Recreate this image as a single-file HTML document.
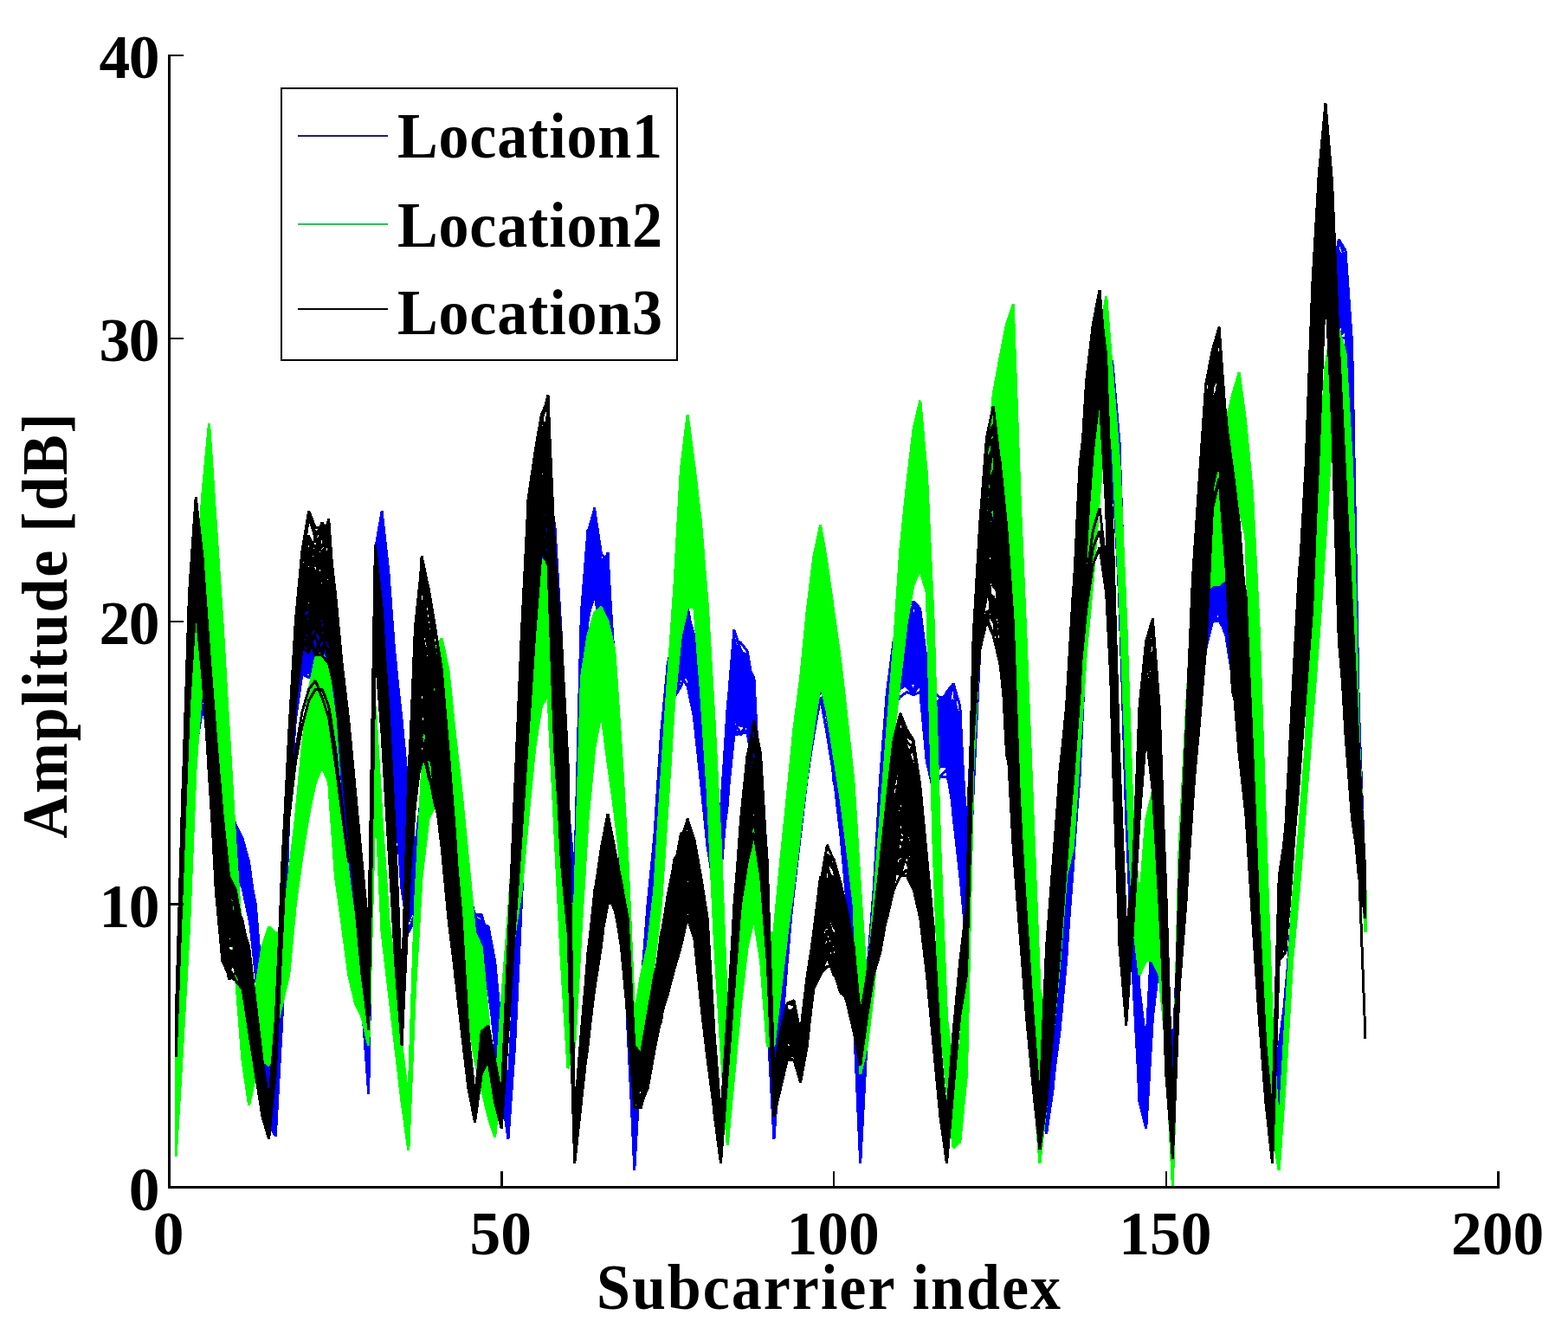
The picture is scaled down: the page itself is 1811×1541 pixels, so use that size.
<!DOCTYPE html>
<html lang="en"><head><meta charset="utf-8"><title>Amplitude vs Subcarrier index</title>
<style>html,body{margin:0;padding:0;background:#fff}svg{display:block}text{font-family:"Liberation Serif","DejaVu Serif",serif;font-weight:bold;fill:#000}.d polyline{fill:none;stroke-width:3;stroke-linejoin:bevel;vector-effect:non-scaling-stroke}.d polygon{stroke-width:3;stroke-linejoin:bevel;vector-effect:non-scaling-stroke}.b polyline{stroke:#00f}.b polygon{stroke:#00f;fill:#00f}.g polyline{stroke:#0f0}.g polygon{stroke:#0f0;fill:#0f0}.k polyline{stroke:#000}.k polygon{stroke:#000;fill:#000}</style></head><body>
<svg width="1811" height="1541" viewBox="0 0 1811 1541">
<rect width="1811" height="1541" fill="#fff"/>
<g class="d" shape-rendering="crispEdges" transform="translate(195.5,1371.5) scale(7.675,-32.69)">
<g class="b">
<polygon points="1,5.64 2,10.64 3,15.08 4,19.02 5,20.51 6,19.52 7,17.52 8,15.14 9,13.26 10,12.58 11,12.26 12,11.26 13,9.7 14,7.14 15,4.22 16,3.74 17,8.64 18,15.2 19,18.26 20,19.76 21,20.2 22,20.2 23,20.2 24,19.7 25,18.7 26,16.64 27,14.58 28,11.64 29,8.7 30,5.24 31,22.08 32,23.55 33,21.34 34,18.46 35,15.78 36,13.4 37,11.7 38,13.64 39,15.64 40,16.58 41,16.52 42,15.52 43,13.58 44,11.64 45,10.2 46,9.52 47,9.39 48,9.02 49,7.64 50,5.2 51,3.28 52,7.64 53,13.08 54,18.08 55,22.08 56,23.64 57,23.96 58,23.08 59,19.02 60,13.08 61,10.64 62,20.08 63,22.9 64,23.67 65,22.14 66,22.34 67,18.17 68,13.58 69,8.58 70,3.15 71,6.7 72,9.76 73,12.32 74,15.76 75,18.26 76,19.24 77,19.9 78,20.16 79,19.14 80,16.68 81,14.64 82,12.7 83,13.2 84,16.58 85,19.26 86,18.9 87,18.82 88,17.52 89,13.52 90,9.52 91,3.72 92,7.64 93,11.08 94,13.58 95,16.02 96,18.02 97,19.96 98,21 99,20.4 100,18.44 101,16.46 102,13.52 103,9.52 104,3.62 105,7.2 106,10.2 107,14.2 108,17.2 109,19.02 110,19.68 111,20.13 112,20.3 113,20.14 114,18.17 115,17.08 116,17.23 117,17.14 118,17.22 119,16.28 120,12.02 121,17.08 122,21.64 123,24.64 124,25.64 125,25.08 126,22.52 127,18.96 128,14.46 129,10.52 130,7.58 131,5.14 132,4.19 133,6.14 134,8.14 135,10.64 136,13.64 137,17.58 138,23.02 139,26.52 140,29.08 141,29.9 142,28.52 143,25.54 144,18.28 145,11.4 146,6.52 147,4.65 148,9.08 149,10.64 150,7.64 151,4.2 152,9.64 153,13.64 154,17.14 155,19.64 156,21.2 157,21.76 158,21.76 159,21.7 160,20.64 161,19.08 162,17.52 163,13.52 164,9.14 165,5.26 166,3.7 167,4.64 168,6.64 169,9.76 170,12.26 171,15.26 172,19.58 173,23.46 174,27.4 175,31.4 176,33.08 177,32.73 178,29.1 179,16.64 180,10.32 180,9.18 179,14.36 178,24.7 177,30.37 176,30.42 175,27.6 174,23.6 173,20.04 172,16.92 171,13.74 170,10.74 169,8.24 168,4.36 167,2.36 166,1.8 165,3.74 164,6.86 163,10.48 162,14.48 161,16.42 160,18.36 159,19.8 158,20.24 157,20.24 156,19.3 155,17.36 154,14.86 153,11.36 152,7.36 151,2.3 150,5.36 149,8.36 148,6.42 147,2.41 146,3.48 145,7.6 144,13.72 143,20.76 142,25.48 141,27.4 140,26.42 139,23.48 138,19.98 137,14.92 136,11.36 135,8.36 134,5.86 133,3.86 132,2.21 131,2.86 130,4.92 129,7.48 128,11.04 127,15.54 126,19.48 125,22.42 124,23.36 123,22.36 122,19.36 121,14.42 120,8.98 119,11.72 118,13.58 117,14.86 116,14.87 115,14.42 114,15.43 113,17.86 112,17.8 111,17.77 110,17.62 109,17.28 108,15.3 107,12.3 106,8.3 105,5.3 104,1.22 103,6.48 102,10.48 101,13.04 100,14.86 99,16.6 98,17.8 97,16.54 96,14.98 95,12.98 94,10.92 93,8.42 92,5.36 91,1.98 90,6.48 89,10.48 88,14.48 87,16.38 86,16.4 85,16.44 84,13.92 83,11.3 82,10.8 81,12.36 80,14.62 79,16.86 78,18.04 77,18 76,17.56 75,16.74 74,14.24 73,11.18 72,8.24 71,4.8 70,0.95 69,5.92 68,10.92 67,15.43 66,19.46 65,19.86 64,20.93 63,20.4 62,17.42 61,8.36 60,10.42 59,15.98 58,20.42 57,21.84 56,21.36 55,19.42 54,15.42 53,10.42 52,5.36 51,1.92 50,3.3 49,5.36 48,7.28 47,7.76 46,7.78 45,8.3 44,9.36 43,10.92 42,12.48 41,13.48 40,13.92 39,13.36 38,11.36 37,9.8 36,9.6 35,11.22 34,13.74 33,17.16 32,21.35 31,19.42 30,3.56 29,6.8 28,9.36 27,11.92 26,14.36 25,16.8 24,17.8 23,18.3 22,18.3 21,18.3 20,18.24 19,16.74 18,13.3 17,6.36 16,2.06 15,2.48 14,4.86 13,7.8 12,9.74 11,10.74 10,11.22 9,11.74 8,12.86 7,14.48 6,16.48 5,17.39 4,15.98 3,12.42 2,8.36 1,3.36"/>
<polyline points="1,3 2,8.1 3,12 4,15.5 5,16.9 6,16 7,14 8,12.5 9,11.5 10,11.04 11,10.59 12,9.5 13,8.23 14,4.82 15,2.63 16,1.86 17,6.07 18,13.09 19,16.89 20,18.17 21,18.32 22,18.21 23,18.12 24,17.64 25,16.5 26,14.08 27,11.7 28,9 29,6.5 30,3.3 31,19 32,21 33,16.5 34,15.01 35,11.61 36,9.01 37,9.5 38,11 39,13.18 40,14 41,13.89 42,12.59 43,10.5 44,9.56 45,8 46,8.01 47,7.6 48,7.06 49,5.21 50,3.53 51,1.7 52,5.09 53,10 54,15 55,19 56,21 57,21.5 58,20.09 59,15.5 60,10.82 61,8.08 62,17 63,20.17 64,20.89 65,20.21 66,19.53 67,15.47 68,11.15 69,5.51 70,0.82 71,4.59 72,8 73,11 74,14 75,16.5 76,17.32 77,17.7 78,18.34 79,16.5 80,14.3 81,12.08 82,10.5 83,11 84,13.97 85,16 86,16.02 87,16.39 88,14.24 89,10.25 90,6.99 91,1.78 92,5.43 93,8.35 94,10.75 95,12.5 96,14.5 97,16 98,17.3 99,16 100,14.52 101,12.5 102,10 103,6.03 104,0.84 105,5.25 106,8.42 107,12.08 108,15 109,17.21 110,17.83 111,17.77 112,17.54 113,18.31 114,15.04 115,14 116,14.52 117,14.75 118,13.32 119,11.65 120,8.52 121,14 122,19 123,22.12 124,23 125,22 126,19.09 127,15 128,10.5 129,7 130,4.91 131,2.76 132,1.9 133,3.5 134,6.3 135,8.19 136,11.26 137,14.71 138,20.23 139,23.52 140,26.32 141,27 142,25.57 143,20.61 144,13.53 145,8.1 146,3 147,2.06 148,6 149,8 150,5 151,2 152,7 153,11.34 154,14.5 155,17.08 156,19.04 157,20 158,20 159,19.63 160,18 161,16.4 162,14.3 163,10 164,6.56 165,3.88 166,1.5 167,2 168,4 169,8.16 170,10.5 171,13.5 172,16.5 173,19.66 174,23 175,27.08 176,30 177,30 178,24 179,14 180,9.17"/>
<polyline points="1,3.77 2,8.12 3,12.13 4,15.5 5,17.06 6,16 7,14 8,12.89 9,11.91 10,11.26 11,10.9 12,9.68 13,7.5 14,4.72 15,2.26 16,1.8 17,6 18,13 19,16.61 20,18.13 21,18.01 22,18.48 23,18.17 24,17.77 25,16.94 26,14 27,11.5 28,9.41 29,6.5 30,3.73 31,19.35 32,21.48 33,17.28 34,13 35,11.3 36,9 37,9.5 38,11.03 39,13.39 40,13.99 41,13.6 42,12 43,10.5 44,9 45,8.11 46,7.77 47,7.5 48,7.2 49,5.26 50,3.42 51,1.7 52,5 53,10 54,15.83 55,19.59 56,21.13 57,21.72 58,20.22 59,15.78 60,10.1 61,8.05 62,17 63,20 64,21.29 65,19.83 66,19.25 67,15.15 68,10.75 69,5.85 70,0.6 71,4.71 72,8.18 73,11 74,14 75,16.5 76,17.3 77,18.05 78,17.7 79,16.57 80,14.3 81,12 82,10.65 83,11.42 84,13.72 85,16.17 86,16 87,16.16 88,14.62 89,10.11 90,6 91,1.7 92,5 93,8 94,11.09 95,12.86 96,14.62 97,16.89 98,17.3 99,16.62 100,14.91 101,12.5 102,10 103,6 104,1.31 105,5.48 106,8 107,12.42 108,15.07 109,17.06 110,17.33 111,17.5 112,17.4 113,17.5 114,15 115,14.36 116,15.31 117,15.47 118,13.08 119,11 120,8.54 121,14 122,19.76 123,22.34 124,23 125,22.55 126,19.47 127,15 128,10.56 129,7.16 130,4.73 131,2.72 132,1.97 133,3.73 134,5.5 135,8 136,11.61 137,14.8 138,19.87 139,23 140,26.13 141,27.45 142,25 143,21.07 144,13.14 145,7.52 146,3.21 147,2.32 148,6.65 149,8.07 150,5.66 151,2 152,7 153,11.38 154,14.5 155,17.04 156,19.35 157,20.34 158,20 159,19.76 160,18.73 161,16.62 162,14.14 163,10.01 164,6.6 165,3.5 166,1.6 167,2.14 168,4.15 169,8.36 170,10.57 171,13.5 172,17.06 173,19.5 174,23.03 175,27.18 176,30.05 177,30 178,24.15 179,14.82 180,9"/>
<polyline points="1,3 2,8.56 3,12.62 4,15.5 5,16.99 6,16.45 7,14 8,12.5 9,11.98 10,11.48 11,10.92 12,9.79 13,7.83 14,5.21 15,2.25 16,2.09 17,6.05 18,13.09 19,16.67 20,18.14 21,18.16 22,18.35 23,18.43 24,18.07 25,16.5 26,14.3 27,11.5 28,9.35 29,6.76 30,3.63 31,19.08 32,21.09 33,16.5 34,13.61 35,10.5 36,9 37,9.7 38,11.64 39,13.39 40,13.5 41,13.23 42,12.79 43,11.2 44,9.33 45,8.86 46,7.76 47,7.8 48,7.27 49,5.12 50,3 51,2.1 52,5.6 53,10 54,15.77 55,19.75 56,21.62 57,21.8 58,20.25 59,15.94 60,10.68 61,8.82 62,17 63,20.59 64,21.2 65,19.93 66,19.1 67,15.4 68,10.7 69,5.96 70,0.85 71,4.94 72,8.16 73,11 74,14.15 75,16.81 76,17.71 77,18.2 78,18.6 79,17.54 80,14.51 81,12.29 82,10.68 83,11.39 84,13.61 85,16.35 86,16.08 87,16.05 88,14.67 89,10.06 90,6.7 91,2.27 92,5.24 93,8.3 94,10.5 95,12.5 96,15.03 97,16.26 98,18.02 99,17.02 100,15.43 101,13.98 102,10.45 103,6.47 104,0.84 105,5.35 106,8 107,12 108,15.47 109,17 110,17.67 111,17.91 112,17.56 113,18.2 114,15 115,14.3 116,14.5 117,14.5 118,13.98 119,12.34 120,8.61 121,14.57 122,19 123,22 124,23.55 125,22.53 126,19.37 127,15.16 128,10.79 129,7 130,5.28 131,2.74 132,2.14 133,4.33 134,5.71 135,8.06 136,11.59 137,14.5 138,19.5 139,23 140,27.24 141,27.04 142,25.04 143,21.03 144,13 145,8.3 146,3.47 147,2.25 148,6 149,8.07 150,5.23 151,2.29 152,7.6 153,11.58 154,15.06 155,17.73 156,19.13 157,20 158,20.12 159,19.5 160,18 161,16 162,14 163,10.91 164,7.08 165,3.79 166,1.77 167,2.53 168,4.22 169,8.03 170,10.63 171,13.5 172,16.72 173,20.87 174,23.96 175,27.11 176,30.7 177,30.19 178,24.4 179,14.2 180,9.32"/>
<polyline points="1,3.34 2,8.38 3,12.38 4,16.04 5,17.72 6,17.01 7,14 8,13.29 9,11.77 10,11.2 11,11.28 12,9.78 13,8.39 14,5.28 15,2.34 16,2.26 17,6.68 18,13.33 19,16.5 20,18.19 21,18.25 22,18.01 23,18.73 24,17.7 25,16.67 26,14.24 27,11.63 28,9.13 29,6.85 30,3.68 31,19.34 32,21.42 33,16.61 34,14.33 35,11.03 36,9.91 37,9.66 38,11.29 39,13.49 40,13.54 41,14.48 42,12.45 43,10.86 44,9.1 45,8.66 46,8.07 47,7.81 48,7 49,5.23 50,3.49 51,1.87 52,5.1 53,10.14 54,15.3 55,19.58 56,21.29 57,21.95 58,21.51 59,16.79 60,10.11 61,8.49 62,17.45 63,20.33 64,21.27 65,19.72 66,19.28 67,15.26 68,10.87 69,6.38 70,1.2 71,4.51 72,8.21 73,11.11 74,14.48 75,16.87 76,17.85 77,18.08 78,17.7 79,17.08 80,14.74 81,12.55 82,10.5 83,11.31 84,13.65 85,16.14 86,16.47 87,16.46 88,14.09 89,10 90,6 91,1.88 92,5.77 93,8.51 94,10.5 95,12.8 96,15.32 97,17.48 98,18.45 99,16.94 100,15.07 101,12.63 102,10.33 103,6.34 104,0.95 105,5.29 106,8.17 107,12.35 108,15.63 109,17.44 110,17.74 111,17.73 112,17.4 113,17.91 114,15.75 115,14.21 116,15.39 117,14.89 118,13.95 119,11.73 120,8.59 121,15.21 122,19.05 123,22.64 124,23.18 125,22.48 126,19.11 127,15.29 128,11.4 129,8.23 130,4.62 131,2.88 132,2.5 133,3.74 134,6.17 135,8.24 136,11.67 137,15.22 138,20.63 139,23.78 140,26.11 141,27.69 142,25.1 143,21.27 144,14.62 145,7.86 146,3.21 147,2.72 148,6.43 149,8 150,5.24 151,2.66 152,7.3 153,11.46 154,14.84 155,17 156,19.27 157,20.4 158,20.37 159,19.86 160,18 161,16.94 162,14.85 163,10.93 164,7.26 165,3.64 166,1.62 167,2.41 168,4.82 169,8 170,10.68 171,13.6 172,17.14 173,20.77 174,23.58 175,27.14 176,30.57 177,30.41 178,24.05 179,14.75 180,9.16"/>
<polyline points="1,3.57 2,8 3,13.22 4,15.55 5,17.37 6,16.46 7,14.71 8,12.68 9,11.79 10,11.52 11,11.17 12,10.21 13,8.27 14,5.07 15,2.69 16,2.28 17,6.21 18,13.41 19,16.8 20,18.2 21,18.22 22,18.39 23,18.03 24,17.5 25,16.9 26,14.58 27,11.68 28,9.7 29,7.09 30,3.77 31,20 32,21.81 33,17.89 34,14.89 35,11.67 36,9.38 37,10 38,11.71 39,13.43 40,14.19 41,13.51 42,12.11 43,10.5 44,9.16 45,8.09 46,7.8 47,8.15 48,7.01 49,5.3 50,3.73 51,2.27 52,5.56 53,10.83 54,15.94 55,20.43 56,21.54 57,21.88 58,21.04 59,15.99 60,10.62 61,8.94 62,17.49 63,20.44 64,20.98 65,19.55 66,19.47 67,15.55 68,10.5 69,5.77 70,0.9 71,5.01 72,8.49 73,11.27 74,14.82 75,16.66 76,17.78 77,18.49 78,18.36 79,17.04 80,14.88 81,12.64 82,10.98 83,11.66 84,13.5 85,16.59 86,16.3 87,16.31 88,15.07 89,10.8 90,6.7 91,1.7 92,5.53 93,8 94,10.71 95,12.99 96,15.96 97,16.09 98,18.72 99,17.96 100,15.9 101,13.72 102,11.41 103,6.66 104,1.47 105,5.58 106,8.24 107,12.35 108,15.44 109,17.19 110,17.89 111,17.67 112,17.45 113,17.78 114,15.28 115,14.16 116,15.18 117,15.56 118,13.71 119,12.17 120,9.32 121,14.41 122,20.04 123,22.75 124,24.1 125,22.75 126,19.88 127,16.71 128,11.29 129,7.81 130,5.49 131,2.82 132,2.45 133,3.59 134,5.76 135,8.17 136,11.6 137,14.8 138,19.79 139,23.82 140,27.15 141,27.25 142,26.68 143,20.47 144,14.03 145,7.73 146,4.61 147,2.89 148,6.9 149,9.01 150,5.84 151,2.41 152,7.3 153,11 154,15.21 155,17.24 156,19.21 157,20.23 158,20.33 159,19.97 160,18.6 161,17.21 162,15.04 163,10.29 164,7.25 165,3.72 166,1.73 167,2.83 168,4.45 169,8.38 170,11.14 171,14.15 172,17.26 173,19.96 174,23 175,27.95 176,30 177,30.34 178,24.58 179,14.19 180,9.28"/>
<polyline points="1,3.08 2,8.57 3,12.93 4,15.84 5,18.14 6,17.43 7,15.29 8,12.95 9,11.8 10,11.57 11,11.14 12,10.18 13,8.33 14,5.09 15,2.57 16,1.83 17,6.84 18,14.08 19,16.82 20,18.33 21,18.7 22,18.64 23,18.21 24,17.88 25,16.78 26,15.26 27,12 28,9.89 29,7.5 30,4.16 31,20.2 32,22.06 33,16.94 34,14.06 35,11.32 36,9.93 37,10.7 38,11.16 39,13.83 40,13.84 41,14.41 42,13.38 43,11.06 44,10.24 45,8.53 46,8.26 47,8 48,7.34 49,5.5 50,3.49 51,2.2 52,5.69 53,11.6 54,15.71 55,19.61 56,21.44 57,21.89 58,20.24 59,15.93 60,11.03 61,8.62 62,17.64 63,20.78 64,21.62 65,20.31 66,20.11 67,15.58 68,11.18 69,6.01 70,1.21 71,4.84 72,8.36 73,11.29 74,14.37 75,16.85 76,17.63 77,18.53 78,18.17 79,16.81 80,14.92 81,12.31 82,10.78 83,11.57 84,13.69 85,16 86,16.82 87,17.02 88,14.18 89,10.47 90,7.05 91,1.71 92,5.34 93,8.29 94,11.15 95,12.55 96,15.71 97,16.91 98,18.35 99,16.95 100,14.35 101,13.42 102,10.33 103,6.85 104,1.23 105,5.43 106,8.45 107,12.7 108,15.7 109,17.24 110,17.86 111,18.51 112,18.28 113,17.94 114,15.76 115,14.65 116,15.47 117,15.16 118,14.2 119,13.57 120,8.76 121,14.35 122,19.08 123,22.13 124,23.87 125,22.83 126,20.5 127,15.09 128,11.1 129,8.47 130,5.64 131,3.43 132,2.69 133,4.15 134,6.12 135,8.62 136,11.86 137,15.15 138,20.44 139,24.4 140,26.34 141,27.45 142,26.09 143,21.22 144,14.24 145,9.16 146,4.05 147,2.57 148,7.13 149,9.38 150,5.28 151,2.34 152,7.64 153,11.41 154,15.76 155,17.78 156,19.43 157,20.53 158,20.28 159,19.9 160,18.7 161,17.61 162,14 163,11.02 164,7.53 165,4.06 166,2.49 167,2.74 168,4.65 169,8.38 170,10.74 171,14.25 172,16.84 173,20.43 174,23.85 175,27.72 176,30 177,30.55 178,25.31 179,14.67 180,9.43"/>
<polyline points="1,3.73 2,9.15 3,12.94 4,16.15 5,17.54 6,16.37 7,14.83 8,13.17 9,11.86 10,11.83 11,10.89 12,9.82 13,8.01 14,5.11 15,3.01 16,2.34 17,6.43 18,13.62 19,17.3 20,18.6 21,18.59 22,18.79 23,18.62 24,17.98 25,16.99 26,15.21 27,12.37 28,10.02 29,7.01 30,3.85 31,20.77 32,21.24 33,18.49 34,14.65 35,11.91 36,9.66 37,10.35 38,11.56 39,13.91 40,14.81 41,13.83 42,12.78 43,11.1 44,9.34 45,8.33 46,8.03 47,8.19 48,7.24 49,5 50,3.52 51,2.29 52,6.24 53,11.18 54,16.36 55,19.97 56,22.1 57,22.27 58,20.23 59,16.51 60,10.56 61,8.49 62,17.86 63,20.49 64,21.23 65,20.7 66,20.14 67,15.86 68,10.96 69,6.53 70,1.16 71,5.11 72,8.49 73,11.19 74,14.49 75,16.86 76,17.94 77,18.4 78,18.35 79,17.62 80,14.8 81,12.23 82,10.98 83,11.59 84,14.5 85,16.83 86,16.89 87,16.63 88,15.56 89,10.76 90,7.03 91,2.23 92,5.7 93,8.96 94,11.14 95,13.42 96,15.66 97,16.75 98,17.58 99,17.31 100,15.37 101,13.35 102,11.28 103,7.28 104,2.47 105,5.9 106,8.67 107,12.63 108,15 109,17.7 110,18.19 111,18.19 112,18.18 113,18.34 114,16.72 115,15.14 116,15.53 117,15.14 118,14.62 119,12.53 120,9.47 121,15.42 122,19.72 123,22.74 124,23.58 125,22.93 126,20.58 127,16.21 128,12.14 129,8.32 130,5.19 131,2.75 132,3.13 133,4.15 134,6.18 135,8.41 136,12.04 137,15.74 138,20.71 139,23.78 140,26.23 141,27.22 142,25.49 143,20.84 144,14.53 145,8.46 146,3.66 147,2.86 148,6.69 149,8.7 150,5.96 151,2.51 152,7.7 153,11.79 154,15.4 155,17.44 156,19.62 157,20 158,20.7 159,19.93 160,18.26 161,17.04 162,15.45 163,11.59 164,7.46 165,3.88 166,2.24 167,2.88 168,4.72 169,8.46 170,11.2 171,14.3 172,17.18 173,20.66 174,24.81 175,28.97 176,31.55 177,30.41 178,26.11 179,14.58 180,9.03"/>
<polyline points="1,4.45 2,9.25 3,12.85 4,17.39 5,18.05 6,17.2 7,14.94 8,13.47 9,12.15 10,11.49 11,10.97 12,9.99 13,8.07 14,5.62 15,2.75 16,2.43 17,6.88 18,13.61 19,17.1 20,18.34 21,18.87 22,18.87 23,18.63 24,18.56 25,16.95 26,14.94 27,12.57 28,9.63 29,7.13 30,4.13 31,20.08 32,21.99 33,19.02 34,15.12 35,11.4 36,10.17 37,10.45 38,11.81 39,13.49 40,13.73 41,14.16 42,13.63 43,10.99 44,9.17 45,8.84 46,8.06 47,8.11 48,7.66 49,5.69 50,3.9 51,2.42 52,6 53,10.8 54,16.32 55,19.88 56,21.94 57,21.96 58,21.15 59,16.88 60,11.44 61,8.9 62,18.24 63,20.86 64,21.97 65,20.69 66,20.59 67,15.94 68,11.08 69,6.44 70,1.31 71,4.96 72,8.63 73,11.53 74,14.62 75,17.28 76,18.04 77,18.23 78,18.42 79,17.36 80,15.35 81,13.21 82,11.29 83,11.97 84,14.18 85,16.94 86,17.34 87,16.96 88,15.45 89,10.33 90,6.46 91,2.18 92,6.22 93,9.67 94,11.41 95,13.39 96,15.36 97,16.97 98,18.75 99,17.24 100,16.43 101,13.99 102,10.76 103,7.13 104,1.64 105,5.89 106,8.95 107,12.67 108,16.01 109,17.87 110,18.14 111,18.46 112,18.63 113,18.29 114,15.77 115,15.38 116,15.31 117,15.09 118,14.46 119,11.72 120,9.63 121,14.54 122,19.78 123,22.41 124,23.75 125,23.43 126,20.2 127,15.85 128,12.6 129,7.88 130,5.96 131,3.13 132,2.19 133,4.82 134,6.17 135,9.05 136,12.21 137,15.1 138,20.77 139,24.05 140,27.33 141,28.04 142,25.74 143,21.91 144,15.16 145,8.22 146,4.27 147,2.66 148,6.88 149,8.89 150,5.86 151,3.02 152,8.17 153,12.18 154,15.67 155,18.01 156,19.51 157,20.83 158,20.94 159,20.27 160,18.75 161,16.91 162,15.51 163,11.14 164,7 165,4.01 166,2.02 167,2.83 168,4.66 169,8.46 170,11.43 171,14.34 172,17.04 173,20.43 174,24.23 175,28.19 176,30.46 177,31.07 178,24.58 179,14.99 180,9.51"/>
<polyline points="1,4.31 2,8.96 3,13.97 4,16.43 5,18.71 6,17.84 7,14.91 8,13.75 9,11.8 10,11.84 11,11.19 12,10.11 13,8.23 14,5.28 15,3.11 16,2.57 17,6.91 18,13.08 19,17.33 20,18.82 21,19.15 22,18.87 23,18.55 24,18.29 25,17.1 26,15.42 27,12.76 28,9.78 29,7.08 30,4.26 31,20.32 32,21.19 33,17.7 34,15.63 35,11.35 36,10.27 37,10.35 38,12.07 39,14.5 40,15.16 41,14.36 42,13.85 43,11.95 44,10.22 45,9.16 46,8.28 47,8.36 48,7.96 49,5.88 50,3.95 51,2.1 52,6.02 53,11.19 54,16.33 55,20.9 56,22.29 57,22.4 58,21.27 59,16.94 60,11.44 61,9.11 62,18.08 63,21.3 64,21.38 65,20.06 66,20.68 67,16.16 68,11.78 69,6.19 70,1.41 71,5.14 72,8.5 73,11.73 74,14.47 75,17.35 76,18.02 77,18.75 78,18.29 79,17.58 80,15.29 81,13.08 82,11.42 83,11.99 84,14.72 85,17.13 86,16.74 87,16.97 88,15.32 89,11.62 90,8.37 91,2.79 92,6.06 93,9.4 94,11.05 95,13.71 96,15.32 97,17.65 98,17.86 99,17.76 100,14.49 101,14.93 102,11.98 103,6.89 104,2.21 105,5.83 106,9.35 107,13.1 108,15.81 109,17.73 110,18.4 111,18.08 112,18.85 113,18.63 114,15.94 115,15.01 116,15.35 117,15.38 118,15.57 119,12.75 120,9.88 121,14.77 122,20.36 123,23.08 124,24.48 125,22.69 126,20.22 127,16.67 128,12.24 129,8.57 130,5.88 131,3.4 132,2.71 133,4.11 134,6.43 135,8.8 136,12.33 137,15.93 138,20.82 139,24.65 140,26.99 141,28.1 142,26.09 143,22.62 144,14.78 145,8.87 146,4.18 147,2.62 148,7.46 149,9.14 150,6.26 151,2.6 152,7.38 153,11.91 154,15.63 155,17.37 156,20.35 157,20.78 158,20.85 159,20.05 160,19.3 161,17.32 162,15.94 163,12 164,7.14 165,4 166,2.09 167,2.8 168,4.85 169,8.77 170,10.86 171,13.86 172,17.82 173,20.66 174,24.99 175,28.83 176,31.67 177,30.69 178,25.55 179,15.34 180,9.5"/>
<polyline points="1,4.25 2,8.96 3,12.07 4,17.01 5,18.13 6,16.88 7,15.15 8,12.57 9,11.85 10,11.86 11,11.69 12,10.73 13,8.35 14,5.78 15,3.36 16,2.46 17,7.75 18,13.81 19,17.32 20,18.48 21,18.93 22,18.8 23,19.05 24,17.98 25,17.27 26,15.5 27,12.25 28,10.16 29,7.53 30,4.05 31,20.33 32,22.62 33,19.46 34,15.98 35,13.16 36,10.45 37,10.49 38,12.64 39,14.35 40,14.18 41,13.43 42,12.97 43,11.63 44,9.77 45,8.73 46,8.36 47,8.47 48,7.92 49,6.57 50,3.68 51,2.54 52,6.4 53,10.95 54,16.88 55,19.82 56,21.7 57,23.25 58,21.63 59,16.94 60,11.56 61,9.26 62,17.68 63,21.21 64,22.2 65,20.5 66,20.43 67,16.23 68,12.18 69,6.77 70,1.66 71,5.25 72,8.65 73,11.64 74,14.87 75,17.16 76,17.83 77,18.61 78,18.68 79,17.81 80,14.99 81,12.81 82,11.44 83,12.23 84,14.74 85,17.37 86,17 87,17.2 88,16.07 89,12.04 90,8.13 91,2.27 92,6.44 93,9 94,11.96 95,12.9 96,15.75 97,17 98,19.12 99,17.6 100,16.4 101,13.79 102,12.19 103,7.29 104,2.67 105,5.89 106,8.8 107,13.29 108,15.96 109,17.95 110,18.03 111,18.49 112,18.65 113,18.33 114,16.33 115,14.3 116,15.73 117,15.3 118,15.21 119,12.72 120,9.59 121,15.09 122,20.22 123,23.37 124,24.09 125,23.19 126,20.87 127,17.27 128,11.56 129,8.16 130,5.59 131,4.09 132,3.11 133,4.71 134,6.58 135,8.58 136,12.26 137,15.45 138,20.5 139,25.17 140,26.77 141,28.74 142,26.7 143,22.04 144,15.65 145,8.69 146,4.75 147,3.06 148,6.94 149,9.91 150,5.89 151,3.08 152,7.94 153,12.13 154,15.04 155,17.62 156,19 157,20.88 158,20.8 159,20.14 160,19.44 161,17.65 162,16.87 163,11.8 164,8.04 165,4.45 166,2.69 167,3.13 168,4.95 169,8.82 170,11.4 171,13.89 172,17.17 173,20.87 174,25.49 175,28.54 176,30.61 177,31.39 178,26.68 179,15.8 180,9.65"/>
<polyline points="1,4.07 2,9.73 3,13.56 4,17.34 5,18.69 6,17.11 7,15.08 8,13.45 9,12.11 10,11.7 11,11.63 12,10.61 13,8.59 14,6.32 15,3.08 16,2.76 17,7.14 18,13.9 19,17.03 20,18.96 21,18.74 22,19.35 23,19.54 24,18.81 25,17.74 26,15.61 27,12.28 28,10.04 29,7.17 30,4.05 31,21.08 32,22.31 33,19.17 34,15.31 35,12.86 36,9.84 37,10.33 38,12.02 39,14.29 40,15.2 41,15.21 42,14.01 43,12.36 44,9.93 45,8.83 46,8.2 47,8.23 48,8.05 49,6.43 50,4.35 51,2.68 52,6.11 53,10.74 54,16.15 55,20.76 56,21.59 57,22.35 58,21.46 59,17.8 60,11.49 61,9.16 62,18.87 63,21.07 64,21.98 65,20.2 66,20.66 67,16.37 68,12.49 69,7.11 70,1.96 71,5.55 72,8.63 73,11.29 74,14.6 75,17.12 76,18.33 77,19.08 78,19.24 79,17.79 80,15.73 81,13.16 82,11.72 83,11.76 84,14.71 85,16.68 86,17.98 87,18 88,15.97 89,12.16 90,7.46 91,2.3 92,5.78 93,9 94,12.28 95,13.95 96,16.24 97,17.67 98,19.26 99,18.06 100,15.81 101,14.22 102,11.45 103,7.34 104,2.71 105,5.72 106,9.46 107,13.03 108,16.21 109,17.82 110,18.09 111,18.96 112,18.45 113,18.55 114,16.89 115,15.96 116,15.52 117,15.8 118,14.79 119,13.08 120,9.64 121,14.82 122,19.84 123,23.66 124,24.24 125,24.54 126,21.02 127,16.91 128,11.55 129,8.94 130,5.63 131,3.15 132,3.14 133,5.54 134,6.9 135,9.92 136,12.57 137,15.31 138,21.09 139,23.94 140,27.43 141,28.1 142,26.83 143,22.6 144,16.84 145,9.54 146,4.72 147,3.32 148,6.67 149,8.82 150,6.03 151,3.2 152,8.58 153,12.85 154,15.83 155,18.48 156,19.85 157,20.44 158,20.76 159,20.42 160,19.05 161,17.85 162,15.63 163,12.37 164,7.92 165,4.08 166,2.62 167,3.26 168,4.83 169,8.67 170,11.17 171,14.47 172,18.06 173,21.61 174,24.8 175,28.52 176,31.01 177,30.88 178,26.31 179,14.98 180,9.85"/>
<polyline points="1,4.43 2,9.01 3,13.08 4,16.88 5,18.92 6,17.6 7,15.59 8,13.59 9,12.37 10,12.12 11,11.3 12,10.38 13,9.13 14,6.16 15,3.03 16,3.07 17,6.98 18,14.24 19,16.85 20,18.63 21,19.25 22,18.86 23,18.83 24,18.54 25,17.55 26,15.15 27,12.81 28,10.91 29,8.05 30,4.42 31,20.28 32,22.24 33,18.96 34,16.21 35,14.21 36,10.96 37,10.61 38,12.13 39,14.27 40,14.67 41,14.77 42,14.1 43,11.82 44,10.19 45,9.13 46,8.24 47,8.89 48,7.78 49,6.33 50,3.98 51,2.83 52,6.26 53,11.43 54,17.23 55,20.47 56,22.03 57,22.65 58,21.49 59,16.82 60,11.36 61,9.18 62,18.75 63,21.7 64,22.43 65,20.86 66,21.11 67,16.65 68,12.6 69,7.32 70,1.84 71,5.96 72,8.59 73,11.51 74,14.69 75,17.3 76,17.92 77,18.41 78,18.31 79,17.77 80,15.23 81,13.97 82,11.82 83,11.87 84,15.62 85,17.81 86,17.95 87,17.18 88,16.36 89,12.3 90,7.64 91,2.51 92,6.16 93,9.54 94,12.77 95,14.85 96,16.73 97,17.75 98,18.93 99,18.35 100,16.27 101,14.36 102,11.8 103,8.25 104,2.34 105,6.26 106,9.12 107,13.12 108,16.05 109,18.31 110,18.52 111,19.16 112,18.69 113,19.03 114,15.96 115,15.29 116,15.78 117,15.6 118,15.08 119,13.19 120,10.31 121,15.43 122,20.44 123,23.35 124,24.13 125,23.49 126,20.84 127,16.42 128,12.48 129,9.18 130,5.85 131,3.88 132,3.11 133,4.48 134,7.15 135,10.04 136,12.01 137,16.85 138,21.08 139,25.49 140,27.05 141,28.97 142,26.97 143,22.15 144,15.26 145,8.7 146,4.37 147,3.41 148,7.38 149,8.46 150,6.12 151,3.14 152,8.27 153,12.79 154,15.26 155,18.43 156,20.17 157,21.09 158,20.69 159,20.38 160,19.39 161,17.68 162,15.12 163,11.94 164,7.8 165,4.49 166,1.88 167,3.37 168,4.94 169,8.72 170,11.48 171,14.69 172,18.08 173,21.47 174,25.97 175,28.91 176,31.62 177,31.34 178,26.21 179,15.48 180,10"/>
<polyline points="1,3.97 2,9.55 3,13.58 4,17.69 5,18.67 6,17.62 7,15.56 8,13.87 9,12.53 10,11.78 11,11.48 12,10.65 13,8.54 14,6.41 15,3.15 16,2.53 17,7.33 18,14.16 19,17.45 20,18.78 21,19.22 22,19.43 23,19.43 24,18.69 25,17.38 26,16 27,13.58 28,10.47 29,8.02 30,4.66 31,20.73 32,22.11 33,19.2 34,15.3 35,13.13 36,12.03 37,10.69 38,12.12 39,14.5 40,15.18 41,14.59 42,13.96 43,12.91 44,10.69 45,9.28 46,8.7 47,8.9 48,7.67 49,6.67 50,4.11 51,2.67 52,6.41 53,11.55 54,15.91 55,20.78 56,22.6 57,22.58 58,21 59,17.22 60,10.79 61,9.13 62,18.75 63,21.78 64,22.45 65,21.09 66,20.83 67,16.91 68,12.51 69,7.48 70,2.06 71,5.73 72,9.03 73,11.51 74,14.89 75,17.14 76,18.2 77,18.32 78,18.97 79,18.17 80,15.73 81,13.7 82,11.81 83,12.23 84,14.36 85,17.51 86,17.53 87,17.3 88,16.35 89,11.72 90,8.63 91,3.08 92,6.43 93,9.19 94,11.81 95,14.19 96,16.47 97,19.29 98,18.86 99,19.17 100,16.62 101,14.51 102,11.99 103,8.07 104,2.56 105,6.22 106,9.07 107,13.4 108,16.24 109,18.18 110,18.27 111,18.65 112,18.63 113,18.92 114,16.76 115,15.64 116,16.09 117,15.95 118,16.04 119,13.51 120,10.8 121,15.48 122,20.25 123,23.03 124,24.89 125,23.31 126,20.67 127,16.64 128,12.53 129,8.5 130,6.89 131,4.06 132,3.79 133,5.35 134,6.47 135,9.63 136,12.72 137,16.43 138,21.33 139,25.17 140,28.14 141,28.62 142,27.47 143,23.93 144,17.19 145,9.43 146,5.15 147,3.39 148,7.38 149,9.09 150,6.28 151,3.43 152,8.23 153,12.4 154,15.94 155,18.22 156,20.23 157,20.74 158,20.86 159,20.63 160,19.49 161,17.28 162,15.9 163,11.2 164,7.28 165,4.39 166,2.94 167,3.9 168,5.73 169,9.02 170,11.86 171,14.54 172,17.97 173,22.13 174,25.07 175,28.8 176,31.84 177,31.78 178,26.48 179,15.16 180,9.73"/>
<polyline points="1,4.55 2,9.73 3,14.19 4,17.09 5,20.13 6,18.16 7,15.97 8,13.66 9,12.48 10,11.6 11,11.52 12,10.33 13,8.76 14,5.68 15,3.33 16,3.4 17,7.93 18,14.4 19,17.42 20,19.43 21,19 22,19.04 23,19.68 24,18.65 25,18.09 26,15.62 27,13.92 28,10.95 29,7.84 30,4.25 31,21.01 32,22.96 33,19.62 34,14.71 35,13.69 36,11.64 37,10.86 38,12.49 39,14.87 40,14.77 41,15.08 42,13.08 43,11.39 44,10.15 45,9.07 46,8.5 47,8.52 48,8.43 49,6.88 50,4.44 51,2.74 52,6.41 53,11.47 54,16.25 55,20.54 56,22.07 57,22.72 58,21.93 59,17.69 60,12.26 61,9.33 62,18.17 63,21.5 64,23.27 65,21.4 66,20.92 67,17.39 68,12.13 69,7.8 70,1.86 71,5.57 72,9.09 73,11.56 74,14.97 75,17.94 76,18.6 77,18.83 78,19.22 79,18.2 80,15.6 81,13.74 82,12.11 83,12.26 84,15.49 85,17.85 86,17.6 87,17.29 88,16.36 89,12.6 90,7.96 91,2.77 92,6.86 93,10.03 94,12.87 95,14.89 96,16.57 97,17.66 98,19.61 99,18.42 100,15.91 101,13.96 102,11.21 103,8.26 104,2.36 105,5.53 106,9.18 107,13.26 108,16.39 109,18.29 110,18.66 111,19.24 112,19.38 113,18.87 114,17.26 115,15.6 116,15.71 117,16.03 118,14.78 119,14.04 120,10.29 121,15.83 122,20.77 123,22.95 124,24.76 125,23.94 126,20.94 127,17.52 128,12.79 129,8.73 130,5.8 131,4.18 132,3.41 133,4.63 134,6.92 135,9.33 136,12.96 137,16.28 138,21.22 139,25.76 140,27.97 141,28.72 142,27.02 143,22.85 144,15.84 145,9.84 146,5.15 147,3.44 148,7.91 149,10.23 150,6.53 151,3.09 152,8.72 153,12.3 154,16.87 155,18.71 156,20.36 157,21.02 158,21.33 159,20.43 160,19.44 161,17.18 162,16.6 163,12.15 164,8.72 165,4.58 166,2.65 167,3.46 168,5.86 169,8.87 170,11.54 171,14.31 172,17.89 173,21.36 174,26.21 175,28.93 176,31.92 177,31.91 178,26.78 179,15.24 180,10.08"/>
<polyline points="1,4.5 2,9.38 3,14.03 4,18.66 5,20.06 6,18.29 7,16.16 8,13.9 9,12.48 10,11.8 11,11.5 12,10.21 13,8.94 14,5.98 15,3.41 16,3 17,7.34 18,14.76 19,17.75 20,19.55 21,19.61 22,19.76 23,19.6 24,18.85 25,17.86 26,15.42 27,12.62 28,10.17 29,7.87 30,4.26 31,20.46 32,22.44 33,19.92 34,15.87 35,13.92 36,11.97 37,10.95 38,12.39 39,13.82 40,15.05 41,15.45 42,14.46 43,11.92 44,10.9 45,9.46 46,8.68 47,8.48 48,8.26 49,6.68 50,4.59 51,2.57 52,6.42 53,11.95 54,16.75 55,21.01 56,22.23 57,23.1 58,22.06 59,16.96 60,11.85 61,9.96 62,18.92 63,22.23 64,22.61 65,21.4 66,21.27 67,17.09 68,13.15 69,7.3 70,1.69 71,5.66 72,9.1 73,11.61 74,15.15 75,17.67 76,18.46 77,18.97 78,19.17 79,18.08 80,16.49 81,14.11 82,12.01 83,12.6 84,15.74 85,18.66 86,18.06 87,17.6 88,15.63 89,11.3 90,7.98 91,3.27 92,6.68 93,10.11 94,12.38 95,14.78 96,16.43 97,18.38 98,20.67 99,19.15 100,17.54 101,14.77 102,12.47 103,8.17 104,1.98 105,5.63 106,8.76 107,13.32 108,16.54 109,18.23 110,18.83 111,19.62 112,19.43 113,19.1 114,17.36 115,16.44 116,15.63 117,16.01 118,15.15 119,13.33 120,10.91 121,15.85 122,21.12 123,23.75 124,24.54 125,23.91 126,21.69 127,17.82 128,13.22 129,9.45 130,6.49 131,4.43 132,3.04 133,4.92 134,6.91 135,9.71 136,12.52 137,16.71 138,21.53 139,25.29 140,27.94 141,29.06 142,27.56 143,23.88 144,16.43 145,9.97 146,5.94 147,3.61 148,7.55 149,9.26 150,6.5 151,2.98 152,8.36 153,12.38 154,16.28 155,18.64 156,20.68 157,21.41 158,21.29 159,20.92 160,19.74 161,18.61 162,16.79 163,11.68 164,8.1 165,4.32 166,3.18 167,3.46 168,5.08 169,8.88 170,11.35 171,14.46 172,18.64 173,21.93 174,26.56 175,29.55 176,32.22 177,31.27 178,26.99 179,15.73 180,9.68"/>
<polyline points="1,4.97 2,9.48 3,14.13 4,18.18 5,19.84 6,17.73 7,16.02 8,13.8 9,12.67 10,11.9 11,11.54 12,10.9 13,9.6 14,5.66 15,3.91 16,2.84 17,7.91 18,14.54 19,17.95 20,19.19 21,19.35 22,19.54 23,19.71 24,18.74 25,18.03 26,15.69 27,13.56 28,10.77 29,8.17 30,4.85 31,21.08 32,22.68 33,18.59 34,16.03 35,12.97 36,12.17 37,10.67 38,12.58 39,15.01 40,16.04 41,15.98 42,14.08 43,12.64 44,11.04 45,9.2 46,8.76 47,8.5 48,8.25 49,7.08 50,4.58 51,2.74 52,6.62 53,12.56 54,17.25 55,20.54 56,23.39 57,23.06 58,22.1 59,17.8 60,11.97 61,10.01 62,18.54 63,21.9 64,22.41 65,21.74 66,21.38 67,17.34 68,12.86 69,7.9 70,2.42 71,5.38 72,9.24 73,11.8 74,15.27 75,17.72 76,18.49 77,19.01 78,19.16 79,18.45 80,15.91 81,13.5 82,11.84 83,12.5 84,15.26 85,18.12 86,17.8 87,17.15 88,16.54 89,12.49 90,8.72 91,3.33 92,6.48 93,10.19 94,12.62 95,14.92 96,17.29 97,19.21 98,19.38 99,19.79 100,16.98 101,14.77 102,11.98 103,8.19 104,2.34 105,6.79 106,9.66 107,13.34 108,16.75 109,18.43 110,18.89 111,19.46 112,19.24 113,19.15 114,17.33 115,15.5 116,16.06 117,16.52 118,16.44 119,13.52 120,10.8 121,15.74 122,20.63 123,23.94 124,25.27 125,24.79 126,21.88 127,18.07 128,13.26 129,8.57 130,6.63 131,3.84 132,3.11 133,5.32 134,6.87 135,10.41 136,13.05 137,16.76 138,22.06 139,25.39 140,28 141,29.12 142,27.07 143,23.98 144,16.82 145,10.52 146,5.03 147,3.9 148,7.99 149,9.89 150,6.86 151,3.49 152,8.92 153,12.97 154,16.78 155,18.96 156,20.66 157,20.99 158,21.11 159,21.11 160,20.03 161,17.7 162,16.4 163,12.37 164,8.39 165,4.64 166,2.9 167,3.73 168,5.74 169,9.34 170,11.48 171,14.5 172,18.92 173,22.54 174,26.02 175,29.47 176,32.44 177,31.44 178,27.94 179,15.78 180,9.85"/>
<polyline points="1,5.08 2,9.51 3,14.47 4,17.94 5,18.86 6,18.97 7,16.48 8,14.18 9,13.04 10,12.05 11,11.84 12,10.58 13,8.55 14,5.91 15,3.9 16,3.04 17,8.81 18,14.05 19,17.98 20,19.08 21,19.79 22,19.62 23,19.37 24,19.3 25,18.39 26,16.28 27,14.13 28,11.01 29,7.98 30,4.82 31,20.94 32,22.64 33,18.84 34,17.23 35,14.72 36,12.14 37,10.85 38,13.3 39,15.19 40,16.45 41,15.82 42,15.14 43,12.8 44,10.98 45,9.64 46,8.97 47,8.77 48,8.59 49,7.27 50,4.5 51,3.05 52,7.01 53,12.17 54,17.54 55,21.04 56,22.29 57,23.54 58,22.1 59,17.94 60,12.62 61,9.8 62,19.85 63,21.7 64,23 65,21.77 66,22 67,17.54 68,12.66 69,7.52 70,2.27 71,6.28 72,9.26 73,12.01 74,15.51 75,17.45 76,18.51 77,19.35 78,19.46 79,18.49 80,16.1 81,13.43 82,12.27 83,12.53 84,15.42 85,18.66 86,17.91 87,18.42 88,16.93 89,12.81 90,8.54 91,3.25 92,6.86 93,10.52 94,12.79 95,15.31 96,17.34 97,18.96 98,19.58 99,19.71 100,17.8 101,15.3 102,11.81 103,8.15 104,2.8 105,6.9 106,9.37 107,13.84 108,16.59 109,18.52 110,18.63 111,19.29 112,19.44 113,19.1 114,17.22 115,15.78 116,16.16 117,16.23 118,15.95 119,15.31 120,11.44 121,15.81 122,20.12 123,24.04 124,24.75 125,23.92 126,21.78 127,18.12 128,13.02 129,10 130,6.55 131,4.12 132,3.7 133,4.6 134,8.26 135,10.11 136,12.9 137,17.09 138,22.23 139,25.6 140,28.35 141,28.69 142,27.82 143,24.15 144,16.29 145,10.17 146,6.02 147,4.17 148,8.16 149,10.59 150,6.99 151,3.47 152,8.91 153,13.28 154,16.82 155,18.83 156,20.42 157,21.15 158,21.09 159,20.71 160,19.99 161,18.96 162,16.83 163,12.45 164,8.59 165,4.83 166,3.04 167,4.42 168,6.09 169,8.9 170,11.89 171,14.83 172,18.51 173,22.93 174,26.31 175,29.66 176,32.19 177,32.06 178,27.31 179,15.75 180,9.87"/>
<polyline points="1,4.77 2,10.51 3,15.03 4,18.07 5,20.49 6,19.19 7,17.38 8,15.04 9,13.34 10,12.15 11,11.84 12,11.03 13,8.97 14,6.44 15,3.52 16,2.7 17,7.6 18,14.74 19,17.66 20,19.02 21,19.61 22,19.83 23,19.99 24,19.49 25,18.55 26,15.98 27,13.92 28,10.95 29,8.14 30,4.87 31,21.7 32,22.71 33,20.34 34,17.29 35,13.3 36,11.55 37,11.06 38,12.5 39,15.56 40,15.29 41,15.42 42,15.31 43,12.92 44,11.52 45,9.67 46,9.47 47,8.94 48,8.77 49,7.3 50,4.22 51,2.64 52,6.25 53,11.65 54,17.36 55,21.07 56,23.09 57,23.69 58,22.71 59,18.6 60,12.41 61,10.14 62,19.79 63,22.83 64,23.64 65,21.83 66,21.64 67,17.47 68,13.4 69,7.81 70,2.94 71,5.8 72,9.34 73,11.91 74,15.34 75,17.58 76,18.79 77,19.37 78,19.6 79,18.34 80,15.96 81,14.2 82,12.56 83,12.97 84,16.2 85,18.79 86,17.84 87,18.45 88,16.55 89,12.13 90,8.14 91,3.27 92,6.81 93,9.51 94,13.4 95,14.5 96,17.9 97,19.57 98,19.97 99,20.41 100,18.51 101,16.44 102,13.31 103,9.11 104,3.18 105,6.59 106,9.71 107,13.89 108,16.49 109,18.8 110,18.45 111,19.23 112,18.89 113,18.84 114,17.43 115,16.27 116,16.54 117,16.4 118,16.53 119,14.65 120,11.51 121,16.48 122,20.85 123,24.27 124,24.5 125,24.44 126,21.61 127,17.95 128,13.2 129,9.65 130,6.46 131,3.98 132,3.62 133,5.23 134,7.45 135,10.18 136,12.95 137,17.51 138,21.97 139,26.57 140,28.65 141,30 142,28.3 143,24.73 144,17.09 145,10.18 146,4.86 147,3.62 148,7.71 149,9.55 150,6.77 151,3.37 152,9.01 153,12.99 154,16.52 155,19.35 156,21.02 157,21.28 158,21.48 159,22 160,20.22 161,18.65 162,16.37 163,12.98 164,8.82 165,4.81 166,2.93 167,3.76 168,5.2 169,9.33 170,11.7 171,14.9 172,19.05 173,22.84 174,27.78 175,31.28 176,32.47 177,32.57 178,28.75 179,16.22 180,10.27"/>
<polyline points="1,4.58 2,10.03 3,14.08 4,18.61 5,19.63 6,18.44 7,16.87 8,15.21 9,13.11 10,12.44 11,11.87 12,11.08 13,9.34 14,6.53 15,3.2 16,3.43 17,7.95 18,14.57 19,17.76 20,19.57 21,19.77 22,20.01 23,19.54 24,19.21 25,18.35 26,16.45 27,14.19 28,11.21 29,8.26 30,4.61 31,21.16 32,22.34 33,20.3 34,17.21 35,14.1 36,13.27 37,11.3 38,13.01 39,15.06 40,16.35 41,15.45 42,15.23 43,13.09 44,11.72 45,10.04 46,8.89 47,9.38 48,8.32 49,7.35 50,5.3 51,3 52,7.61 53,12.76 54,17.85 55,21.09 56,23.57 57,23.63 58,22.5 59,19.16 60,12.12 61,9.99 62,19.33 63,22.07 64,23.08 65,20.78 66,21.9 67,16.86 68,12.57 69,8.28 70,2.88 71,6.41 72,9.39 73,12.19 74,15.62 75,18.2 76,18.97 77,19.2 78,19.49 79,18.21 80,15.93 81,14.35 82,12.16 83,12.52 84,16.29 85,18.48 86,18.67 87,18.74 88,17.26 89,13.09 90,9.29 91,3.69 92,7.24 93,11.15 94,12.93 95,14.81 96,17.37 97,18.76 98,20 99,20.05 100,18.07 101,15.28 102,12.86 103,8.73 104,3.77 105,6.53 106,9.93 107,14.16 108,16.36 109,18.55 110,18.7 111,19.03 112,19.59 113,19.08 114,17.12 115,16.63 116,16.1 117,17.16 118,16.88 119,15.05 120,11.29 121,16.85 122,21.28 123,23.98 124,25.22 125,24.64 126,21.6 127,17.68 128,13.26 129,9.55 130,6.36 131,4.48 132,3.49 133,5.71 134,7.74 135,10.41 136,13.84 137,17.7 138,22.13 139,25.99 140,28.68 141,29.16 142,27.05 143,25.44 144,17.33 145,10.05 146,5.57 147,3.76 148,8.48 149,10.68 150,7.65 151,4.06 152,9.3 153,13.14 154,16.91 155,19.2 156,20.71 157,21.29 158,21.51 159,20.85 160,19.96 161,17.54 162,16.05 163,13.47 164,8.32 165,5.02 166,3.23 167,4.34 168,6.7 169,9.41 170,11.84 171,14.65 172,19.92 173,22.6 174,26.43 175,30.52 176,32.35 177,31.9 178,26.65 179,16.22 180,10.07"/>
<polyline points="1,5.47 2,10.6 3,15.5 4,18.44 5,19.97 6,18.56 7,16.9 8,14.12 9,12.73 10,12.22 11,11.56 12,10.8 13,9.03 14,6.93 15,4.17 16,3.84 17,8.26 18,15.06 19,18.5 20,19.47 21,20.45 22,19.84 23,20.34 24,19.19 25,18.47 26,16.39 27,14.21 28,10.77 29,8.44 30,4.87 31,22.04 32,23.2 33,19.11 34,17.29 35,15.18 36,12.33 37,11.03 38,12.68 39,15.02 40,15.73 41,15.9 42,14.96 43,13.71 44,11.13 45,10.14 46,9.16 47,9.35 48,9.14 49,7.29 50,4.72 51,3.13 52,7.32 53,12.4 54,17.69 55,21.51 56,23.28 57,23.03 58,22.63 59,18.7 60,12.1 61,10.66 62,19.55 63,21.96 64,22.8 65,21.57 66,21.74 67,17.8 68,13.46 69,8.32 70,2.92 71,6.34 72,9.24 73,12.11 74,15.35 75,18.23 76,18.44 77,19.82 78,18.91 79,18.54 80,16.15 81,13.7 82,11.94 83,12.91 84,15.52 85,18.55 86,18.38 87,18.56 88,16.52 89,13.63 90,9.12 91,3.8 92,7.05 93,11.28 94,13.38 95,16.12 96,17.51 97,20 98,20.61 99,18.88 100,18.96 101,15.45 102,13 103,8.68 104,2.84 105,6.59 106,9.92 107,13.94 108,16.96 109,18.26 110,19.48 111,19.26 112,20.7 113,19.98 114,18.31 115,16.87 116,17.11 117,16.78 118,17.8 119,15.73 120,12.17 121,16.49 122,21.27 123,24.14 124,25.16 125,24.31 126,22.03 127,18.37 128,12.82 129,9.52 130,6.42 131,4.89 132,3.4 133,5.8 134,7.77 135,10.27 136,12.76 137,17.89 138,22.7 139,26.58 140,29.28 141,29.41 142,27.9 143,26.21 144,18.95 145,10.49 146,6 147,4.51 148,8.46 149,10.5 150,7.24 151,3.68 152,9.22 153,12.89 154,16.93 155,18.89 156,21.11 157,21.97 158,21.16 159,21.86 160,19.94 161,18.81 162,18 163,13.75 164,9.2 165,5.23 166,3.59 167,4.55 168,6.3 169,9.48 170,11.75 171,15.3 172,18.97 173,23.47 174,26.78 175,30.6 176,31.98 177,32.03 178,28.04 179,16.09 180,10.04"/>
<polyline points="1,5.59 2,10.49 3,14.38 4,17.95 5,19.83 6,18.31 7,16.48 8,14.93 9,13.03 10,12.6 11,12.31 12,11.09 13,9.71 14,6.86 15,4.23 16,3.72 17,9 18,14.97 19,18.36 20,19.51 21,19.99 22,19.86 23,20.09 24,19.35 25,17.8 26,15.61 27,13.97 28,11.47 29,8.48 30,5.2 31,22.33 32,23.55 33,20.85 34,18.75 35,16.27 36,13.2 37,11.76 38,13.14 39,15.44 40,16.23 41,15.32 42,14.35 43,13.48 44,11.23 45,9.79 46,9.48 47,9.24 48,8.42 49,7.36 50,5.18 51,3.5 52,7.45 53,13.45 54,17.88 55,22.39 56,23.69 57,23.95 58,22.8 59,18.63 60,12.76 61,10.41 62,19.28 63,22.58 64,23.17 65,21.69 66,22.1 67,17.25 68,12.82 69,8.62 70,3.17 71,6.86 72,9.8 73,12.36 74,15.62 75,18.32 76,19.05 77,19.46 78,20.29 79,19.24 80,16.35 81,13.73 82,12.19 83,13.11 84,15.76 85,18.64 86,18.58 87,18.1 88,17.09 89,13.01 90,9.23 91,3.56 92,7.31 93,11.24 94,13.64 95,16.5 96,17.63 97,20.1 98,20.42 99,20.21 100,17.81 101,15.62 102,11.9 103,8.8 104,3.07 105,6.83 106,9.87 107,13.96 108,16.6 109,18.72 110,19.55 111,19.93 112,20.13 113,20.41 114,18.53 115,16.67 116,16.72 117,17.08 118,16.64 119,15.56 120,11.71 121,16.46 122,21.13 123,24.4 124,24.75 125,24.61 126,21.45 127,19.08 128,13.53 129,10.55 130,6.84 131,5.12 132,4.4 133,6.5 134,8.32 135,9.75 136,13.71 137,17.32 138,23.12 139,26.8 140,27.93 141,29.41 142,27 143,24.84 144,16.96 145,10.4 146,5.8 147,3.94 148,7.94 149,10.25 150,7.49 151,4.06 152,9.57 153,13.52 154,17.17 155,19.13 156,21.36 157,21.63 158,21.21 159,21.16 160,20.31 161,19.1 162,17.05 163,12.41 164,8.46 165,5.05 166,3.54 167,4.4 168,6.4 169,9.8 170,12.27 171,15.46 172,20 173,22.77 174,26.75 175,31.06 176,32.9 177,32.45 178,29.7 179,15.93 180,10"/>
<polyline points="1,4.94 2,10.71 3,15.32 4,18.62 5,20.29 6,19.44 7,16.94 8,14.88 9,13.28 10,12.44 11,12.16 12,11.18 13,10 14,7.06 15,4.19 16,3.52 17,8.87 18,15.11 19,18.17 20,19.94 21,20.43 22,19.85 23,20 24,19.9 25,18.45 26,16.96 27,14.34 28,12 29,8.34 30,4.71 31,21.42 32,23.9 33,20.7 34,17.91 35,15.15 36,12.78 37,11.61 38,13.52 39,15.3 40,16.22 41,16.87 42,15.72 43,13.78 44,11.89 45,10.04 46,9.62 47,9.65 48,8.72 49,7.9 50,4.45 51,2.85 52,7.05 53,12.56 54,17.58 55,21.75 56,23.76 57,23.64 58,22.79 59,18.31 60,12.34 61,10.43 62,19.63 63,23.02 64,23.52 65,21.45 66,22.44 67,17.57 68,13.29 69,8.06 70,2.78 71,6.43 72,9.42 73,12.13 74,15.6 75,18.3 76,19.28 77,20.2 78,19.57 79,18.88 80,16.88 81,14.17 82,12.55 83,13.26 84,16.95 85,19.28 86,18.84 87,18.59 88,17.56 89,13.36 90,9.46 91,3.47 92,7.47 93,10.61 94,13.04 95,15.49 96,17.48 97,19.42 98,20.53 99,19.37 100,18.33 101,16.37 102,13.94 103,8.38 104,3.03 105,6.84 106,9.87 107,14.1 108,16.86 109,18.73 110,19.73 111,19.9 112,19.59 113,20.27 114,18.6 115,17.31 116,17.03 117,17.41 118,16.97 119,15.79 120,11.92 121,17.35 122,21.51 123,24.39 124,25.06 125,24.96 126,21.88 127,18.7 128,13.62 129,9.99 130,7.08 131,4.8 132,3.76 133,6.36 134,8.21 135,10.38 136,13.16 137,17.77 138,22.71 139,26.55 140,29.27 141,29.62 142,28.51 143,25.53 144,17.73 145,11.06 146,6.06 147,3.49 148,8.75 149,10.97 150,7.79 151,4.5 152,9.52 153,13.77 154,16.82 155,19.28 156,20.86 157,21.75 158,21.81 159,21.09 160,20.69 161,19.21 162,17.62 163,12.81 164,9.05 165,5.23 166,3.25 167,4.16 168,7 169,9.53 170,12.06 171,14.76 172,19.17 173,23.82 174,27.33 175,30.72 176,32.92 177,32.7 178,29.18 179,16.2 180,10.31"/>
<polyline points="1,5 2,10.61 3,15.02 4,18.58 5,20.88 6,19.34 7,17.29 8,15.31 9,13.21 10,12.41 11,12.22 12,11.14 13,9.85 14,6.98 15,4.4 16,3.55 17,8.28 18,15.33 19,17.95 20,19.65 21,19.53 22,19.87 23,20.1 24,19.5 25,18.68 26,16.58 27,15 28,11.82 29,8.7 30,5.31 31,22.31 32,23.89 33,21.44 34,18.36 35,15.79 36,13.39 37,11.85 38,13.63 39,14.74 40,16.49 41,15.88 42,14.73 43,12.81 44,11.2 45,10.07 46,9.35 47,9.22 48,9.23 49,8 50,5.5 51,3.18 52,7.68 53,12.45 54,18.09 55,21.96 56,23.96 57,24.05 58,23.09 59,19.04 60,13.32 61,10.44 62,19.73 63,22.65 64,23.16 65,22.12 66,21.09 67,17.59 68,14 69,8.22 70,3.28 71,6.76 72,9.84 73,12.27 74,15.65 75,18.29 76,19.18 77,19.65 78,20 79,18.97 80,17 81,14.38 82,12.68 83,12.81 84,15.53 85,18.97 86,18.68 87,18.37 88,17.42 89,13.93 90,8.95 91,3.73 92,8 93,11.17 94,13.6 95,15.63 96,17.85 97,19.43 98,20.69 99,20.71 100,18.11 101,16.78 102,12.57 103,8.84 104,3.78 105,6.97 106,10.24 107,14.49 108,17.48 109,19.3 110,19.48 111,19.95 112,20.61 113,19.88 114,18.33 115,16.95 116,17.06 117,16.66 118,17.11 119,16.67 120,12.44 121,17.02 122,21.92 123,24.65 124,26 125,24.64 126,22.83 127,18.31 128,14.84 129,10.34 130,7.5 131,4.86 132,4.13 133,5.82 134,8.5 135,10.03 136,13.58 137,17.72 138,23.36 139,26.63 140,29.19 141,29.93 142,28.59 143,26.3 144,17.5 145,11.41 146,6.61 147,4.62 148,8.56 149,11 150,7.73 151,4.3 152,9.63 153,13.61 154,16.51 155,19.55 156,21.4 157,21.78 158,21.45 159,21.51 160,20.59 161,19.29 162,17.66 163,13.03 164,9.12 165,5 166,3.8 167,4.24 168,6.44 169,9.4 170,12.41 171,14.79 172,19.3 173,24 174,27.11 175,31.32 176,32.44 177,32.44 178,28.88 179,16.98 180,10.46"/>
<polyline points="1,5.64 2,10.65 3,15.29 4,19.5 5,20.28 6,18.7 7,17.28 8,15.27 9,12.98 10,12.59 11,11.99 12,11 13,9.79 14,6.71 15,4.26 16,3.32 17,8.58 18,15.5 19,18.32 20,19.75 21,20.45 22,20.05 23,19.94 24,19.57 25,18.61 26,16.57 27,14.38 28,11.88 29,8.78 30,5.2 31,22.5 32,23.23 33,21.79 34,18.44 35,16.5 36,13.95 37,12 38,13.94 39,16 40,16.47 41,16.88 42,14.78 43,13.66 44,11.85 45,10.31 46,9.58 47,8.96 48,9.04 49,7.6 50,5.5 51,3.49 52,8 53,13.5 54,18.5 55,21.87 56,23.58 57,23.51 58,23.5 59,18.93 60,12.57 61,10.68 62,19.79 63,22.68 64,24.01 65,21.5 66,21.82 67,18.22 68,13.66 69,9 70,3.27 71,7 72,10 73,12.23 74,15.59 75,18.19 76,19.22 77,19.62 78,20.16 79,18.81 80,16.86 81,14.67 82,12.79 83,13.22 84,16.68 85,18.78 86,18.99 87,18.48 88,18 89,13.4 90,9.48 91,3.78 92,8 93,10.81 94,14 95,16.03 96,18.5 97,19.69 98,20.6 99,20.2 100,18.06 101,16.11 102,13.84 103,9.48 104,4 105,7.5 106,10.5 107,14.5 108,17.5 109,18.96 110,20 111,19.46 112,20.7 113,20.45 114,17.69 115,17.38 116,16.54 117,17.33 118,16.92 119,16.09 120,12.02 121,17.02 122,22 123,24.84 124,25.87 125,25.38 126,22.67 127,18.79 128,14.91 129,10.93 130,7.18 131,5.36 132,4.42 133,6.07 134,8.44 135,9.91 136,13.98 137,17.33 138,23.22 139,26.33 140,29.5 141,30.02 142,29 143,25.16 144,18.54 145,11.9 146,6.63 147,4.48 148,9.5 149,10.13 150,7.56 151,4.06 152,9.42 153,13.74 154,17.16 155,19.6 156,21.42 157,21.84 158,21.99 159,22 160,20.95 161,19.38 162,17.58 163,14 164,9.5 165,5.39 166,3.76 167,4.33 168,6.56 169,9.74 170,11.96 171,15.02 172,19.5 173,24 174,27.73 175,30.95 176,33.5 177,33.1 178,29.8 179,16.72 180,10.4"/>
<polyline points="1,6 2,11 3,15.5 4,19.1 5,20.89 6,20 7,17.78 8,15.23 9,13.42 10,12.66 11,12.32 12,11.4 13,9.72 14,6.75 15,4.07 16,4 17,8.31 18,15.12 19,18.23 20,19.79 21,20.34 22,20.37 23,20.5 24,19.84 25,18.44 26,16.86 27,14.59 28,12 29,9 30,5.5 31,22.27 32,23.69 33,21.56 34,18.42 35,15.82 36,13.22 37,11.44 38,13.61 39,15.46 40,16.45 41,16.43 42,16 43,13.75 44,11.96 45,10.5 46,9.64 47,9.53 48,8.87 49,8 50,5.5 51,3.32 52,8 53,13.5 54,18.5 55,22.49 56,24 57,24.16 58,22.63 59,18.59 60,13.13 61,11 62,20.27 63,23.23 64,23.34 65,21.69 66,22.29 67,17.94 68,13.73 69,8.89 70,3.5 71,6.83 72,9.96 73,12.29 74,15.79 75,18.49 76,19.47 77,20.2 78,20.5 79,19.21 80,16.97 81,15 82,13 83,13.37 84,16.85 85,19.7 86,18.98 87,18.61 88,17.13 89,13.8 90,9.31 91,3.2 92,7.85 93,10.95 94,13.45 95,16.32 96,17.77 97,20.45 98,21.5 99,21 100,18.39 101,16.97 102,13.99 103,10 104,3.79 105,7.5 106,10.04 107,14.25 108,17.18 109,18.78 110,19.97 111,20.12 112,20.26 113,19.55 114,18.45 115,16.87 116,17.09 117,17.5 118,17.8 119,17 120,11.91 121,17.5 122,22 123,25 124,26 125,25.25 126,23 127,19.5 128,15 129,10.83 130,7.24 131,5.27 132,4.35 133,6.5 134,7.47 135,10.89 136,13.34 137,17.97 138,23.26 139,26.03 140,28.57 141,30.02 142,28.26 143,26.3 144,18.79 145,11.34 146,7 147,5 148,9.17 149,11 150,8 151,4.5 152,9.62 153,13.89 154,17.42 155,19.45 156,21.05 157,22 158,21.67 159,21.57 160,20.05 161,19.23 162,17.94 163,13.22 164,9.24 165,5.29 166,4 167,4.83 168,6.56 169,9.97 170,12.5 171,15.5 172,19.55 173,24 174,27.39 175,32 176,33.5 177,32.77 178,29.64 179,16.88 180,10.27"/>
<polyline points="1,6 2,11 3,15.23 4,19.2 5,21 6,20 7,17.41 8,15.29 9,13.44 10,12.8 11,12.34 12,11.5 13,9.73 14,7.26 15,4.38 16,4 17,8.78 18,15.5 19,18.5 20,20 21,20.5 22,20.12 23,20 24,19.87 25,19 26,16.78 27,14.6 28,12 29,8.84 30,5.42 31,22.5 32,23.9 33,21.75 34,18.62 35,16.5 36,13.27 37,11.62 38,13.8 39,15.89 40,17 41,17 42,16 43,14 44,11.98 45,10.5 46,9.63 47,9.55 48,8.95 49,8 50,5.5 51,3.29 52,8 53,13.5 54,18.5 55,22.05 56,24 57,24.23 58,23.43 59,19.5 60,13.5 61,11 62,20.29 63,23.15 64,23.96 65,22.4 66,22.11 67,18.5 68,13.39 69,8.78 70,3.48 71,7 72,10 73,12.38 74,16 75,18.45 76,19.34 77,20.07 78,20.28 79,19.5 80,17 81,15 82,13 83,13.25 84,16.68 85,19.36 86,19.24 87,18.94 88,17.54 89,13.42 90,9.65 91,4 92,8 93,10.95 94,14 95,16.06 96,18.07 97,20.22 98,21.44 99,20.85 100,19 101,17 102,14 103,9.64 104,3.79 105,7.15 106,10.24 107,14.37 108,17.39 109,19.3 110,19.82 111,20.5 112,20.7 113,20.32 114,18.3 115,17.49 116,17.31 117,17.29 118,17.8 119,15.62 120,12.5 121,17.5 122,22 123,24.49 124,25.71 125,25.43 126,23 127,19.09 128,14.78 129,11 130,8 131,5.5 132,4.13 133,6.5 134,8.16 135,10.66 136,14 137,17.54 138,23.13 139,26.81 140,29.5 141,30.3 142,29 143,26.3 144,18.91 145,12 146,7 147,5 148,9.47 149,11 150,7.98 151,4.5 152,9.95 153,13.69 154,17.5 155,20 156,21.47 157,22 158,22 159,21.88 160,21 161,19.5 162,17.51 163,13.08 164,9.31 165,5.18 166,4 167,5 168,6.77 169,10 170,12.35 171,15.5 172,20 173,24 174,28 175,31.71 176,33.5 177,33.1 178,29.17 179,17 180,10.39"/>
</g>
<g class="g">
<polygon points="1,5 2,11 3,16 4,21 5,24.5 6,27 7,23.5 8,20 9,16 10,12 11,8.5 12,5 13,7 14,8.5 15,9.2 16,9 17,9 18,11 19,13 20,15.5 21,17.5 22,18.7 23,18.9 24,18.3 25,16.5 26,13 27,11 28,9.2 29,7.5 30,7 31,17 32,13 33,9.5 34,7.5 35,5 36,3 37,10 38,14.5 39,17.5 40,19 41,19.4 42,18.3 43,16 44,13.9 45,11.5 46,9 47,8.5 48,6 49,3 50,6.5 51,9.5 52,13 53,16.5 54,19.5 55,21.5 56,22.2 57,22 58,19 59,15 60,10 61,10 62,18 63,19.5 64,20.3 65,20.5 66,20 67,19 68,15.5 69,11.5 70,6 71,7.5 72,8.5 73,10.5 74,14.3 75,17.8 76,21.2 77,25.4 78,27.3 79,25.5 80,23.5 81,20.6 82,16.6 83,12 84,6 85,8.5 86,10.5 87,12.3 88,12.9 89,12 90,9 91,9 92,11.5 93,13.8 94,16.2 95,18 96,20.4 97,22.3 98,23.4 99,22 100,20.3 101,18.6 102,16.5 103,14.3 104,10.5 105,7 106,10 107,13 108,16 109,19 110,22.5 111,24.8 112,26.8 113,27.8 114,25.2 115,20 116,12 117,6 118,4 119,5 120,8 121,18 122,22.5 123,25.5 124,28 125,29.3 126,30.5 127,31.2 128,24.5 129,19 130,13 131,7 132,6 133,9 134,11.5 135,14.5 136,14.5 137,19 138,23 139,26.5 140,30 141,31.5 142,28.5 143,25.5 144,20 145,13 146,10 147,13 148,14 149,12.5 150,9 151,2 152,12 153,16.5 154,21 155,23.5 156,25 157,26 158,26.5 159,27 160,28 161,28.8 162,27 163,24.5 164,19.7 165,12.5 166,5.5 167,2 168,6 169,10 170,12.5 171,15.5 172,21 173,25 174,29 175,30.5 176,30.3 177,29.5 178,25.5 179,16 180,10.5 180,9 179,13 178,20 177,25 176,27 175,27 174,23 173,19.5 172,16.5 171,13.5 170,10.5 169,8 168,4 167,0.6 166,2 165,5 164,10.4 163,16.6 162,23 161,24 160,23 159,21.5 158,21.3 157,21.3 156,21 155,20.5 154,18 153,13.5 152,9 151,0 150,5 149,7.5 148,8 147,8 146,7.5 145,9.5 144,15 143,21 142,26 141,27.5 140,24.5 139,21.5 138,19 137,15.5 136,12 135,11 134,8 133,5.5 132,3 131,0.85 130,4 129,8 128,13 127,19 126,23 125,24 124,24 123,22.5 122,19.5 121,15 120,4 119,1.6 118,1.4 117,3.5 116,6 115,12 114,21 113,21.8 112,21.3 111,20 110,18 109,16 108,13 107,10 106,7 105,5 104,4 103,10 102,12 101,13.8 100,15.3 99,16.8 98,17.8 97,16.3 96,14.6 95,12.7 94,10.7 93,9 92,7 91,5 90,5 89,8 88,9.5 87,8.5 86,6.5 85,4 84,1.5 83,5 82,9 81,14 80,17.5 79,20.5 78,20.5 77,19.5 76,17.2 75,13.5 74,10 73,8 72,6 71,4 70,2.8 69,8.7 68,11.3 67,13.3 66,15 65,16.8 64,15.5 63,13 62,9.2 61,5 60,4.2 59,8 58,12.7 57,17.4 56,17 55,15.5 54,13.1 53,10.5 52,9 51,7 50,4 49,1.76 48,2.5 47,3.5 46,4.5 45,6 44,7.5 43,9.5 42,12 41,13.5 40,13.5 39,13 38,11 37,7 36,1.3 35,3 34,5 33,7 32,9 31,14 30,5 29,6 28,6.5 27,7.5 26,9.3 25,11 24,14.3 23,14.85 22,14.3 21,13.2 20,11.7 19,10 18,7.5 17,6.5 16,5.5 15,4.3 14,4.5 13,4 12,2.9 11,4.5 10,7.5 9,10.5 8,13.5 7,16.5 6,20 5,18 4,14.9 3,9.2 2,5 1,1.1"/>
<polyline points="1,1.41 2,5.21 3,10.02 4,15.58 5,18 6,21.07 7,16.73 8,14.87 9,10.5 10,8.05 11,5.07 12,2.9 13,4.44 14,4.5 15,5.16 16,5.71 17,6.5 18,7.5 19,10.24 20,12.37 21,13.2 22,14.3 23,15.1 24,14.3 25,11 26,9.3 27,7.5 28,6.5 29,6.14 30,5.03 31,14.23 32,9 33,7 34,5 35,3.13 36,1.3 37,7.07 38,11.16 39,13.05 40,13.68 41,14.21 42,12 43,9.5 44,7.52 45,6 46,4.5 47,3.5 48,2.85 49,1.76 50,4.01 51,7 52,9 53,10.5 54,13.47 55,15.5 56,17.05 57,17.86 58,12.9 59,8 60,4.59 61,6.02 62,9.2 63,13 64,15.51 65,17.37 66,15.59 67,13.75 68,11.82 69,8.7 70,3.08 71,4 72,6.13 73,8.26 74,10.15 75,13.72 76,17.2 77,19.92 78,21.55 79,21.05 80,17.8 81,14.66 82,9 83,5 84,1.74 85,4 86,6.63 87,8.5 88,9.5 89,8.1 90,5 91,5 92,7 93,9 94,11.43 95,13.1 96,14.6 97,16.6 98,17.94 99,16.8 100,15.37 101,13.8 102,12.23 103,10 104,4 105,5.06 106,7.18 107,10.32 108,13.03 109,16.17 110,18.21 111,20.02 112,22.26 113,22.1 114,21.38 115,12.88 116,6.52 117,3.62 118,1.64 119,1.6 120,4 121,15.07 122,19.5 123,22.5 124,24.57 125,24.47 126,23.32 127,19 128,13.22 129,8.1 130,4 131,0.85 132,3.12 133,5.64 134,8.35 135,11.5 136,12.19 137,15.88 138,19.6 139,21.5 140,24.5 141,27.5 142,26.08 143,21.56 144,15.3 145,10.07 146,7.62 147,8.63 148,8.07 149,8.32 150,5.02 151,0.08 152,9.4 153,13.75 154,18.27 155,20.86 156,21 157,21.71 158,21.37 159,21.5 160,23 161,24.42 162,23 163,16.6 164,10.44 165,5.56 166,2 167,0.65 168,4.14 169,8.21 170,10.82 171,13.5 172,16.63 173,20.16 174,23 175,27.15 176,27.28 177,25.47 178,20 179,13 180,9.16"/>
<polyline points="1,1.26 2,5.71 3,9.2 4,15.11 5,18.72 6,20.96 7,17.41 8,13.5 9,10.5 10,7.77 11,5.6 12,3.12 13,4.03 14,4.5 15,4.64 16,5.57 17,6.77 18,7.82 19,10 20,12 21,13.85 22,14.43 23,14.85 24,14.3 25,11 26,10.19 27,8.14 28,6.57 29,6.3 30,5 31,14.12 32,9.06 33,7.13 34,5.28 35,3.45 36,1.5 37,7.18 38,11.32 39,13.3 40,14.15 41,13.57 42,12.6 43,10.16 44,8.36 45,6 46,4.93 47,3.97 48,2.55 49,1.76 50,4.1 51,7.38 52,9.2 53,11.99 54,13.75 55,15.5 56,17.28 57,17.9 58,13.46 59,8.47 60,4.92 61,6.61 62,10.48 63,13.48 64,15.58 65,16.8 66,15.39 67,13.53 68,11.63 69,8.82 70,3.28 71,4.58 72,6.03 73,8 74,10.35 75,14.23 76,17.59 77,20.18 78,20.5 79,20.71 80,18.29 81,14.7 82,9.5 83,5.73 84,2.06 85,4.29 86,6.54 87,8.5 88,9.85 89,8.29 90,5.27 91,5.66 92,7.05 93,9.17 94,11.29 95,12.7 96,14.6 97,16.5 98,18.65 99,17 100,15.61 101,13.8 102,12.72 103,10 104,4.01 105,5.09 106,7.69 107,10.27 108,13.08 109,16 110,18.25 111,20 112,21.36 113,22.15 114,21.65 115,12 116,7.1 117,3.5 118,2.03 119,1.71 120,4.19 121,15.09 122,19.73 123,22.65 124,24.12 125,24.04 126,23.22 127,20.07 128,13.5 129,8.31 130,4 131,1.27 132,3.29 133,5.5 134,8.48 135,11.22 136,12.21 137,15.5 138,19.55 139,22.42 140,25.77 141,27.56 142,26.13 143,21.51 144,15.51 145,9.56 146,7.71 147,8.82 148,8.79 149,7.89 150,5.63 151,0 152,9.27 153,13.5 154,18.09 155,20.9 156,21.88 157,21.87 158,21.8 159,22.67 160,23.66 161,24 162,23.03 163,16.62 164,10.47 165,5 166,2.47 167,0.74 168,4.45 169,8.11 170,10.66 171,13.5 172,17.12 173,20.37 174,24.19 175,27.55 176,27.12 177,25.83 178,20.07 179,13.09 180,9.08"/>
<polyline points="1,1.48 2,6.06 3,9.66 4,15.47 5,19.01 6,21.67 7,16.97 8,13.84 9,11.28 10,8.1 11,4.63 12,2.92 13,4.15 14,4.5 15,4.75 16,5.51 17,6.8 18,8.07 19,10.67 20,12.61 21,14.11 22,14.55 23,15.4 24,14.71 25,11.28 26,9.3 27,7.61 28,6.65 29,6 30,5.07 31,14.22 32,9.58 33,7.64 34,5.54 35,3.28 36,1.92 37,7.61 38,11.67 39,14.37 40,13.91 41,13.5 42,12.41 43,9.77 44,7.74 45,6.35 46,4.86 47,4.16 48,2.5 49,1.95 50,4.45 51,7.52 52,9.91 53,11.42 54,14.83 55,17.06 56,18.36 57,18.06 58,14.39 59,8 60,4.49 61,5.16 62,9.2 63,13.21 64,15.97 65,17.07 66,15.9 67,14.15 68,11.76 69,9.22 70,3.26 71,4.9 72,6.51 73,8.02 74,10.94 75,13.89 76,17.59 77,19.86 78,20.99 79,21.55 80,17.53 81,14.55 82,10.06 83,5.3 84,2.34 85,5.18 86,7.54 87,9.26 88,10.1 89,8.51 90,5 91,5.41 92,7 93,9 94,10.94 95,13.17 96,15.28 97,16.76 98,18.79 99,17.77 100,16.23 101,15.18 102,13.08 103,10.91 104,5.87 105,5.2 106,7.37 107,10.5 108,13.41 109,16 110,18 111,20 112,21.49 113,22.59 114,21.45 115,13.26 116,6.55 117,4.14 118,2.06 119,2.36 120,4.64 121,15.71 122,20.08 123,22.96 124,24.03 125,24.22 126,24.21 127,19.95 128,13.82 129,8 130,4 131,1.9 132,3.31 133,6.12 134,8.97 135,11.88 136,12.6 137,16.19 138,19 139,22.02 140,25.07 141,27.62 142,26 143,21.2 144,15 145,9.66 146,7.5 147,8.56 148,8.34 149,9.09 150,5.79 151,0.43 152,9.85 153,14.23 154,18.57 155,20.96 156,21 157,21.3 158,21.35 159,21.97 160,23.33 161,24 162,23.33 163,16.86 164,10.4 165,6.54 166,2.35 167,0.83 168,4.22 169,8.58 170,10.8 171,13.61 172,16.7 173,19.5 174,23.6 175,27 176,27.49 177,25.05 178,20 179,13.21 180,9.05"/>
<polyline points="1,1.73 2,5.19 3,10.29 4,15.73 5,18.86 6,20.69 7,16.74 8,15.2 9,10.96 10,8.44 11,5.33 12,3.27 13,4.52 14,5.36 15,4.96 16,6.05 17,6.97 18,8.13 19,10.42 20,11.7 21,13.89 22,14.58 23,15.88 24,15.34 25,11.99 26,9.97 27,7.5 28,6.89 29,6.15 30,5.61 31,14.17 32,10.36 33,7.37 34,5 35,3.61 36,1.55 37,7.58 38,11.88 39,13.17 40,14.19 41,14.52 42,13.66 43,10.46 44,8.83 45,6.11 46,5.41 47,3.93 48,2.96 49,1.97 50,4.58 51,7.27 52,9.79 53,11.33 54,14.47 55,16.27 56,18.44 57,17.78 58,13.21 59,9.86 60,4.81 61,6.07 62,11.12 63,13.18 64,16.16 65,17.25 66,15.75 67,13.54 68,12.04 69,9.2 70,3.04 71,4.57 72,6.45 73,8.07 74,10.68 75,14.51 76,18.09 77,19.95 78,21.19 79,21.32 80,18.67 81,15.5 82,10.27 83,6.57 84,1.98 85,5.38 86,7.08 87,8.82 88,9.89 89,8.07 90,5.4 91,5.54 92,7.9 93,10.21 94,11.21 95,13.24 96,15.86 97,17.76 98,19.04 99,17.74 100,15.64 101,14.36 102,12.15 103,10.44 104,5.67 105,5.56 106,7.41 107,10.62 108,13.8 109,16.22 110,18.22 111,20.51 112,21.3 113,23.09 114,21.64 115,13.09 116,6.98 117,4 118,1.81 119,1.81 120,4.83 121,15.34 122,20.04 123,22.8 124,24.63 125,24.16 126,24.24 127,20.6 128,15.77 129,9.01 130,4.78 131,2.16 132,3 133,6.23 134,8.53 135,11.42 136,12.41 137,15.97 138,19.34 139,22.57 140,24.96 141,28.16 142,26.35 143,21.43 144,15.52 145,10.12 146,7.81 147,9.31 148,9.34 149,8.1 150,5.94 151,0 152,9.88 153,13.66 154,18.16 155,21.23 156,21.11 157,21.76 158,22.24 159,21.5 160,23.71 161,25.08 162,23.39 163,18.74 164,11.17 165,7 166,2.65 167,0.83 168,4.27 169,8.15 170,10.98 171,13.62 172,17.2 173,20.67 174,24.17 175,27.74 176,27.35 177,25.24 178,20.96 179,13.43 180,9.36"/>
<polyline points="1,1.96 2,6.45 3,10.15 4,14.9 5,18.05 6,20.68 7,16.87 8,13.79 9,12.36 10,7.65 11,5.47 12,3.37 13,4.69 14,5.26 15,5.64 16,6.64 17,7.59 18,8.19 19,10.55 20,12.62 21,14.44 22,16.01 23,15.63 24,14.77 25,11 26,9.34 27,7.9 28,7.03 29,6.11 30,5.38 31,14.69 32,9.97 33,7.48 34,5.84 35,3.17 36,1.79 37,7.81 38,11.45 39,14.67 40,15.74 41,15.22 42,13.27 43,11.35 44,8.94 45,7.27 46,4.5 47,4.55 48,3.07 49,1.88 50,4.34 51,7.05 52,9.01 53,11.49 54,13.83 55,17.28 56,17.66 57,18.84 58,15.09 59,10.92 60,5.43 61,6.45 62,10.47 63,14.79 64,16.81 65,17.6 66,15.76 67,14.66 68,12.24 69,9.53 70,2.9 71,4.51 72,6.31 73,8.24 74,10.25 75,14.33 76,17.53 77,20.45 78,21.63 79,21.62 80,18.61 81,15.16 82,11.39 83,6.82 84,3.05 85,5.19 86,7.66 87,9.6 88,10.46 89,9.07 90,5.58 91,6.39 92,7.62 93,10.04 94,12.13 95,13.78 96,15.25 97,16.34 98,18.65 99,17.29 100,16.21 101,14.74 102,12.77 103,11.01 104,5.81 105,5.43 106,8.26 107,10.97 108,13.98 109,16.66 110,19.34 111,21.26 112,22.48 113,23.19 114,22.26 115,13.36 116,6 117,3.56 118,1.4 119,1.99 120,5.03 121,15 122,20.19 123,22.71 124,25.04 125,25.44 126,23.42 127,22.44 128,15.48 129,10.28 130,5.57 131,2.92 132,3.73 133,6.31 134,8.34 135,11.78 136,12.53 137,15.69 138,19.38 139,21.86 140,25.69 141,28.22 142,26.52 143,21 144,15.62 145,10.11 146,7.93 147,8.94 148,9.41 149,8.25 150,6.05 151,0.57 152,9.84 153,14.21 154,18.79 155,20.99 156,21.93 157,21.66 158,22.33 159,22.26 160,24.16 161,24.63 162,23.69 163,17.28 164,11.21 165,6.17 166,2.26 167,0.98 168,4.57 169,8.56 170,11 171,14 172,17.69 173,20.91 174,24.16 175,28.25 176,27.89 177,26.68 178,20.27 179,13.58 180,9.3"/>
<polyline points="1,1.92 2,5.88 3,10.38 4,15.47 5,19.54 6,21.67 7,18.22 8,15.87 9,11.97 10,8.64 11,5.11 12,3.39 13,4.56 14,5.27 15,5.5 16,6.72 17,7.25 18,8.15 19,11.24 20,12.59 21,14.25 22,14.78 23,15.19 24,14.99 25,12.96 26,10.43 27,8.59 28,7.16 29,6.16 30,5.62 31,14.31 32,9.51 33,7.42 34,5.83 35,3.86 36,1.88 37,7.94 38,11.72 39,14.29 40,14.57 41,14.9 42,13.11 43,12.12 44,9.99 45,7.58 46,5.52 47,4.8 48,2.8 49,1.99 50,4.36 51,7.44 52,10.57 53,12.03 54,14.28 55,17.88 56,17.92 57,18.63 58,13.81 59,8.9 60,4.96 61,6.46 62,12.34 63,14.78 64,16.71 65,17.4 66,15.86 67,14.35 68,12.08 69,8.97 70,3.58 71,5.06 72,6.71 73,8.33 74,10.76 75,13.76 76,17.37 77,20.85 78,21.72 79,22.45 80,20 81,15.15 82,11.24 83,5.71 84,2.5 85,5.14 86,7.71 87,9.82 88,10.16 89,9.4 90,5.81 91,6.25 92,8.28 93,9.8 94,11.99 95,13.4 96,15.83 97,17.56 98,18.86 99,18.5 100,16.69 101,14.48 102,12.51 103,10.22 104,5.63 105,5.59 106,7.78 107,10.9 108,13.86 109,16.63 110,19.13 111,21.22 112,21.36 113,23.38 114,21.75 115,14.18 116,7.31 117,4.2 118,2.1 119,2.28 120,5.52 121,15.41 122,20.02 123,23.17 124,25.34 125,26.04 126,25.82 127,22.35 128,15.74 129,8 130,5.57 131,1.58 132,3.8 133,6.39 134,9.3 135,12.04 136,12.81 137,15.72 138,20.03 139,21.8 140,26.26 141,28.04 142,26.75 143,22.13 144,16.65 145,10.76 146,7.88 147,9.03 148,9.4 149,8.08 150,6.25 151,0.51 152,10.12 153,14.21 154,19.56 155,21.14 156,21.09 157,22.26 158,22.18 159,22.17 160,24.36 161,25.11 162,24.32 163,18.21 164,11.71 165,6.45 166,2.68 167,0.87 168,4.54 169,8.58 170,11.2 171,14.33 172,18.09 173,20.97 174,24.8 175,27.13 176,27.89 177,25.43 178,21.33 179,13.77 180,9.54"/>
<polyline points="1,2.59 2,6.35 3,11.44 4,16.99 5,20.55 6,22.35 7,19.43 8,15.65 9,12.25 10,8.97 11,5.12 12,3.41 13,4.48 14,4.85 15,5.24 16,5.91 17,7.14 18,8.69 19,10.84 20,12.1 21,15 22,16.3 23,15.54 24,16.18 25,13.11 26,10.36 27,8.19 28,7.29 29,6.34 30,5.46 31,14.65 32,10.92 33,7.72 34,5.82 35,3.52 36,1.78 37,8.54 38,12 39,14.8 40,15.13 41,14.91 42,14.37 43,10.79 44,9.38 45,7.53 46,5.62 47,5.02 48,3.67 49,2.12 50,4.7 51,7.85 52,10.57 53,12.15 54,15.75 55,16.96 56,18.27 57,18.16 58,14.16 59,10.02 60,4.68 61,7.06 62,11.29 63,13.04 64,17 65,17.96 66,16.22 67,15.5 68,12.86 69,9.72 70,3.9 71,5.58 72,6.87 73,8.47 74,10.78 75,15.32 76,18.45 77,20.85 78,22.04 79,21.47 80,19.02 81,16.13 82,12.38 83,7.62 84,3.12 85,5.91 86,7.2 87,10.31 88,10.84 89,9.4 90,6.04 91,6.14 92,8.06 93,10.33 94,12.53 95,13.07 96,16.75 97,18.19 98,19.52 99,18.95 100,17.26 101,15.81 102,12.97 103,11.77 104,5.07 105,5.53 106,7.45 107,10.95 108,13.31 109,16.89 110,18.42 111,21.11 112,22.86 113,23.18 114,22.06 115,15.86 116,7.93 117,4.75 118,2.02 119,2.41 120,5.84 121,15.58 122,20.14 123,22.93 124,25.04 125,24.65 126,25.34 127,22.23 128,17.37 129,10.16 130,5.55 131,2.98 132,3.79 133,6.46 134,9.49 135,12.17 136,12.72 137,16.26 138,20.15 139,22.75 140,25.1 141,29.11 142,26.63 143,22.06 144,16.61 145,10.72 146,8.41 147,9.8 148,10.38 149,9.22 150,6.19 151,0.42 152,10.02 153,14.11 154,18.8 155,20.94 156,22.01 157,21.96 158,22.35 159,22.75 160,25.07 161,26.19 162,23.73 163,19.07 164,13.36 165,8.3 166,3.18 167,1.38 168,4.54 169,8.5 170,10.88 171,13.99 172,17.72 173,19.81 174,25.01 175,28.11 176,28.48 177,26.22 178,21.83 179,14.01 180,9.56"/>
<polyline points="1,2.34 2,6.43 3,10.5 4,17.3 5,20.2 6,22.76 7,18.69 8,16.27 9,13.01 10,9.57 11,6.22 12,3.71 13,5.14 14,5.99 15,5.97 16,6.14 17,7.19 18,8.86 19,11.19 20,13.01 21,14.92 22,16.13 23,16.66 24,15.35 25,12.28 26,10.46 27,8.22 28,7.05 29,6.27 30,5.51 31,14.73 32,10.54 33,7.8 34,5.84 35,3.77 36,1.98 37,8.06 38,12.14 39,15.26 40,15.2 41,15.02 42,13.21 43,10.84 44,8.41 45,7.05 46,5.11 47,4.44 48,4.27 49,2.25 50,5.1 51,8.32 52,10.84 53,13.1 54,15.29 55,17.94 56,18.22 57,18.52 58,14.03 59,10.4 60,5.75 61,6.55 62,13.2 63,16.2 64,17.63 65,18.47 66,16.97 67,15.64 68,13.17 69,9.77 70,4.11 71,5.08 72,6.43 73,8.48 74,10.44 75,14.92 76,18.26 77,21.95 78,23.05 79,22.71 80,19.9 81,16.65 82,12.21 83,7.2 84,2.83 85,5.08 86,7.4 87,9.29 88,10.11 89,9.1 90,6.47 91,6.48 92,8.57 93,10.61 94,13.93 95,15.43 96,16.38 97,17.85 98,18.93 99,18.68 100,15.95 101,15.01 102,12.8 103,11.24 104,5.56 105,5.69 106,8.17 107,11.46 108,14.59 109,17.37 110,19.89 111,22.33 112,22.43 113,24.37 114,22 115,13.73 116,8.16 117,4.11 118,2.2 119,3 120,5.93 121,15.97 122,20.94 123,23.86 124,25.57 125,26.61 126,26.89 127,23.3 128,16.65 129,10.12 130,6.1 131,2.31 132,4.01 133,6.78 134,9.15 135,12.39 136,12.86 137,16.89 138,20.64 139,23.45 140,26.33 141,28.75 142,26.65 143,21.85 144,16.55 145,10.27 146,8.15 147,10.05 148,10.25 149,9.67 150,7.22 151,0.74 152,9.97 153,15.14 154,18.9 155,21.25 156,22.74 157,22.6 158,22.52 159,22.07 160,24.4 161,25.3 162,24.64 163,18.57 164,14.48 165,9.11 166,3.5 167,1.08 168,4.33 169,8.56 170,10.96 171,13.86 172,17.16 173,21.46 174,25.32 175,27.82 176,27.99 177,26.49 178,21.83 179,14.37 180,9.69"/>
<polyline points="1,2.55 2,7.36 3,12.49 4,17.86 5,20.77 6,22.1 7,20.32 8,16.27 9,11.54 10,8.81 11,5.97 12,3.33 13,5.35 14,5.65 15,6.73 16,6.65 17,7.97 18,8.79 19,11.28 20,13.4 21,15.22 22,15.68 23,16.06 24,15.56 25,13.53 26,10.94 27,9.12 28,7.64 29,6.5 30,5.85 31,14.95 32,10.18 33,7.93 34,5.63 35,3.72 36,1.88 37,7.58 38,12.53 39,14.82 40,14.96 41,16.24 42,14.53 43,11 44,10 45,7.79 46,6.5 47,5.33 48,3.86 49,2.36 50,4.79 51,8.08 52,9.99 53,12.15 54,15.41 55,18.02 56,18.57 57,18.88 58,15.05 59,9.48 60,6.6 61,7.77 62,12.89 63,15.75 64,17.9 65,18.32 66,17.19 67,15.43 68,12.82 69,9.42 70,4.24 71,5.01 72,6.94 73,8.92 74,11.65 75,15.31 76,18.47 77,21.67 78,24.21 79,22.29 80,19.87 81,17.1 82,11.69 83,6.75 84,3.98 85,5.25 86,8.14 87,10.16 88,10.5 89,9.63 90,6.77 91,6.83 92,8.93 93,10.89 94,12.37 95,14.3 96,16.6 97,19.78 98,20.15 99,18.41 100,16.71 101,15.65 102,13.78 103,12.11 104,5.75 105,5.85 106,8.64 107,11.27 108,14.05 109,17.13 110,19.55 111,21.75 112,22.18 113,24.5 114,23 115,16.12 116,8.58 117,4.75 118,2.51 119,2.96 120,5.66 121,15.98 122,20.41 123,23.69 124,25.7 125,25.6 126,26.64 127,22.93 128,17.22 129,12.32 130,7.1 131,3.17 132,4.04 133,7.07 134,9.44 135,12.11 136,12.78 137,16.97 138,20.56 139,23.73 140,26.28 141,28.89 142,26.91 143,23.15 144,17.07 145,10.59 146,8.09 147,9.92 148,9.79 149,9.16 150,6.54 151,0.65 152,10.34 153,14.78 154,19.14 155,22.03 156,22.69 157,23.09 158,23.02 159,23.35 160,24.57 161,26.09 162,24.16 163,19.9 164,14.9 165,8.89 166,2.87 167,1.29 168,4.83 169,9.07 170,11.51 171,14.37 172,17.98 173,21.68 174,24.93 175,28.45 176,28.19 177,26.71 178,22.8 179,14.23 180,9.47"/>
<polyline points="1,2.7 2,8.29 3,12.61 4,18.53 5,20.54 6,22.62 7,18.53 8,15.84 9,12.83 10,9.97 11,5.85 12,3.57 13,5.26 14,6.14 15,6.6 16,6.87 17,7.5 18,8.91 19,11.39 20,12.78 21,15.24 22,15.69 23,16.95 24,15.83 25,13.61 26,10.72 27,9.15 28,7.78 29,6.48 30,6.02 31,15.31 32,10.45 33,8.14 34,5.66 35,3.68 36,2.17 37,8.24 38,12.79 39,15.03 40,16.24 41,16.44 42,14.94 43,12.38 44,9.94 45,8.59 46,7.21 47,5.5 48,4.19 49,2.31 50,5.13 51,8.31 52,10.36 53,14.04 54,15.61 55,17.25 56,18.53 57,19.39 58,16.25 59,11.17 60,6.48 61,8.12 62,12.11 63,15.86 64,17.79 65,18.54 66,17.31 67,15.31 68,13.62 69,9.94 70,4.37 71,5.31 72,6.76 73,9.44 74,11.87 75,15.22 76,18.67 77,21.87 78,23.46 79,22.63 80,20.11 81,16.86 82,11.57 83,8.22 84,3.67 85,5.69 86,8.09 87,10.16 88,10.6 89,9.73 90,6.56 91,6.94 92,9.78 93,11.01 94,12.64 95,15.15 96,17.11 97,18.69 98,20.06 99,18.93 100,17.7 101,15.76 102,14.01 103,12.08 104,7.53 105,5.96 106,8.55 107,11.71 108,14.23 109,17.61 110,20.27 111,21.64 112,23.39 113,24.74 114,22.01 115,14.7 116,9.29 117,4.66 118,2.78 119,3.43 120,5.35 121,16 122,21.2 123,23.35 124,25.38 125,26.43 126,25.62 127,23.98 128,18.39 129,13.13 130,7.66 131,3.88 132,4.39 133,7.14 134,9.65 135,12.42 136,12.91 137,17.18 138,20.48 139,24.18 140,26.28 141,29.21 142,27.34 143,22.85 144,16.93 145,11.55 146,8.66 147,10.4 148,10.61 149,10.18 150,7.19 151,0.76 152,10.07 153,14.19 154,19.3 155,21.91 156,23.3 157,23.24 158,23.84 159,23.7 160,24.77 161,25.56 162,24.5 163,20.63 164,14.69 165,7.34 166,3.81 167,1.23 168,4.69 169,8.64 170,11.53 171,14.36 172,18.34 173,22.21 174,24.72 175,28.43 176,28.82 177,26.67 178,22.42 179,14.56 180,9.7"/>
<polyline points="1,3.05 2,8.47 3,12.21 4,17.15 5,21.11 6,23.44 7,19.65 8,17.04 9,13.71 10,9.91 11,6.92 12,3.89 13,5.4 14,6.14 15,6.55 16,7.28 17,7.34 18,8.88 19,11.05 20,13.31 21,14.9 22,16.14 23,17.3 24,15.93 25,14.12 26,11.64 27,9.26 28,7.84 29,6.81 30,5.74 31,15.49 32,11.22 33,8.17 34,6.2 35,4.08 36,2.24 37,8.16 38,12.73 39,15.51 40,15.49 41,16.08 42,15.02 43,13.28 44,10.76 45,7.47 46,6.42 47,5.53 48,4.22 49,2.44 50,5.06 51,8.08 52,10.99 53,12.65 54,16.13 55,17.45 56,19.38 57,19.05 58,15.94 59,10.44 60,7.07 61,7.29 62,12.94 63,16.46 64,17.91 65,18.68 66,17.78 67,15.79 68,13.33 69,9.78 70,4.56 71,6.21 72,7.52 73,9.21 74,11.72 75,15.44 76,18.33 77,22.51 78,23.47 79,22.62 80,19.77 81,17.24 82,13.03 83,8.19 84,4.3 85,5.96 86,8.56 87,10.75 88,11.23 89,9.38 90,6.8 91,7.29 92,9.11 93,10.83 94,13.59 95,14.52 96,17.03 97,18.62 98,20.17 99,19.39 100,18.03 101,16.1 102,14.57 103,12.45 104,7.41 105,6.13 106,8.79 107,11.67 108,14.46 109,17.57 110,20.53 111,22.26 112,24.06 113,25.16 114,23.12 115,15.56 116,8.56 117,4.62 118,2.18 119,3.12 120,5.33 121,16.6 122,21.09 123,24.18 124,25.74 125,26.8 126,26.43 127,26.48 128,17.25 129,14.17 130,9.37 131,3.9 132,4.37 133,7.12 134,10.15 135,12.44 136,12.91 137,17.34 138,21.4 139,25.09 140,27.53 141,29.73 142,27.29 143,22.82 144,17.59 145,11.44 146,8.6 147,10.87 148,10.83 149,9.18 150,7.67 151,0.84 152,10.6 153,15.22 154,19.49 155,21.34 156,22.68 157,23.23 158,23.3 159,24.48 160,25.54 161,26.01 162,25.06 163,20.23 164,15.39 165,9.1 166,4.41 167,1.33 168,4.83 169,8.99 170,11.37 171,14.33 172,18.27 173,21.78 174,26.17 175,28.33 176,28.37 177,27.05 178,23.01 179,14.69 180,9.5"/>
<polyline points="1,3.63 2,8.31 3,12.69 4,18.33 5,21.92 6,25.11 7,20.49 8,17.17 9,13.37 10,10.91 11,7.66 12,4.09 13,6.11 14,6.2 15,7.18 16,7.05 17,7.71 18,9.5 19,11.67 20,13.52 21,15.09 22,16.52 23,16.27 24,16.38 25,13.44 26,11.17 27,9.51 28,7.93 29,6.63 30,5.99 31,15.64 32,11.05 33,8.56 34,6.43 35,4.1 36,2.27 37,8.5 38,12.92 39,15.59 40,15.9 41,16.53 42,15.3 43,12.95 44,10.85 45,9.11 46,5.92 47,5.78 48,4.01 49,2.3 50,5.12 51,8.34 52,11.22 53,13.81 54,16.52 55,19.25 56,19.78 57,19.58 58,17.23 59,12.4 60,8.03 61,8.21 62,13.31 63,16.53 64,18.18 65,18.83 66,16.92 67,16.26 68,13.16 69,9.89 70,4.63 71,5.27 72,7.65 73,9.14 74,12.25 75,15.51 76,19.29 77,21.85 78,25.13 79,23.12 80,20.58 81,17.4 82,12.55 83,10.48 84,4.46 85,6.91 86,8.57 87,10.72 88,11.71 89,9.89 90,6.92 91,6.61 92,8.83 93,11.11 94,13.12 95,14.64 96,17.1 97,19.58 98,19.93 99,19.25 100,17.35 101,16.43 102,15.14 103,12.37 104,9.06 105,6.02 106,8.74 107,11.57 108,14.94 109,17.61 110,20.57 111,22.57 112,24.33 113,24.7 114,23.04 115,15.9 116,8.92 117,4.6 118,2.57 119,2.73 120,5.87 121,16.53 122,21.07 123,23.88 124,26.34 125,26.61 126,27.58 127,25.92 128,19.44 129,16.12 130,8.59 131,3.97 132,4.47 133,7.52 134,9.73 135,13.04 136,13.45 137,17.01 138,20.75 139,23.69 140,25.89 141,29.24 142,27.4 143,22.91 144,18.05 145,11.44 146,8.77 147,10.59 148,10.71 149,10.47 150,7.07 151,1.23 152,10.69 153,15.43 154,19.64 155,22.52 156,22.75 157,23.53 158,24.02 159,24.65 160,24.9 161,26.79 162,24.66 163,20.4 164,13.93 165,8.51 166,3.66 167,1.28 168,4.86 169,8.81 170,11.47 171,14.46 172,18.91 173,22.05 174,26.07 175,29.14 176,28.57 177,27.75 178,23.43 179,14.74 180,9.59"/>
<polyline points="1,3.04 2,8.21 3,13.03 4,18.19 5,21.9 6,23.94 7,20.07 8,16.71 9,13.95 10,9.79 11,6.59 12,4.22 13,6.03 14,6.54 15,6.84 16,7.72 17,7.85 18,9.57 19,12.16 20,13.7 21,16.04 22,16.69 23,17.29 24,16.63 25,14.23 26,11.74 27,9.23 28,8.55 29,6.95 30,6.02 31,15.6 32,11.54 33,8.22 34,6.5 35,4.39 36,2.42 37,8.51 38,11.98 39,15.45 40,17.08 41,16.95 42,15.06 43,13.84 44,10.58 45,8.95 46,7.61 47,5.47 48,4.72 49,2.48 50,5.57 51,8.39 52,11.4 53,14.59 54,17.43 55,18.08 56,19.75 57,20.05 58,15.55 59,11.07 60,8.07 61,7.51 62,15.58 63,17.36 64,18.46 65,19.26 66,17.74 67,16.2 68,13.97 69,10.16 70,4.67 71,5.81 72,7.48 73,9.17 74,12.48 75,15.46 76,19.28 77,23.05 78,24.39 79,23.23 80,21.05 81,17.8 82,12.34 83,9.14 84,4.49 85,6.49 86,9.06 87,10.45 88,11.19 89,10.37 90,7.34 91,6.74 92,9.21 93,11.38 94,13.44 95,15.21 96,17.78 97,19.72 98,20.41 99,19.47 100,18.3 101,16.21 102,14.84 103,12.34 104,7.67 105,5.84 106,9.04 107,11.34 108,14.89 109,17.29 110,19.83 111,22.56 112,24.35 113,24.12 114,23.05 115,17.48 116,9.29 117,4.73 118,3.1 119,3.94 120,6.57 121,16.75 122,20.99 123,24.29 124,25.58 125,27.62 126,26.49 127,25.56 128,18.54 129,13.33 130,8.94 131,4.17 132,4.96 133,7.75 134,10.14 135,12.9 136,13.26 137,17.91 138,20.8 139,24.83 140,27.41 141,29.88 142,27.35 143,23.66 144,18.01 145,11.45 146,8.94 147,10.32 148,12.19 149,10.15 150,7.25 151,0.92 152,10.62 153,15.15 154,19.58 155,22.19 156,23.6 157,23.28 158,24.13 159,23.96 160,25.89 161,26.35 162,25.19 163,22.29 164,16.7 165,9.98 166,3.7 167,1.22 168,4.99 169,9.15 170,11.69 171,14.49 172,19.03 173,22.82 174,26.72 175,29.45 176,28.79 177,27.82 178,23.24 179,14.78 180,9.68"/>
<polyline points="1,4.44 2,9.05 3,13.53 4,19.13 5,21.48 6,24.37 7,20.95 8,17.58 9,13.54 10,9.75 11,7.04 12,4.15 13,5.22 14,6.69 15,6.82 16,7.23 17,8.22 18,9.42 19,11.62 20,13.98 21,15.52 22,17.51 23,16.81 24,17.21 25,13.84 26,11.35 27,10.04 28,8.47 29,6.96 30,6.39 31,15.72 32,11.35 33,8.5 34,6.15 35,4.03 36,2.42 37,8.78 38,12.92 39,15.48 40,17.62 41,18.09 42,15.95 43,13.53 44,12.07 45,9.76 46,7.66 47,7.05 48,5.12 49,2.57 50,5.61 51,8.66 52,12.04 53,14.19 54,16.47 55,19.29 56,19.9 57,20.1 58,16.68 59,10.46 60,7.58 61,7.96 62,15.73 63,15.98 64,17.93 65,19.53 66,17.47 67,16.58 68,13.73 69,10.36 70,4.97 71,6.26 72,7.56 73,9.76 74,13.63 75,15.85 76,19.8 77,22.7 78,24.13 79,23.4 80,21.64 81,16.86 82,14.09 83,8.42 84,4 85,6.24 86,9.2 87,11.36 88,11.94 89,10.79 90,8.02 91,8.06 92,10.05 93,12.45 94,15.02 95,15.22 96,18.84 97,20.32 98,22.4 99,20.03 100,17.88 101,16.72 102,14.21 103,12.04 104,8.26 105,6.18 106,8.45 107,11.66 108,14.6 109,18.12 110,20.03 111,23.35 112,24.69 113,25.55 114,23.25 115,17.46 116,10.2 117,4.87 118,2.65 119,3.72 120,6.19 121,17.05 122,21.31 123,24.42 124,26.32 125,27.19 126,26.84 127,25.86 128,18.48 129,15.16 130,8.75 131,4.4 132,4.62 133,7.75 134,9.98 135,13.22 136,13.46 137,17.93 138,21.73 139,24.8 140,28.19 141,30.18 142,27.72 143,24.02 144,18.65 145,11.89 146,9.28 147,10.92 148,11.96 149,9.81 150,7.29 151,1.06 152,10.69 153,15.04 154,19.46 155,22.39 156,23.74 157,24.67 158,24.56 159,24.81 160,26.81 161,27.62 162,25.91 163,21.87 164,16.64 165,9.69 166,4.27 167,1.56 168,5.15 169,9.29 170,11.85 171,14.55 172,18.74 173,22.44 174,25.68 175,29.34 176,28.83 177,27.1 178,24.05 179,14.58 180,9.93"/>
<polyline points="1,4.28 2,10.1 3,14.53 4,19.88 5,22.27 6,24.75 7,20.87 8,18.47 9,13.76 10,10.32 11,6.76 12,4.33 13,5.58 14,6.98 15,7.63 16,7.34 17,8.19 18,9.76 19,12.08 20,13.93 21,16.08 22,17.87 23,17.92 24,16.83 25,14.97 26,12.13 27,9.91 28,8.18 29,7.07 30,6.4 31,15.46 32,10.9 33,8.31 34,6.56 35,4.36 36,2.36 37,8.94 38,13.26 39,15.8 40,17.7 41,17.66 42,16.59 43,14.94 44,10.96 45,9.73 46,6.86 47,7.65 48,4.31 49,2.57 50,5.31 51,8.63 52,11.55 53,14.65 54,17.27 55,20.22 56,20.04 57,20.65 58,17.89 59,12.91 60,9.25 61,8.72 62,15.85 63,16.33 64,18.42 65,18.92 66,18.36 67,17.17 68,13.45 69,10.31 70,4.36 71,5.87 72,7.68 73,9.46 74,12.77 75,16.39 76,20.17 77,23.44 78,24.93 79,23.82 80,21.59 81,18.63 82,13.24 83,9.88 84,4.49 85,6.95 86,8.74 87,11.03 88,11.48 89,10.34 90,7.49 91,7.08 92,9.64 93,12.76 94,14.69 95,16.89 96,18.94 97,20.78 98,21.82 99,21.06 100,18.36 101,16.9 102,15.46 103,13.04 104,8.71 105,6.35 106,8.74 107,11.81 108,14.78 109,17.58 110,21.19 111,23.93 112,24.95 113,26.25 114,23.57 115,17.71 116,9.7 117,5.57 118,3.54 119,3.87 120,6.85 121,17.4 122,21.32 123,24.58 124,26.62 125,27.88 126,27.65 127,25.75 128,20.89 129,14.43 130,8.8 131,5.66 132,5.19 133,7.84 134,10.72 135,13.84 136,13.58 137,17.97 138,21.53 139,24.5 140,28.42 141,29.64 142,27.51 143,23.82 144,17.73 145,11.81 146,9.17 147,10.4 148,11.41 149,10.51 150,8.7 151,1.49 152,11.4 153,15.62 154,20.32 155,22.67 156,24.14 157,24.58 158,25.02 159,24.99 160,25.75 161,27.18 162,25.21 163,21.63 164,16.02 165,10.04 166,3.91 167,1.61 168,5.27 169,9.3 170,12.07 171,14.7 172,19.95 173,24.17 174,27.1 175,29.53 176,29.01 177,27.91 178,23.48 179,15.24 180,9.73"/>
<polyline points="1,3.47 2,8.84 3,13.52 4,19.23 5,23.12 6,23.94 7,21.3 8,17.24 9,15.01 10,10.58 11,7.82 12,4.42 13,5.84 14,7.31 15,7.54 16,8.22 17,8.32 18,9.74 19,11.9 20,14.29 21,16.56 22,17.18 23,17.95 24,17.19 25,15.33 26,11.84 27,9.97 28,8.11 29,6.95 30,6.67 31,15.92 32,11.63 33,8.57 34,6.63 35,4.65 36,2.53 37,8.93 38,13.32 39,16.66 40,17.45 41,18.16 42,16.11 43,13.87 44,12.18 45,9.47 46,7.92 47,6.86 48,5.31 49,2.68 50,5.91 51,9.03 52,12.08 53,15.06 54,18.07 55,19.88 56,20.98 57,20.5 58,16.85 59,12.36 60,8.99 61,9.37 62,15.83 63,18 64,19.21 65,19.99 66,18.41 67,17.48 68,14.72 69,10.54 70,5.32 71,6.86 72,7.77 73,9.31 74,13.15 75,16.57 76,20.1 77,23.99 78,24.67 79,23.71 80,22.39 81,19.25 82,14.71 83,10.82 84,5.49 85,7.77 86,8.82 87,10.31 88,11.09 89,10.62 90,8 91,8.24 92,9.76 93,12.63 94,14.08 95,16.57 96,18.78 97,20.51 98,22.2 99,20.65 100,18.47 101,16.63 102,14.65 103,12.58 104,8.61 105,6.31 106,9.35 107,12 108,15.18 109,18.29 110,21.07 111,23.43 112,25.34 113,25.83 114,24.39 115,16.48 116,9.51 117,5.08 118,3 119,4.41 120,6.71 121,17.08 122,21.15 123,24.77 124,26.61 125,28.37 126,28.39 127,27.2 128,21.39 129,15.94 130,10.87 131,4.96 132,4.77 133,7.87 134,10.21 135,14.41 136,13.85 137,18.2 138,22.32 139,24.96 140,28.77 141,30.78 142,27.93 143,23.81 144,18.39 145,11.47 146,8.84 147,11.1 148,12.72 149,10.97 150,7.68 151,1.42 152,10.81 153,15.73 154,20.15 155,22.98 156,23.73 157,24.16 158,24.98 159,25.38 160,26.11 161,27.3 162,25.78 163,21.99 164,16.98 165,10.09 166,4.39 167,1.58 168,5.37 169,9.49 170,12.1 171,15.08 172,19.84 173,23.5 174,27.55 175,29.45 176,29.36 177,27.52 178,23.43 179,15.03 180,10.05"/>
<polyline points="1,4.28 2,8.67 3,14.28 4,18.94 5,21.8 6,24.95 7,21.46 8,18.07 9,14.58 10,11.13 11,7.63 12,4.44 13,6.19 14,7.55 15,8.44 16,8.26 17,8.59 18,10.42 19,12.29 20,14.84 21,16.25 22,17.76 23,17.73 24,17.09 25,15.08 26,12.28 27,9.6 28,8.2 29,7.17 30,6.28 31,16.51 32,12.44 33,8.68 34,7.15 35,4.76 36,2.49 37,9.15 38,13.74 39,16.33 40,18.08 41,18.37 42,16.62 43,13.48 44,12.85 45,9.91 46,7.5 47,6.68 48,4.83 49,2.61 50,5.43 51,9.08 52,12.08 53,15.12 54,18.94 55,20.43 56,21.11 57,20.68 58,17.9 59,13.65 60,7.66 61,8.27 62,14.6 63,16.68 64,19.01 65,19.03 66,18.54 67,16.96 68,13.71 69,11.04 70,5.07 71,6.64 72,7.94 73,10.09 74,13.49 75,17.07 76,20.38 77,23.82 78,25.62 79,24.36 80,21.8 81,18.04 82,14.12 83,9.52 84,4.82 85,7.56 86,8.74 87,11.09 88,11.53 89,10.48 90,8.05 91,8.19 92,10.49 93,13.8 94,15.37 95,16.71 96,19.36 97,21.2 98,22.45 99,20.64 100,18.99 101,17.5 102,16.02 103,13.46 104,7.62 105,6.35 106,9.26 107,12.4 108,14.85 109,18.12 110,22.1 111,24.41 112,26.8 113,26.51 114,24.17 115,19.11 116,10.29 117,5.54 118,3.1 119,4.68 120,7.11 121,17.24 122,21.57 123,25.09 124,26.4 125,28.31 126,27.67 127,27.56 128,20.85 129,17.13 130,10.61 131,5.85 132,5.24 133,8.39 134,10.86 135,13.3 136,14.02 137,18.05 138,21.77 139,25.65 140,27.85 141,30.05 142,27.94 143,23.94 144,17.69 145,12.1 146,9.38 147,11.65 148,12.35 149,10.78 150,7.92 151,1.49 152,11.46 153,15.79 154,20.69 155,23.33 156,24.18 157,25.45 158,25.49 159,24.54 160,26.4 161,28.09 162,25.57 163,22.68 164,15.86 165,10.88 166,3.94 167,1.64 168,5.36 169,9.48 170,12.03 171,14.92 172,20.2 173,24.18 174,27.51 175,29.97 176,29.81 177,29.05 178,23.86 179,15.13 180,10.03"/>
<polyline points="1,4.35 2,8.79 3,14.31 4,19.63 5,23.37 6,25.29 7,21.91 8,18.6 9,14.84 10,10.96 11,7.86 12,4.83 13,6.07 14,7.91 15,8.66 16,8.23 17,8.51 18,10.84 19,12.5 20,14.58 21,16.41 22,18.02 23,17.4 24,17.22 25,14.58 26,12.31 27,9.98 28,8.59 29,6.95 30,6.55 31,16.48 32,12.33 33,8.92 34,7.37 35,4.55 36,2.62 37,9.11 38,13.27 39,16.79 40,17.54 41,18.29 42,16.67 43,15.83 44,12.6 45,9.56 46,7.69 47,7.34 48,5.38 49,2.82 50,6.12 51,9.14 52,12.04 53,15.81 54,18.49 55,20.69 56,21.03 57,21.47 58,17.26 59,13.9 60,8.62 61,8.05 62,16.4 63,18.27 64,19.12 65,20.12 66,19.48 67,17.87 68,14.38 69,10.91 70,5.12 71,6.51 72,7.97 73,10.3 74,13.4 75,17.13 76,20.69 77,24.22 78,26.16 79,24.73 80,22.26 81,19.35 82,15.69 83,10.84 84,5.27 85,7.56 86,9.5 87,11.84 88,12.35 89,11.39 90,8.15 91,7.81 92,10.54 93,13.13 94,15.33 95,17.26 96,18.94 97,21.52 98,21.91 99,21.15 100,19.56 101,17.73 102,15.53 103,12.57 104,9.89 105,6.4 106,9.09 107,12.59 108,15.3 109,18.28 110,22.05 111,24.19 112,25.59 113,25.97 114,24.74 115,17.6 116,10.76 117,5.45 118,3.51 119,4.29 120,6.79 121,17.32 122,21.67 123,24.83 124,27.29 125,27.83 126,28.66 127,27.1 128,23.14 129,16.77 130,11.01 131,5.66 132,5.15 133,8.47 134,10.53 135,13.32 136,13.83 137,18.4 138,22.36 139,25.12 140,29.55 141,31.02 142,28.16 143,23.81 144,18.88 145,12.18 146,9.57 147,11.77 148,13.07 149,11.36 150,7.57 151,1.82 152,11.37 153,15.69 154,20.17 155,23.08 156,24.64 157,25.51 158,26.27 159,25.89 160,26.61 161,27.83 162,25.55 163,23.96 164,18.64 165,11.75 166,4.2 167,1.74 168,5.59 169,9.54 170,12.06 171,14.98 172,20.21 173,23.47 174,27.56 175,29.45 176,29.6 177,28.79 178,25.18 179,15.37 180,10.26"/>
<polyline points="1,3.77 2,9.87 3,14.46 4,20.03 5,23.99 6,27 7,23.08 8,19.59 9,15.45 10,11 11,7.53 12,4.56 13,6.44 14,7.7 15,8.84 16,8.64 17,8.7 18,10.59 19,12.42 20,15.5 21,17.43 22,18.05 23,18.12 24,17.59 25,15.19 26,12.22 27,10.33 28,8.28 29,7.13 30,6.83 31,16.8 32,13 33,9.27 34,7.39 35,4.56 36,2.91 37,9.66 38,13.46 39,16.65 40,18.5 41,18.69 42,17.05 43,15.06 44,12.73 45,10.39 46,8.81 47,8.01 48,5.93 49,2.72 50,6.14 51,8.66 52,12.5 53,15.45 54,18.49 55,20.66 56,21.37 57,21.53 58,17.95 59,13.97 60,9.12 61,10 62,16.23 63,18.21 64,19.06 65,19.45 66,18.63 67,18.47 68,14.86 69,11.17 70,5.46 71,7.27 72,8.49 73,9.89 74,13.8 75,17.43 76,19.93 77,24.48 78,25.91 79,25.23 80,22.68 81,20.6 82,16.39 83,11.24 84,5.35 85,8.43 86,9.11 87,11.68 88,11.36 89,10.97 90,7.65 91,8.56 92,10.46 93,13.03 94,16.07 95,18 96,20.4 97,22.3 98,23.4 99,20.51 100,19.48 101,17.45 102,14.77 103,13.26 104,9.52 105,6.75 106,9.52 107,12.64 108,15.73 109,18.76 110,22.31 111,24.42 112,25.47 113,25.17 114,24 115,18.04 116,10.75 117,5.93 118,3.45 119,4.89 120,8 121,17.8 122,21.89 123,25.19 124,27.09 125,29.06 126,29.44 127,27.97 128,21.39 129,16.27 130,11.5 131,5.91 132,5.49 133,9 134,11.23 135,13.72 136,13.68 137,17.8 138,21.79 139,25.55 140,28.74 141,30.84 142,28.21 143,24.88 144,19.22 145,12.75 146,9.86 147,12.03 148,12.51 149,11.93 150,8.38 151,1.54 152,11.03 153,15.45 154,20.57 155,23.43 156,24.87 157,26 158,26.5 159,27 160,27.4 161,27.87 162,25.72 163,23.52 164,17.16 165,10.66 166,4.83 167,1.87 168,5.85 169,9.89 170,12.3 171,15.26 172,20.66 173,24.17 174,27.34 175,29.05 176,29.51 177,28.82 178,23.73 179,15.68 180,10.5"/>
<polyline points="1,5 2,10.02 3,15.03 4,20.16 5,23.24 6,26.71 7,22.61 8,19.93 9,15.46 10,11.49 11,8.23 12,4.99 13,6.24 14,7.82 15,8.03 16,8.09 17,8.55 18,10.44 19,12.39 20,14.91 21,17.41 22,18.21 23,18.23 24,18.19 25,16.08 26,12.85 27,10.09 28,8.51 29,7.15 30,6.92 31,16.81 32,12.51 33,9.38 34,7.4 35,4.99 36,2.93 37,9.61 38,13.88 39,17.47 40,18.06 41,18.71 42,17.81 43,14.55 44,13.05 45,10.79 46,8.69 47,7.82 48,5.71 49,2.93 50,5.96 51,9.04 52,11.84 53,15.82 54,18.05 55,20.43 56,21.69 57,21.31 58,18.74 59,13.98 60,9.33 61,9.98 62,18 63,18.79 64,19.52 65,20.04 66,19.7 67,18.03 68,15.28 69,11.26 70,5.5 71,7.05 72,8.22 73,10.33 74,13.86 75,17.35 76,20.89 77,24.67 78,25.32 79,24.67 80,22.24 81,19.79 82,16.35 83,10.74 84,4.99 85,8.2 86,10.5 87,11.85 88,12.29 89,11.44 90,8.18 91,8.39 92,10.47 93,13.3 94,16.2 95,17.66 96,20.07 97,22.3 98,22.45 99,21.36 100,19.15 101,18.22 102,16.13 103,14.09 104,8.96 105,6.47 106,9.44 107,12.33 108,16 109,19 110,22.5 111,24.36 112,25.76 113,26.81 114,24.6 115,18.33 116,11.82 117,5.76 118,3.91 119,4.56 120,7.59 121,17.58 122,22.15 123,24.7 124,27.91 125,28.66 126,29.17 127,29.29 128,24.25 129,17.84 130,11.93 131,5.78 132,5.8 133,8.94 134,10.82 135,14.2 136,14.33 137,18.72 138,22.59 139,26.15 140,29.24 141,30.9 142,28.24 143,24.59 144,19.62 145,12.85 146,9.5 147,12.91 148,13.52 149,12.32 150,8.55 151,1.72 152,11.51 153,16.2 154,20.31 155,23.05 156,24.12 157,25.01 158,25.53 159,26.68 160,26.75 161,28.68 162,26.65 163,23.5 164,17.1 165,11.75 166,4.69 167,1.66 168,5.72 169,9.62 170,11.97 171,15.45 172,20.45 173,24.54 174,27.94 175,29.73 176,29.75 177,28.87 178,24.16 179,15.74 180,10.01"/>
<polyline points="1,4.36 2,10.67 3,15.35 4,20.02 5,24.15 6,26.88 7,23.5 8,18.75 9,15.36 10,11.6 11,8.41 12,4.95 13,6.9 14,8.34 15,8.67 16,8.72 17,8.51 18,10.62 19,12.69 20,15.1 21,17.43 22,18.33 23,18.68 24,18.3 25,16.5 26,12.66 27,10.47 28,9.14 29,7.43 30,6.88 31,16.62 32,12.44 33,9.43 34,7.5 35,5 36,2.63 37,9.74 38,14.06 39,17.04 40,18.76 41,18.75 42,17.93 43,15.73 44,12.56 45,11.45 46,8.92 47,7.99 48,5.66 49,2.76 50,6.21 51,9.35 52,13 53,16.33 54,19.5 55,21.09 56,21.39 57,21.7 58,18.18 59,14.27 60,9.06 61,9.63 62,17.41 63,18.93 64,19.58 65,20.03 66,19.65 67,18.47 68,14.87 69,11.44 70,6 71,7.2 72,7.97 73,10.5 74,13.88 75,17.8 76,21.2 77,24.4 78,26.35 79,24.93 80,23.32 81,19.93 82,16.6 83,11.5 84,4.88 85,7.88 86,10.06 87,12.12 88,12.71 89,12 90,9 91,8.53 92,10.74 93,13.22 94,16.12 95,18 96,19.87 97,21.89 98,23.11 99,21.96 100,19.89 101,18.24 102,16.29 103,13.97 104,10.45 105,7 106,9.57 107,13 108,15.59 109,18.82 110,22.5 111,24.66 112,26.38 113,27.29 114,24.54 115,19.22 116,11.89 117,6 118,3.66 119,4.95 120,7.17 121,17.77 122,22.48 123,25.15 124,28 125,29.3 126,29.59 127,29.47 128,23.55 129,18.24 130,11.52 131,6.47 132,5.94 133,8.84 134,10.59 135,14.29 136,14.29 137,18.76 138,22.51 139,25.08 140,29.06 141,31.05 142,28.22 143,25.08 144,19.17 145,12.94 146,10 147,13 148,14 149,12.18 150,8.98 151,1.71 152,11.74 153,16.15 154,20.59 155,23.37 156,24.72 157,25.81 158,25.37 159,27 160,26.81 161,28.45 162,26.87 163,24.09 164,19.63 165,11.81 166,4.88 167,1.84 168,5.88 169,9.91 170,12.47 171,15.04 172,19.92 173,25 174,28.52 175,30.46 176,30.3 177,29.26 178,25.04 179,15.44 180,10.2"/>
<polyline points="1,4.96 2,11 3,16 4,21 5,24.5 6,26.84 7,23.5 8,18.81 9,15.64 10,11.56 11,8.16 12,5 13,7 14,8.5 15,9.06 16,9 17,8.95 18,11 19,13 20,14.99 21,17.03 22,18.7 23,18.66 24,17.97 25,16.4 26,13 27,11 28,9.2 29,7.5 30,7 31,17 32,12.7 33,9.45 34,7.29 35,4.74 36,2.94 37,10 38,14.16 39,17.13 40,19 41,19.4 42,18.3 43,16 44,13.9 45,11.35 46,9 47,7.94 48,5.97 49,2.99 50,6.5 51,9.5 52,12.91 53,16.5 54,19.08 55,21.5 56,21.54 57,22 58,18.05 59,15 60,9.11 61,9.74 62,17.44 63,18.63 64,20.3 65,20.38 66,20 67,19 68,15.5 69,11.5 70,6 71,7.19 72,8.5 73,10.21 74,14.06 75,17.79 76,21.2 77,25.4 78,27.3 79,25.5 80,23.5 81,20.6 82,16.6 83,11.56 84,6 85,8.12 86,10.45 87,12.3 88,12.9 89,12 90,9 91,9 92,11.49 93,13.8 94,15.88 95,17.92 96,20.31 97,22.3 98,22.48 99,22 100,20.3 101,18.31 102,16.5 103,14.3 104,10.5 105,7 106,10 107,12.91 108,15.73 109,18.65 110,21.83 111,24.64 112,25.67 113,27.79 114,25.2 115,19.54 116,12 117,5.81 118,4 119,5 120,7.92 121,17.7 122,22.13 123,25.22 124,27.97 125,29.3 126,30.14 127,31.2 128,24.5 129,19 130,13 131,7 132,6 133,8.28 134,11.21 135,14.49 136,14.5 137,18.72 138,22.8 139,26.16 140,30 141,31.5 142,28.5 143,25.5 144,20 145,12.37 146,9.97 147,12.78 148,13.59 149,11.38 150,8.23 151,1.86 152,12 153,16.5 154,21 155,23.5 156,25 157,26 158,26.5 159,26.33 160,27.4 161,27.73 162,26.37 163,23.4 164,19.35 165,12.25 166,5.5 167,2 168,5.72 169,9.97 170,12.31 171,15.42 172,19.85 173,24.04 174,28.16 175,30.02 176,30.17 177,28.94 178,25.29 179,16 180,10.5"/>
</g>
<g class="k">
<polyline points="1,4.6 2,11.3 3,17.48 4,20.5 5,18.03 6,14.91 7,10.5 8,8 9,7.75 10,7.3 11,7 12,5.9 13,4.02 14,2.52 15,1.74 16,4.36 17,9.49 18,13.65 19,17.09 20,19 21,19.48 22,18.8 23,18.8 24,18.5 25,17.5 26,15 27,12.63 28,10 29,7.57 30,6.17 31,19 32,16 33,12.02 34,8.53 35,5.12 36,10.4 37,13.5 38,15.43 39,14.6 40,14.09 41,12.37 42,9.73 43,8.1 44,5.5 45,3.5 46,2.3 47,4 48,4.5 49,3 50,2.06 51,5.5 52,9.24 53,12.85 54,17.28 55,19.5 56,22.88 57,22 58,16.69 59,12.24 60,9 61,1.12 62,3.26 63,5 64,7.5 65,9.07 66,10.38 67,10.01 68,8.5 69,6 70,2.8 71,2.93 72,3.5 73,4.87 74,6.06 75,6.8 76,7.7 77,9.1 78,9.93 79,8.97 80,6.5 81,4.5 82,2.89 83,0.93 84,4.52 85,7.46 86,10 87,11.91 88,12.51 89,11.01 90,8 91,2.5 92,3.5 93,4.5 94,4.5 95,3.7 96,5.29 97,7.03 98,7.5 99,8.16 100,7.5 101,7.38 102,6.5 103,6.06 104,4.3 105,6 106,7.5 107,8.7 108,9.5 109,10.5 110,11 111,11.22 112,10.53 113,9.5 114,7.5 115,5 116,2.54 117,0.84 118,3.5 119,6.3 120,7.5 121,16 122,19 123,20.36 124,19.98 125,19.72 126,15.59 127,13.82 128,9 129,6.22 130,3.62 131,1.64 132,3.08 133,5.5 134,8.3 135,11.45 136,14.37 137,17.4 138,22.5 139,26.63 140,28 141,24 142,15 143,8.76 144,5.85 145,9.3 146,13 147,16.16 148,14.73 149,10.17 150,4.9 151,1 152,7.13 153,10.14 154,13.77 155,16.3 156,19.13 157,24.21 158,25.05 159,22.38 160,18.16 161,15.3 162,13.2 163,9.5 164,6 165,3.14 166,0.92 167,8.03 168,8.97 169,11.73 170,15.48 171,18.02 172,20.96 173,26 174,32.39 175,27 176,20.91 177,16 178,13 179,11.47 180,9.77"/>
<polyline points="1,4.6 2,11 3,17 4,21.25 5,18.43 6,14.71 7,10.82 8,8 9,7.47 10,7.3 11,7.13 12,5.5 13,4 14,2.5 15,1.82 16,4.46 17,9 18,13.7 19,17.02 20,19.71 21,19.63 22,18.8 23,19.08 24,19.5 25,18.25 26,15 27,12.5 28,10.28 29,8.18 30,5.95 31,19.24 32,16.37 33,12.41 34,8.15 35,5 36,10.48 37,13.95 38,15.88 39,14.71 40,13.5 41,12.72 42,10.27 43,8.62 44,5.5 45,3.51 46,2.32 47,4.4 48,4.5 49,3.21 50,2.06 51,5.5 52,9.63 53,13.3 54,16 55,19.5 56,22.64 57,22 58,16.48 59,11.5 60,9 61,0.84 62,3.21 63,5.11 64,7.37 65,8.5 66,10.71 67,9.8 68,9.05 69,6.8 70,2.8 71,2.93 72,3.5 73,4.8 74,6.12 75,6.95 76,8.38 77,9.28 78,9.5 79,8.8 80,6.8 81,5.05 82,2.62 83,0.84 84,4 85,7.26 86,10 87,11.5 88,12.5 89,11 90,8.57 91,2.5 92,3.71 93,4.85 94,4.84 95,3.82 96,5.08 97,7.08 98,7.53 99,7.8 100,7.84 101,7.29 102,6.5 103,5.5 104,4.34 105,6.03 106,7.69 107,8.42 108,9.62 109,10.5 110,11 111,11 112,10.5 113,9.83 114,7.62 115,5 116,2.69 117,1.09 118,4.05 119,6.07 120,7.5 121,16.44 122,19.93 123,20 124,20.32 125,18.59 126,16.28 127,12 128,9 129,6 130,3.51 131,1.33 132,3 133,5.5 134,9.61 135,12.19 136,14.3 137,17.4 138,22.88 139,26 140,28 141,24.56 142,16.18 143,9.07 144,6.3 145,9.09 146,13.12 147,16 148,14 149,10 150,5.13 151,1.18 152,7.05 153,10.18 154,13.5 155,17.01 156,19 157,24 158,25 159,22 160,17.5 161,16.71 162,13.2 163,9.5 164,6.02 165,3 166,0.84 167,8 168,8.3 169,11.53 170,14.3 171,17.4 172,20.4 173,26.34 174,32 175,27.56 176,19.3 177,17.14 178,13 179,11.9 180,9.5"/>
<polyline points="1,4.6 2,11 3,17 4,20.91 5,18.36 6,14.5 7,11.15 8,8.82 9,8.01 10,7.81 11,7.23 12,5.5 13,4.06 14,2.5 15,1.75 16,4.28 17,9.11 18,13.4 19,17.14 20,19.04 21,18.89 22,19.64 23,19.53 24,18.87 25,17.5 26,15.5 27,12.64 28,10.3 29,8.12 30,5.56 31,19 32,16.72 33,12.24 34,8 35,5 36,10.24 37,14.57 38,15.89 39,14.5 40,13.93 41,12 42,10.48 43,7.62 44,5.82 45,3.55 46,2.42 47,4.47 48,4.68 49,3.12 50,2.16 51,5.54 52,9.2 53,12.5 54,16.33 55,20.18 56,22.5 57,22.26 58,15.5 59,12.69 60,9.8 61,1.11 62,3 63,5.17 64,7 65,8.5 66,10.48 67,10.06 68,8.5 69,6.51 70,2.8 71,2.8 72,3.84 73,4.89 74,5.98 75,7.04 76,8.46 77,8.96 78,10 79,8.83 80,6.5 81,5.42 82,2.71 83,0.96 84,4 85,7.05 86,10.06 87,11.84 88,13.12 89,11.1 90,8.01 91,2.73 92,3.5 93,4.61 94,4.5 95,3.7 96,5 97,7.25 98,8.17 99,8.25 100,7.5 101,7.84 102,6.65 103,5.66 104,4.53 105,6 106,7.81 107,8.46 108,9.56 109,11.12 110,11.06 111,11.99 112,10.5 113,9.83 114,7.67 115,5.59 116,3.17 117,0.88 118,3.75 119,6.19 120,7.63 121,16 122,19.15 123,20 124,19.5 125,18.5 126,16.65 127,12.9 128,9.33 129,6 130,4.09 131,1.65 132,4.29 133,5.91 134,8.3 135,12.44 136,14.3 137,19.1 138,23.91 139,26.49 140,28 141,25.32 142,15.96 143,8.5 144,5.77 145,9.4 146,13.55 147,16.39 148,14 149,10.43 150,4.57 151,1 152,7.19 153,11.59 154,13.81 155,18.17 156,19.9 157,25.31 158,26.38 159,22 160,17.8 161,17.34 162,13.2 163,9.69 164,6.13 165,3.05 166,0.84 167,8.18 168,8.3 169,11.3 170,15.65 171,17.61 172,22.53 173,26 174,32.99 175,28.23 176,20.05 177,16 178,13 179,11.41 180,9.5"/>
<polyline points="1,4.6 2,11.24 3,17.49 4,21 5,18.95 6,14.84 7,11.34 8,8.44 9,7.34 10,7.6 11,7.16 12,5.5 13,4.21 14,2.5 15,1.7 16,4.58 17,9.65 18,13.4 19,17.52 20,19.6 21,19.33 22,18.93 23,19.37 24,18.94 25,17.5 26,15.32 27,12.5 28,10 29,7.96 30,6.23 31,19 32,16 33,13.77 34,8.6 35,5.51 36,11.26 37,14.33 38,15 39,16.02 40,13.93 41,12 42,9.5 43,7.58 44,5.5 45,4.05 46,2.43 47,4.29 48,4.63 49,3.29 50,2.06 51,5.67 52,9.79 53,12.5 54,16 55,19.5 56,22.97 57,22.6 58,15.5 59,12.04 60,9.09 61,0.84 62,3 63,5.19 64,7.66 65,8.96 66,10.75 67,9.9 68,8.91 69,6.26 70,3.19 71,2.86 72,3.72 73,4.8 74,6.01 75,6.91 76,8.21 77,8.97 78,9.5 79,9.97 80,7.99 81,5.43 82,3.28 83,1.03 84,4.52 85,7 86,10.38 87,11.7 88,12.5 89,11 90,8.41 91,2.5 92,3.56 93,4.72 94,4.71 95,3.98 96,5.37 97,7.33 98,7.67 99,8.14 100,7.5 101,7.45 102,6.5 103,5.6 104,4.3 105,6.17 106,7.5 107,9.19 108,10.2 109,11.3 110,12.67 111,12.34 112,11.26 113,9.52 114,7.94 115,5.38 116,2.5 117,0.94 118,3.5 119,6.19 120,7.54 121,16 122,19 123,20.19 124,19.5 125,21.15 126,17.61 127,14.24 128,9.68 129,6.57 130,3.5 131,1.35 132,3 133,5.97 134,8.34 135,12.33 136,14.3 137,18.38 138,23.78 139,26.35 140,28.62 141,25.46 142,15 143,9.26 144,5.91 145,9.07 146,13 147,16 148,14 149,11.13 150,4 151,1.07 152,7 153,10.7 154,13.84 155,17.47 156,21.22 157,24.72 158,25.79 159,22.75 160,18.53 161,15.65 162,13.5 163,9.5 164,6 165,3 166,1.14 167,8.27 168,8.67 169,11.33 170,14.91 171,19.41 172,24.17 173,27.62 174,32 175,27 176,19.3 177,17.91 178,13.59 179,11 180,9.51"/>
<polyline points="1,4.86 2,11.07 3,18.13 4,20.5 5,18.25 6,14.52 7,10.92 8,9.27 9,8.27 10,7.62 11,7.08 12,6.32 13,4 14,2.71 15,1.7 16,4.23 17,9.05 18,13.54 19,17.16 20,19.21 21,19.87 22,19.92 23,19.26 24,20.24 25,17.8 26,15.59 27,13.03 28,10.27 29,7.61 30,5.61 31,19.29 32,16.18 33,12.4 34,8.27 35,5.42 36,10 37,14.96 38,15.62 39,15.35 40,14.75 41,12.06 42,9.5 43,8.44 44,6.31 45,3.5 46,2.35 47,4 48,4.61 49,3.15 50,2.16 51,5.5 52,10.22 53,14.22 54,16 55,20.01 56,23.23 57,22 58,15.5 59,12.18 60,9 61,1.18 62,3.61 63,5.49 64,7.61 65,9.29 66,10.35 67,9.8 68,8.85 69,6 70,3.01 71,2.87 72,3.67 73,5.3 74,5.83 75,7.49 76,7.72 77,8.5 78,9.56 79,8.82 80,6.5 81,5.03 82,2.63 83,1 84,4.66 85,7.29 86,10.47 87,12.35 88,12.51 89,11.64 90,8.19 91,2.51 92,3.78 93,4.68 94,4.63 95,4.28 96,5.62 97,7.07 98,7.68 99,8.6 100,7.5 101,7.19 102,6.5 103,5.66 104,4.64 105,6.02 106,7.84 107,8.89 108,10.53 109,11.8 110,11 111,11.85 112,10.77 113,9.71 114,7.8 115,6.27 116,2.85 117,0.91 118,3.69 119,6.09 120,7.51 121,16 122,19 123,20 124,20.88 125,20.21 126,16.83 127,13.26 128,10.02 129,6.78 130,4.09 131,1.33 132,3.47 133,5.5 134,8.63 135,11.53 136,15.51 137,18.71 138,22.5 139,26.78 140,28.6 141,24 142,16.61 143,8.62 144,6.08 145,9 146,13.61 147,16.23 148,14.53 149,10 150,5.97 151,1.16 152,7.02 153,10 154,13.83 155,17.46 156,19.68 157,24.98 158,25.59 159,22.88 160,19.37 161,15.97 162,14.56 163,9.5 164,6.39 165,3.31 166,1.1 167,8.21 168,8.56 169,12.29 170,15.57 171,18.93 172,22.94 173,26 174,32 175,27.59 176,19.3 177,16.64 178,14.27 179,11.7 180,9.74"/>
<polyline points="1,4.81 2,11.19 3,17 4,21.23 5,18.48 6,14.91 7,11.36 8,8 9,7.74 10,7.93 11,7.23 12,5.77 13,4.64 14,2.63 15,1.88 16,4.55 17,9.99 18,14.26 19,17.77 20,20.12 21,19.49 22,18.93 23,19.54 24,18.68 25,17.68 26,15.02 27,12.52 28,10 29,7.5 30,5.71 31,19.08 32,16.1 33,12.35 34,8.63 35,5.06 36,10 37,14.59 38,17.86 39,15.98 40,15.4 41,13.63 42,10.39 43,8.66 44,6.22 45,3.78 46,2.62 47,4.18 48,4.61 49,3 50,2.16 51,6.36 52,9.42 53,14.3 54,16.5 55,19.5 56,22.5 57,22 58,16.32 59,11.5 60,9.69 61,1.21 62,3.54 63,5 64,7.1 65,8.98 66,10 67,10.2 68,8.77 69,6.79 70,3.18 71,3.11 72,3.83 73,5.19 74,6.16 75,6.8 76,8.12 77,8.81 78,9.5 79,8.8 80,6.89 81,4.5 82,2.72 83,0.84 84,4.15 85,7.92 86,10.79 87,12.64 88,13.82 89,11.89 90,8.73 91,2.95 92,3.88 93,4.65 94,5.14 95,4.24 96,5.56 97,7.47 98,7.59 99,8.41 100,7.8 101,7.18 102,6.5 103,5.5 104,4.3 105,6.08 106,7.5 107,8.3 108,9.64 109,10.95 110,11.29 111,12.4 112,11.7 113,9.76 114,8.07 115,5.57 116,3.74 117,1.05 118,3.79 119,6.44 120,8.07 121,16.45 122,20.24 123,20 124,20.91 125,18.5 126,17.07 127,13.41 128,9 129,6.17 130,3.5 131,1.33 132,3.47 133,5.5 134,9.97 135,11.3 136,16.83 137,18.75 138,23.18 139,26.49 140,28.95 141,24 142,17.17 143,9.3 144,6.02 145,9.17 146,13.38 147,16.61 148,15.01 149,10.94 150,4 151,1.26 152,7.23 153,10.23 154,13.5 155,17.32 156,19.24 157,24.67 158,25.96 159,23.64 160,18.83 161,15.49 162,15.01 163,9.95 164,6.72 165,3.18 166,1.4 167,9.26 168,8.3 169,11.75 170,15.13 171,17.4 172,20.44 173,26.75 174,32.5 175,27 176,19.6 177,16.74 178,13.72 179,11 180,9.5"/>
<polyline points="1,4.79 2,11 3,17.9 4,21.33 5,18.19 6,15.13 7,10.5 8,8.91 9,7.53 10,7.3 11,7.06 12,5.5 13,4.26 14,2.93 15,1.98 16,4.49 17,9.44 18,13.68 19,17.55 20,20 21,20.28 22,19.68 23,19.41 24,19.57 25,17.5 26,15.52 27,13.33 28,10.01 29,8.13 30,5.63 31,19.11 32,16 33,12.32 34,8.82 35,5.27 36,11.24 37,14.89 38,17.15 39,15.69 40,14.61 41,12.65 42,11.39 43,8.16 44,5.9 45,4.23 46,2.48 47,4.27 48,4.71 49,3.19 50,2.06 51,5.82 52,9.63 53,12.5 54,17.37 55,20.7 56,23 57,22 58,16.73 59,12.14 60,10.1 61,1.07 62,3.42 63,6.26 64,8.17 65,8.96 66,10.56 67,10.27 68,9.1 69,6.28 70,3.24 71,3.24 72,3.68 73,4.8 74,6.29 75,6.91 76,8.39 77,8.56 78,9.93 79,8.8 80,7.55 81,5.73 82,3.16 83,1.32 84,4.26 85,7.03 86,10.8 87,12.27 88,12.99 89,12.83 90,8.67 91,2.64 92,3.86 93,4.9 94,4.74 95,3.84 96,5 97,7.36 98,8.22 99,8.13 100,7.63 101,6.88 102,6.65 103,5.7 104,4.65 105,6.19 106,7.84 107,9.12 108,10.33 109,11.77 110,12.22 111,11.74 112,11.76 113,10.76 114,8.14 115,5.98 116,2.79 117,1.12 118,3.79 119,6.35 120,7.78 121,16.36 122,19.6 123,20.91 124,20.88 125,20.26 126,16.42 127,12.29 128,9.2 129,6.23 130,4.18 131,1.89 132,4.24 133,7.04 134,9.04 135,13.26 136,16.41 137,18.7 138,22.71 139,26.78 140,28.55 141,24 142,15.6 143,9.43 144,5.7 145,9.25 146,13 147,16.82 148,14.51 149,10.3 150,5.16 151,1.42 152,7.39 153,10.95 154,15.06 155,19.09 156,19.93 157,25.61 158,25.85 159,22.82 160,18.73 161,15.68 162,14.68 163,9.96 164,6.79 165,3.29 166,1.3 167,8.35 168,8.96 169,12.75 170,16.17 171,19.56 172,21.2 173,27.99 174,34.49 175,28.61 176,20.81 177,19.15 178,13.78 179,11.78 180,9.94"/>
<polyline points="1,4.9 2,11.21 3,17 4,20.64 5,18.64 6,15.44 7,11.22 8,9.99 9,7.82 10,7.9 11,7.64 12,6.14 13,4.57 14,2.75 15,1.93 16,4.13 17,9.72 18,13.74 19,17.48 20,19.86 21,19.13 22,19.47 23,18.8 24,19.77 25,18.4 26,15.63 27,13.09 28,10 29,8.38 30,5.8 31,19.11 32,17.49 33,12 34,8.26 35,5.58 36,11.37 37,14.2 38,15 39,15.51 40,15.33 41,13.42 42,9.97 43,8.89 44,6.61 45,3.9 46,2.49 47,4.4 48,4.69 49,3.57 50,2.17 51,6.11 52,10.12 53,13.72 54,16.91 55,20.81 56,23.41 57,23.82 58,15.5 59,13.22 60,9.48 61,1.12 62,3.72 63,5.78 64,7.65 65,10 66,10.03 67,10.04 68,9.01 69,6 70,2.82 71,2.88 72,3.79 73,5.04 74,5.91 75,7.31 76,8.69 77,8.7 78,10.11 79,9.56 80,7.16 81,5.9 82,3.03 83,1.51 84,4.26 85,8.16 86,11.35 87,12.37 88,12.95 89,11.66 90,8.76 91,2.54 92,3.84 93,4.89 94,5.1 95,3.91 96,5.4 97,7.3 98,7.91 99,8.19 100,8.18 101,7.73 102,7.35 103,6.12 104,4.39 105,6.32 106,7.91 107,9.11 108,9.77 109,11.23 110,12.43 111,12.23 112,11.87 113,11.08 114,8.23 115,5.85 116,3.15 117,1.18 118,3.81 119,6.16 120,8.17 121,16.08 122,19.07 123,21.32 124,20.02 125,19.82 126,16.11 127,13.71 128,9 129,7.15 130,3.92 131,1.53 132,4.06 133,6.73 134,9.74 135,12.69 136,14.3 137,18.26 138,23.09 139,26.67 140,28.82 141,25.37 142,16.61 143,8.8 144,5.75 145,9.35 146,13 147,16.07 148,14.59 149,10.4 150,4.35 151,1.24 152,7.42 153,11.33 154,14.9 155,16.98 156,21.2 157,25.71 158,26.25 159,22.52 160,18.22 161,17.05 162,13.99 163,9.55 164,7.41 165,3.33 166,1.23 167,8.79 168,9.21 169,11.8 170,15.1 171,17.56 172,21.48 173,26 174,32.26 175,28.37 176,20.65 177,18.76 178,13.65 179,11.86 180,9.5"/>
<polyline points="1,4.74 2,11.23 3,17.8 4,20.85 5,18.74 6,15.01 7,11.21 8,9.66 9,7.67 10,7.98 11,7.2 12,6.11 13,4.28 14,2.99 15,1.84 16,4.29 17,9.18 18,14.15 19,17.22 20,20.16 21,19.71 22,20.21 23,19.34 24,19.64 25,17.5 26,15.62 27,13.35 28,10.56 29,8.31 30,5.59 31,19.35 32,16.76 33,12.83 34,9.33 35,5.66 36,11.75 37,16.12 38,15.22 39,16.18 40,14.87 41,13.94 42,10.36 43,8.26 44,6.78 45,3.55 46,2.36 47,4.33 48,4.66 49,3.23 50,2.45 51,6.46 52,9.88 53,13.3 54,17.05 55,22.08 56,23.53 57,22.66 58,16.59 59,13.49 60,10.28 61,1.23 62,3 63,5.88 64,7 65,9.02 66,10.42 67,10.34 68,9.32 69,6.47 70,3.25 71,3.23 72,3.94 73,5.32 74,6.52 75,6.8 76,8.26 77,9.2 78,10.33 79,9.27 80,6.5 81,4.5 82,3.17 83,1.02 84,4.28 85,7.57 86,10.79 87,11.61 88,13.84 89,11.35 90,8.06 91,2.95 92,3.56 93,4.77 94,4.98 95,4.29 96,5.53 97,7.65 98,8.73 99,8.81 100,8.12 101,7.76 102,6.87 103,5.5 104,4.55 105,6.35 106,7.83 107,8.78 108,10.97 109,11.86 110,11.65 111,12.74 112,12.19 113,10.26 114,8.91 115,6.55 116,2.9 117,1 118,3.66 119,6.1 120,7.88 121,16.04 122,19.95 123,21.17 124,20.74 125,19.87 126,18 127,14.11 128,9.41 129,6.49 130,4.1 131,1.63 132,3.94 133,6.64 134,10.61 135,11.5 136,15.21 137,18.82 138,23.65 139,26.84 140,28.46 141,24.25 142,16.42 143,9.28 144,6.52 145,9.17 146,13.59 147,16.9 148,15.49 149,10.97 150,4.28 151,1.22 152,8.12 153,10.72 154,14.92 155,18.63 156,21.99 157,24.77 158,25.67 159,22.76 160,19.43 161,17.6 162,14.98 163,10.29 164,6.93 165,3.64 166,1.28 167,8.43 168,9.03 169,12.09 170,15.21 171,18.4 172,21.34 173,26.95 174,33.14 175,29.17 176,20.77 177,18.66 178,15.09 179,11.75 180,9.67"/>
<polyline points="1,4.88 2,11.17 3,17.2 4,21.11 5,18.97 6,14.96 7,11.53 8,9.67 9,8.3 10,7.74 11,7.46 12,6.02 13,4.67 14,2.5 15,2.04 16,4 17,9.11 18,14.33 19,17.65 20,19.69 21,19.64 22,19.91 23,19.31 24,19.54 25,17.53 26,16.27 27,13.75 28,11.13 29,8.63 30,5.83 31,20.59 32,17.13 33,12.56 34,9.22 35,5 36,10.2 37,15.51 38,15.95 39,16.5 40,15.64 41,13.63 42,11.22 43,8.52 44,6.43 45,4.05 46,2.4 47,4.49 48,4.5 49,3.49 50,2.21 51,6.16 52,10.68 53,12.99 54,18.46 55,20.28 56,23.69 57,22.84 58,16.27 59,12.87 60,10.25 61,1.26 62,4.06 63,5.49 64,7 65,8.77 66,10 67,10.13 68,8.66 69,6.63 70,3.21 71,3.23 72,3.92 73,5.56 74,6.91 75,7.51 76,7.7 77,8.5 78,10.09 79,8.93 80,8 81,6.21 82,3.05 83,1.19 84,4.67 85,8.12 86,11.07 87,12.3 88,12.82 89,12.13 90,9.09 91,2.83 92,3.7 93,5.35 94,5.11 95,4.19 96,5.92 97,7.64 98,8.73 99,8.34 100,7.98 101,7.23 102,6.86 103,6.17 104,4.59 105,6.2 106,7.95 107,8.98 108,10.53 109,11.24 110,11.94 111,11.88 112,10.86 113,10.87 114,8.44 115,5.5 116,3.32 117,1.23 118,4 119,6.94 120,7.91 121,16.17 122,19.35 123,21.13 124,22.25 125,20.51 126,16.39 127,14.37 128,10.56 129,7.03 130,3.79 131,1.57 132,3.64 133,5.5 134,8.62 135,13.1 136,14.88 137,19 138,24.52 139,26.71 140,28.86 141,24.64 142,15.63 143,10.9 144,5.73 145,9.04 146,14.01 147,17.46 148,14.67 149,11.32 150,5.83 151,1.38 152,7.73 153,10.56 154,14.55 155,16.3 156,20.97 157,24.89 158,26.91 159,23.97 160,19.36 161,18.08 162,13.2 163,10.4 164,6.75 165,3.27 166,0.88 167,8.52 168,9.63 169,12.47 170,15.73 171,19.28 172,22.38 173,27.95 174,33.6 175,28.38 176,20.04 177,17.5 178,14.58 179,11.59 180,9.6"/>
<polyline points="1,4.88 2,11.95 3,18.39 4,21.01 5,18.87 6,15.04 7,10.5 8,8.36 9,7.67 10,7.95 11,7.31 12,6.13 13,4.33 14,3.03 15,2.14 16,4.55 17,9.43 18,14.4 19,17.84 20,20.93 21,20.71 22,20.54 23,20.5 24,20.04 25,17.99 26,15.92 27,13.19 28,10.91 29,7.82 30,5.68 31,19.46 32,16.89 33,12.59 34,9.1 35,5.37 36,10.79 37,15.46 38,18.29 39,17.42 40,15.42 41,13.11 42,11.45 43,7.5 44,5.8 45,3.84 46,2.45 47,4.09 48,4.54 49,3 50,2.28 51,6.01 52,9.24 53,13.72 54,17.99 55,20.32 56,24.2 57,25.12 58,17.98 59,13.47 60,10.65 61,1.09 62,3.71 63,5.56 64,7.74 65,9.53 66,10.12 67,10.34 68,8.82 69,6.29 70,3.02 71,2.88 72,4.32 73,5.76 74,6.18 75,7.75 76,9.07 77,9.25 78,9.92 79,9.92 80,8.19 81,5.88 82,3.61 83,1.29 84,4.54 85,7.59 86,11.13 87,12.19 88,12.5 89,11.04 90,8.25 91,2.59 92,3.9 93,4.88 94,4.99 95,3.97 96,5.63 97,7.29 98,9.17 99,9.38 100,8.83 101,8.09 102,7.07 103,5.95 104,4.53 105,6.35 106,7.5 107,8.94 108,9.5 109,10.85 110,11.55 111,11.48 112,10.74 113,10.4 114,8.2 115,6.85 116,2.95 117,1.6 118,4.44 119,6.69 120,8.24 121,16.91 122,20.77 123,22.32 124,20.02 125,20.67 126,17.85 127,13.19 128,9.41 129,6.69 130,3.7 131,1.77 132,4.46 133,6.05 134,8.3 135,12.88 136,16.58 137,19.71 138,25.73 139,27.88 140,28.27 141,26.29 142,15.31 143,10.42 144,6.05 145,9.37 146,13.18 147,16.49 148,14.61 149,10.87 150,5.25 151,1.22 152,7.6 153,10 154,14.85 155,18.06 156,20.21 157,25.96 158,27.26 159,24.27 160,20.19 161,18.44 162,15.51 163,10 164,6.72 165,3.32 166,1.38 167,8 168,8.75 169,11.66 170,14.3 171,19.37 172,20.4 173,28.43 174,32.4 175,29.44 176,21.68 177,17.94 178,15.89 179,13.33 180,9.89"/>
<polyline points="1,4.82 2,11.27 3,17.99 4,22.2 5,19.52 6,15.86 7,11.52 8,8.8 9,8.11 10,8.36 11,7.5 12,6.78 13,5.19 14,2.84 15,1.88 16,4.58 17,9.65 18,14.1 19,17.95 20,19.94 21,19.64 22,19.93 23,19.32 24,19.92 25,19.12 26,16.28 27,13.88 28,11.43 29,8.77 30,6.47 31,20.21 32,18.06 33,13.85 34,8.69 35,5.62 36,10.54 37,15.15 38,16.12 39,16.61 40,13.51 41,13.21 42,11.63 43,8.89 44,6.55 45,4.2 46,2.49 47,4.38 48,5.06 49,3.26 50,2.19 51,6.36 52,10.1 53,14.57 54,19.27 55,21.79 56,23.82 57,23.36 58,16.65 59,12.97 60,10.78 61,1.25 62,3.36 63,6.06 64,7.25 65,9.36 66,11.01 67,9.97 68,9.13 69,6.54 70,3.06 71,3.59 72,4.3 73,5.58 74,7.1 75,8.55 76,9.19 77,9.76 78,10.47 79,9.79 80,7.67 81,6.86 82,3.21 83,0.99 84,4.44 85,7.62 86,10.58 87,12.12 88,12.98 89,11.8 90,8.39 91,3.02 92,3.73 93,5.19 94,5.05 95,4.45 96,5.61 97,8.29 98,8.92 99,8.74 100,8.84 101,7.22 102,7.55 103,5.85 104,4.67 105,6.43 106,7.77 107,8.73 108,10.94 109,11.81 110,11.86 111,12.36 112,11.59 113,10.99 114,8.08 115,5.58 116,3.04 117,1.2 118,4.03 119,6.51 120,8.27 121,16.42 122,20.79 123,21.63 124,23.6 125,19.55 126,16.3 127,13.11 128,9.4 129,6.93 130,3.96 131,1.88 132,3.89 133,6.1 134,8.91 135,14.01 136,16.12 137,20.25 138,24.47 139,27.41 140,29.27 141,26.24 142,18.44 143,10.1 144,6.18 145,9.65 146,13.71 147,16.67 148,15.16 149,11.2 150,5.99 151,1.4 152,8.46 153,10.22 154,16.4 155,18.93 156,22.27 157,25.35 158,25.89 159,23.23 160,20.19 161,17.71 162,15.87 163,10.52 164,6.46 165,3.94 166,1.33 167,8.62 168,9.39 169,12.53 170,16.03 171,19.64 172,21.27 173,28.24 174,33.55 175,29.41 176,22.82 177,16.24 178,14.26 179,12.3 180,9.86"/>
<polyline points="1,5.03 2,11.73 3,18.16 4,22.15 5,19.2 6,15.19 7,11.54 8,10.56 9,7.8 10,7.83 11,7.56 12,6.44 13,4.71 14,3.07 15,2.02 16,4.56 17,9.22 18,14.19 19,17.31 20,19.45 21,18.94 22,20.5 23,19.32 24,19.71 25,17.79 26,15.79 27,13.33 28,11.57 29,8.09 30,6.72 31,19.65 32,16.9 33,12.55 34,8.37 35,5.36 36,11.24 37,15.06 38,18.24 39,16.85 40,15.43 41,14.11 42,11.13 43,8.8 44,6.82 45,4.18 46,2.49 47,4.26 48,5.08 49,3.55 50,2.22 51,6.03 52,10.84 53,14.98 54,18.81 55,21.57 56,23.05 57,24.07 58,18.01 59,12.92 60,10.97 61,1.41 62,3.64 63,5.05 64,8.09 65,9.08 66,10.77 67,10.2 68,9.2 69,7.05 70,3.41 71,3.14 72,4.18 73,5.51 74,6.8 75,7.8 76,8.29 77,9.24 78,10.71 79,9.4 80,6.93 81,5.67 82,3.07 83,1.11 84,4.63 85,8.07 86,10.82 87,12.94 88,13.68 89,12.13 90,8.92 91,2.64 92,4.24 93,5.23 94,4.83 95,3.9 96,5.53 97,7.75 98,8.04 99,8.62 100,8.21 101,7.35 102,7.71 103,6.67 104,4.91 105,6.46 106,7.95 107,8.76 108,10.69 109,10.5 110,13.1 111,11.98 112,11.98 113,11.2 114,7.97 115,5.53 116,3.27 117,1.04 118,3.93 119,6.38 120,8.42 121,17.49 122,20.24 123,21.39 124,20.33 125,20.27 126,17.05 127,12.98 128,10.08 129,6.95 130,4.24 131,1.72 132,3.97 133,7.56 134,9.4 135,13.55 136,15.32 137,20.4 138,23.29 139,27.27 140,29.4 141,25.34 142,17.89 143,9.22 144,6.2 145,9.34 146,13.93 147,17.48 148,15.65 149,10.48 150,5.78 151,1.47 152,8.31 153,11.44 154,15.49 155,18.22 156,22.29 157,25.22 158,25.82 159,23.31 160,19.22 161,18 162,16.91 163,11.03 164,7.11 165,3.57 166,1.17 167,8.58 168,10.61 169,12.82 170,15.26 171,19.43 172,21.96 173,28.61 174,33.99 175,28.63 176,21.73 177,17.31 178,16 179,12.08 180,9.95"/>
<polyline points="1,5.08 2,12.15 3,17.96 4,22.03 5,18.43 6,15.35 7,11.79 8,8.83 9,7.91 10,8.03 11,7.98 12,6.24 13,4.92 14,3.59 15,1.89 16,4.33 17,9.54 18,14.07 19,17.1 20,20.4 21,20.4 22,19.88 23,20.65 24,19.62 25,19.01 26,16.14 27,14.24 28,11.49 29,8.7 30,5.92 31,19.41 32,17.12 33,13.02 34,9.39 35,5.36 36,12.35 37,16.31 38,19.27 39,15.56 40,15.08 41,12.34 42,11.59 43,8.56 44,6.41 45,3.54 46,2.46 47,4.56 48,4.71 49,3.44 50,2.6 51,6.37 52,11.6 53,16.4 54,17.85 55,21.28 56,22.85 57,23.58 58,17.66 59,13.59 60,9.31 61,1.11 62,3.37 63,6.12 64,9.08 65,9.83 66,11.11 67,10.55 68,9.07 69,6.2 70,3.45 71,3.41 72,3.87 73,5.36 74,6.94 75,8.5 76,9.06 77,9.82 78,10.72 79,10.23 80,7.89 81,5.84 82,2.87 83,1.36 84,4.55 85,7.75 86,11.07 87,13.33 88,13.89 89,12.24 90,9.48 91,3 92,4.41 93,4.96 94,4.89 95,4.24 96,6.05 97,7.73 98,8.11 99,9.03 100,8.97 101,8.51 102,7.84 103,6.83 104,4.87 105,6.14 106,8.2 107,9.38 108,11.23 109,11.95 110,11.83 111,12.24 112,11.63 113,11.27 114,9.22 115,6.63 116,3.43 117,1.19 118,4.03 119,6.61 120,7.83 121,16.99 122,20.15 123,21.9 124,21.24 125,20.92 126,17.3 127,13.32 128,10.67 129,7.3 130,4.07 131,1.84 132,4.49 133,6.45 134,10.82 135,12.56 136,15.4 137,19.47 138,22.93 139,26.91 140,29.24 141,27.04 142,17.85 143,11.5 144,6.84 145,9.51 146,14.46 147,16.76 148,14.85 149,11.73 150,6.69 151,1.4 152,8.68 153,11.59 154,16.3 155,18.92 156,21.86 157,26.42 158,26.56 159,23.34 160,20.44 161,18.62 162,13.83 163,10.01 164,7.24 165,3.86 166,1.5 167,9.31 168,10.52 169,13.07 170,17.33 171,18.98 172,21.93 173,26.22 174,32.16 175,29.21 176,21.8 177,17.91 178,16.05 179,12.57 180,9.93"/>
<polyline points="1,5.09 2,12.35 3,18.99 4,22.02 5,18.97 6,15.87 7,11.75 8,8.92 9,8.37 10,8.35 11,7.76 12,6.55 13,4.86 14,2.98 15,2.05 16,4.75 17,10.1 18,14.36 19,17.88 20,20.36 21,19.45 22,20.63 23,20.18 24,19.25 25,18.41 26,16.28 27,13.57 28,11.3 29,8.09 30,6.34 31,20.42 32,17.84 33,13.3 34,9.63 35,5.64 36,11.76 37,13.84 38,16.5 39,15.7 40,15.47 41,13.3 42,12.37 43,9.42 44,6.87 45,4.31 46,2.66 47,4.39 48,4.73 49,3.62 50,2.39 51,6.42 52,10.55 53,13.79 54,19.09 55,21.67 56,24.74 57,23.4 58,17.39 59,13.67 60,11.96 61,1.38 62,3.46 63,5.83 64,8.14 65,9.24 66,11.13 67,10.41 68,8.76 69,7.94 70,3.35 71,3.2 72,4.79 73,5.53 74,7.07 75,7.67 76,9.04 77,9.54 78,10.78 79,9.74 80,7.53 81,5.67 82,2.85 83,1.45 84,4.45 85,7.52 86,10.89 87,12.43 88,13.7 89,12.6 90,8.81 91,2.96 92,3.82 93,5.23 94,5.18 95,4.28 96,5.97 97,8.03 98,8.35 99,9.97 100,7.95 101,9.1 102,7.81 103,6.57 104,4.76 105,6.7 106,8.12 107,8.9 108,10.56 109,10.87 110,12.51 111,12.93 112,11.87 113,11.28 114,8.36 115,5.91 116,3.79 117,1.44 118,3.84 119,6.43 120,8.58 121,16.96 122,20.21 123,21.15 124,22.52 125,19.7 126,15.3 127,14.21 128,10.07 129,7.45 130,4.48 131,1.61 132,5.73 133,5.78 134,10.11 135,12.77 136,15.71 137,19.82 138,24.55 139,26.49 140,28.82 141,26.13 142,17.65 143,12.88 144,6.38 145,9.88 146,13.92 147,16.93 148,16.31 149,12.16 150,6.1 151,1.39 152,8.14 153,10.66 154,15.79 155,20.07 156,22.81 157,25.55 158,27.2 159,23.64 160,19.11 161,19 162,15 163,10.33 164,7.19 165,3.55 166,1.27 167,8.82 168,9.29 169,13.19 170,16.85 171,21.09 172,21.82 173,29.87 174,35.01 175,29.79 176,21.52 177,17.96 178,15.28 179,12.38 180,9.66"/>
<polyline points="1,4.94 2,11.76 3,18.26 4,21.56 5,20.36 6,15.46 7,11.96 8,9.05 9,8.36 10,7.94 11,7.52 12,6.74 13,4.77 14,3.41 15,2.14 16,4.55 17,9.88 18,13.99 19,18.37 20,20.18 21,20.62 22,19.8 23,20.31 24,19.52 25,18.3 26,15.66 27,13.56 28,10.7 29,8.56 30,6.51 31,19.85 32,17.88 33,13.92 34,8.71 35,5.92 36,11.67 37,15.77 38,16.9 39,16.67 40,14.85 41,13.99 42,11.22 43,8.8 44,7.09 45,3.6 46,2.5 47,4.26 48,4.72 49,3.45 50,2.39 51,6.82 52,10.73 53,15.67 54,19.27 55,21.59 56,24.66 57,23.62 58,18.92 59,13.67 60,11.08 61,1.04 62,4.01 63,5.93 64,7.81 65,9.72 66,10.72 67,10.14 68,9.66 69,7.64 70,3.32 71,3.54 72,4.77 73,5.38 74,6.98 75,8.22 76,8.99 77,9.26 78,10.22 79,9.56 80,7.51 81,5.63 82,3.43 83,1.14 84,4.21 85,7.71 86,10.86 87,12.75 88,13.52 89,12.57 90,9.69 91,2.89 92,4.36 93,5.19 94,5.18 95,4.14 96,6.11 97,7.39 98,8.54 99,9.07 100,8.97 101,7.34 102,6.94 103,6.65 104,4.96 105,6.5 106,8.26 107,9.15 108,10.09 109,12.76 110,13.16 111,13.67 112,12.33 113,10.56 114,7.99 115,6.26 116,3.47 117,1.35 118,4.28 119,6.55 120,8.17 121,16.45 122,19.98 123,21.51 124,21.5 125,21.76 126,16.29 127,14.24 128,11.69 129,7.68 130,4.36 131,1.55 132,3.93 133,7.45 134,9.67 135,12 136,15.31 137,19.22 138,24 139,27.69 140,29.02 141,26.03 142,16.38 143,10.97 144,7 145,9.77 146,13.86 147,16.87 148,17.05 149,13.09 150,5.97 151,1.64 152,7.49 153,12.96 154,15.12 155,17.69 156,22.37 157,25.41 158,26.85 159,23.1 160,19.13 161,18.04 162,15.99 163,11.85 164,6.65 165,3.85 166,1.58 167,9.02 168,9.77 169,13.97 170,16.76 171,22 172,24.02 173,27.63 174,34.22 175,29.74 176,23.6 177,19.56 178,15.47 179,12.75 180,9.93"/>
<polyline points="1,5.11 2,12.03 3,18.5 4,22.49 5,19 6,15.57 7,11.65 8,9.32 9,8.34 10,8.1 11,7.68 12,6.78 13,5.05 14,3.17 15,2.16 16,4.91 17,9.71 18,14.95 19,18.07 20,20.63 21,21.89 22,20.2 23,20.78 24,20.1 25,17.96 26,15.68 27,13.86 28,11.37 29,9.57 30,6.07 31,21.02 32,17.67 33,13.73 34,10.06 35,5.91 36,12.13 37,16.1 38,18.28 39,16.94 40,16.05 41,14.17 42,11.87 43,8.81 44,7.51 45,4.22 46,2.58 47,4.59 48,4.94 49,3.42 50,2.53 51,6.11 52,10.11 53,15.56 54,18.32 55,22.02 56,24.33 57,24.78 58,18.66 59,14.92 60,11.4 61,1.21 62,3.49 63,5.85 64,8.18 65,10 66,10.82 67,10.25 68,9.39 69,6.96 70,3.65 71,3.01 72,4.19 73,5.82 74,6.87 75,8.91 76,9.55 77,9.12 78,11.18 79,10.18 80,8.81 81,5.98 82,3.53 83,1.4 84,4.66 85,8.56 86,10.83 87,11.9 88,14.7 89,12.72 90,8.42 91,3.1 92,4.34 93,5.34 94,5.35 95,4.08 96,5.8 97,7.93 98,8.62 99,9 100,8.69 101,7.34 102,7.78 103,6.72 104,4.69 105,6.49 106,8.34 107,9.14 108,10.33 109,11.38 110,12.48 111,12.99 112,14.24 113,11.1 114,8.61 115,6.3 116,3.48 117,1.23 118,4.09 119,6.31 120,8.61 121,17.32 122,20.76 123,22.62 124,21.3 125,21.02 126,17.73 127,14.28 128,10.36 129,6.72 130,4.09 131,1.94 132,4.17 133,7.28 134,10.41 135,13.84 136,17.19 137,21.35 138,24.59 139,28.27 140,29.22 141,25.13 142,17.94 143,10.63 144,6.76 145,9.43 146,13.31 147,17.13 148,16.07 149,12.11 150,5.62 151,1.15 152,7.86 153,11.96 154,15.94 155,19.73 156,23.1 157,26.78 158,27.37 159,24.53 160,20.03 161,18.03 162,15.63 163,11.02 164,6.93 165,3.53 166,1.21 167,8.96 168,9 169,12.53 170,17.02 171,18.18 172,26.08 173,30.08 174,33.6 175,30.34 176,23.27 177,20.15 178,14.33 179,12.91 180,10.35"/>
<polyline points="1,4.96 2,12.41 3,18.28 4,21.82 5,19.08 6,16.24 7,11.97 8,10.04 9,9.07 10,8.27 11,8.19 12,6.68 13,5.26 14,2.97 15,2.12 16,4.19 17,9.46 18,14.1 19,17.98 20,20.14 21,20.87 22,20.5 23,20.82 24,20.03 25,18.35 26,16.31 27,14.15 28,10.75 29,8.33 30,6.3 31,19.93 32,17.28 33,13.78 34,9.83 35,5.99 36,11.71 37,16.44 38,18.27 39,15.08 40,15.16 41,13.06 42,11.62 43,9.28 44,7.09 45,4.18 46,2.74 47,4.77 48,4.98 49,3.28 50,2.26 51,6.15 52,10.62 53,14.87 54,18.68 55,20.86 56,24.18 57,23.87 58,17.34 59,15.57 60,11.71 61,1.63 62,3.93 63,6.11 64,8.21 65,8.96 66,11.14 67,10.34 68,9.57 69,7.35 70,3.72 71,3.67 72,4.03 73,5.27 74,6.87 75,7.9 76,9.18 77,9.69 78,11.3 79,10.28 80,9.27 81,5.79 82,3.53 83,1.19 84,4.6 85,8.36 86,10.69 87,12.76 88,13.98 89,12.69 90,9.22 91,3.25 92,4.24 93,5.38 94,5.52 95,4.42 96,6.25 97,8.07 98,8.94 99,9.65 100,8.67 101,8.26 102,7.71 103,6.35 104,5 105,6.79 106,8.37 107,9.42 108,11.68 109,12.8 110,12.97 111,12.28 112,11.94 113,10.6 114,9.53 115,6.54 116,3.7 117,1.3 118,4.12 119,6.68 120,8.01 121,16.35 122,20.23 123,22.59 124,22.49 125,21.17 126,18.94 127,13.42 128,10.63 129,7.25 130,4.35 131,2.11 132,4.28 133,7.77 134,9.88 135,13.33 136,16.95 137,20.23 138,25.72 139,28.2 140,29.64 141,26.03 142,16.47 143,9.46 144,6.07 145,9.61 146,14.51 147,17.52 148,16.19 149,13.62 150,6.98 151,1.46 152,8.35 153,12.2 154,16.1 155,18.78 156,20.32 157,25.14 158,26.13 159,23.93 160,20.95 161,18.01 162,17.77 163,12.06 164,6.66 165,3.69 166,1.28 167,9.02 168,9.86 169,13.22 170,18.56 171,20.41 172,23.81 173,28.4 174,33.98 175,29.13 176,22.09 177,17.55 178,14.47 179,11.46 180,9.95"/>
<polyline points="1,5.18 2,12.08 3,18.33 4,21.22 5,18.77 6,15.17 7,11.46 8,9.72 9,7.99 10,8.24 11,8.22 12,6.53 13,4.85 14,2.86 15,2.44 16,4.84 17,10.49 18,14.64 19,18.24 20,20.06 21,20.18 22,20.95 23,20.5 24,20.11 25,18.56 26,15.92 27,13.42 28,11.2 29,9.16 30,6.94 31,19.97 32,17.97 33,14.67 34,9.8 35,5.81 36,12.62 37,14.59 38,16.73 39,16.64 40,16.62 41,13.12 42,11.5 43,9.14 44,6.88 45,3.84 46,2.67 47,4.41 48,4.89 49,3.24 50,2.39 51,6.59 52,11.2 53,15.84 54,19.89 55,21.64 56,24.45 57,24 58,17.91 59,14.88 60,9.87 61,1.55 62,3.68 63,5.99 64,8.38 65,9.41 66,10.83 67,10.56 68,9.48 69,7.14 70,3.44 71,3.45 72,4.62 73,6.51 74,7.71 75,7.54 76,8.97 77,9.56 78,11.54 79,9.95 80,8.2 81,5.37 82,3.09 83,1.74 84,4.54 85,8.36 86,11.12 87,12.65 88,13.5 89,12.55 90,9.67 91,3.11 92,4.42 93,5.3 94,5.05 95,4.37 96,6.25 97,7.79 98,8.79 99,9.37 100,8.61 101,8.55 102,7.97 103,6.51 104,4.72 105,6.58 106,8.02 107,9.44 108,11.26 109,12.94 110,14.04 111,13.19 112,12.46 113,10.85 114,8.77 115,6.25 116,3.01 117,1.55 118,4.07 119,6.77 120,8.08 121,16.99 122,20.02 123,21.79 124,21.62 125,21.58 126,18.21 127,13.53 128,10.46 129,7.2 130,4.6 131,1.82 132,5.45 133,8.08 134,11.06 135,12.84 136,17.35 137,20.21 138,24.64 139,27.55 140,28.77 141,25.07 142,17.81 143,10.41 144,6.51 145,10.19 146,14.14 147,16.83 148,16.34 149,11.44 150,5.92 151,1.84 152,8.61 153,11.86 154,15.58 155,19.14 156,21.74 157,25.23 158,26.62 159,23.15 160,21 161,16.99 162,14.82 163,10.4 164,7.19 165,4.01 166,1.5 167,9.19 168,9.78 169,13.04 170,18.25 171,18.71 172,25.15 173,28.77 174,34.44 175,28.97 176,23.04 177,19.78 178,15.81 179,12.52 180,9.72"/>
<polyline points="1,5.31 2,11.97 3,18.04 4,22.41 5,20.2 6,17.02 7,12.68 8,10.26 9,9.19 10,8.87 11,7.86 12,6.73 13,4.43 14,3 15,2.16 16,4.78 17,9.88 18,14.4 19,18.37 20,20.34 21,19.9 22,20.33 23,20.17 24,20.48 25,19.31 26,17.04 27,14.21 28,11.87 29,8.77 30,7.1 31,20.38 32,19.15 33,14.44 34,9.71 35,5.89 36,11.34 37,15.37 38,17.11 39,16.04 40,15.92 41,14.28 42,10.78 43,8.91 44,7.46 45,4.64 46,2.69 47,4.32 48,4.86 49,3.56 50,2.7 51,6.59 52,11.84 53,16.12 54,19.3 55,22.14 56,22.66 57,24.45 58,18.12 59,15.2 60,10.61 61,1.57 62,3.75 63,6.31 64,7.84 65,9.29 66,11.48 67,10.42 68,9.51 69,6.91 70,3.57 71,3.88 72,4.62 73,5.81 74,7.76 75,8.45 76,9.26 77,10.4 78,11.25 79,10.13 80,7.91 81,6.25 82,3.61 83,1.42 84,4.6 85,8.4 86,10.33 87,12.68 88,14.32 89,12.6 90,9.16 91,3.03 92,4.66 93,5.16 94,5.21 95,4.47 96,5.48 97,7.97 98,8.88 99,10.35 100,9.47 101,8.31 102,7.99 103,6.23 104,4.98 105,6.67 106,8.08 107,8.92 108,10.84 109,12.36 110,12.82 111,12.76 112,12.68 113,11.33 114,8.42 115,6.88 116,3.53 117,1.38 118,4.43 119,6.62 120,8.55 121,16.99 122,20.85 123,23.1 124,23.47 125,20.78 126,18.66 127,15.89 128,11.02 129,7.05 130,4.49 131,1.98 132,4.82 133,6.85 134,10.77 135,13.26 136,16.62 137,20.1 138,25.29 139,27.76 140,29.37 141,27.52 142,18.3 143,11.58 144,6.91 145,9.68 146,14.09 147,17.05 148,16.93 149,13.4 150,5.79 151,1.51 152,8.29 153,12.31 154,14.98 155,19.48 156,22.25 157,25.77 158,26.26 159,23.43 160,22.13 161,17.35 162,15.83 163,12.18 164,7.46 165,4.09 166,1.64 167,8.89 168,9.58 169,13.51 170,18.29 171,20.08 172,25.98 173,28.73 174,33.7 175,30.22 176,22.48 177,19.02 178,14.53 179,12.3 180,10"/>
<polyline points="1,5.27 2,11.66 3,18.49 4,20.81 5,19.61 6,16.38 7,13.26 8,10.36 9,8.88 10,8.62 11,7.95 12,6.29 13,4.87 14,3.28 15,2.15 16,4.55 17,10.05 18,14.82 19,18.85 20,20.85 21,20.79 22,20.83 23,20.42 24,19.65 25,19.06 26,15.91 27,13.86 28,11.81 29,8.59 30,7.57 31,20.91 32,17.65 33,14.04 34,9.53 35,5.76 36,10.93 37,16.54 38,17.54 39,17.12 40,16.23 41,14.57 42,12.44 43,9.98 44,7.36 45,4.25 46,2.62 47,4.41 48,4.92 49,3.82 50,2.55 51,7.13 52,11.74 53,16.11 54,19.68 55,20.58 56,23.42 57,25.04 58,16.86 59,15.71 60,11.38 61,1.6 62,3.83 63,6.33 64,8.03 65,9.67 66,10.87 67,9.89 68,9.23 69,7.8 70,3.36 71,4.04 72,5.16 73,6.15 74,7.24 75,7.95 76,8.7 77,9.47 78,10.38 79,10.39 80,9.21 81,6.96 82,3.6 83,1.57 84,5.09 85,7.79 86,10.97 87,12.64 88,13.36 89,12.24 90,9.24 91,3.03 92,4.77 93,5.92 94,5.61 95,4.38 96,5.69 97,7.56 98,8.65 99,9.65 100,8.72 101,8.65 102,8.17 103,7.15 104,4.9 105,6.69 106,8.09 107,9.2 108,10.42 109,11.69 110,13.29 111,12.34 112,13.89 113,11.5 114,9.52 115,6.67 116,3.41 117,0.93 118,3.91 119,6.26 120,8.41 121,17.24 122,21.27 123,23.65 124,21.83 125,20.47 126,18.43 127,14.7 128,10.06 129,6.73 130,4.45 131,1.94 132,6.45 133,8.82 134,11.47 135,13.26 136,17.14 137,19.97 138,24.45 139,27.34 140,29.72 141,26.71 142,19.02 143,11.24 144,7.71 145,9.83 146,14.01 147,17.56 148,16.19 149,12.6 150,5.95 151,1.53 152,7.87 153,13.6 154,16.26 155,21.02 156,23.64 157,25.79 158,26.35 159,24.6 160,18.93 161,16.6 162,15.75 163,11.56 164,8.26 165,4.11 166,1.62 167,8.89 168,9.1 169,13.57 170,16.85 171,18.97 172,23.96 173,30.34 174,36.11 175,30.18 176,23.95 177,20.2 178,14.7 179,12.77 180,10.03"/>
<polyline points="1,5.04 2,12.42 3,18.52 4,21.78 5,19.59 6,15.84 7,12.33 8,9.81 9,8.83 10,8.82 11,7.91 12,6.77 13,5.2 14,3.43 15,2.14 16,4.83 17,10.18 18,14.86 19,18.96 20,19.98 21,21.62 22,21.78 23,20.18 24,20.43 25,18.8 26,16.22 27,13.92 28,12.22 29,8.45 30,6.93 31,20.6 32,18.14 33,14.58 34,9.43 35,5.9 36,12.52 37,17.63 38,17.75 39,17.92 40,15.75 41,14.75 42,12.95 43,8.64 44,6.89 45,4.38 46,2.69 47,4.49 48,4.93 49,3.36 50,2.52 51,6.18 52,10.7 53,15.87 54,19.82 55,22.5 56,23.82 57,24.52 58,19.1 59,15.7 60,11.16 61,1.45 62,3.8 63,5.89 64,8.23 65,9.67 66,10.76 67,10.91 68,9.23 69,7.17 70,3.72 71,3.39 72,4.77 73,6.1 74,7.25 75,8.71 76,9.13 77,10.57 78,11.13 79,10.5 80,8.49 81,6.32 82,3.48 83,1.57 84,4.41 85,8.43 86,10.78 87,12.72 88,14.22 89,12.65 90,9.18 91,3.14 92,4.1 93,5.1 94,5.1 95,4.38 96,5.7 97,7.82 98,9.3 99,10.14 100,9.57 101,8.79 102,7.83 103,6.82 104,5.04 105,6.86 106,8.49 107,9.46 108,11.01 109,12.54 110,12.96 111,13.12 112,12.27 113,12.06 114,8.98 115,6.15 116,3.59 117,1.6 118,4.06 119,6.97 120,8.94 121,17.64 122,21.31 123,22.63 124,25.34 125,21.05 126,18.19 127,15.01 128,11.42 129,8.06 130,4.09 131,2.03 132,5.41 133,7.61 134,11 135,13.26 136,17.85 137,19.92 138,25.47 139,28.36 140,29.01 141,26.21 142,18 143,11.92 144,7.05 145,9.69 146,15.37 147,17.24 148,16.37 149,12.57 150,6.07 151,1.46 152,8.59 153,11.92 154,17.77 155,21.74 156,22.02 157,26.54 158,26.7 159,23.71 160,19.09 161,19.05 162,16.68 163,11.95 164,7.75 165,3.48 166,1.47 167,9.33 168,10.81 169,13.18 170,18.44 171,21.1 172,27.37 173,27.59 174,34.22 175,29.49 176,22.31 177,19.02 178,14.33 179,12.69 180,10.04"/>
<polyline points="1,5.36 2,12.59 3,17.92 4,22.5 5,19.92 6,15.74 7,12.58 8,9.19 9,9.26 10,8.72 11,7.82 12,6.61 13,5.12 14,3.76 15,2.09 16,4.88 17,10.41 18,14.3 19,19.06 20,20.31 21,21.07 22,20.99 23,19.64 24,20.21 25,18.84 26,16.71 27,14.02 28,12.01 29,8.94 30,7.07 31,21.04 32,17.83 33,13.83 34,9.97 35,5.94 36,11.63 37,15.72 38,17.76 39,17.87 40,16.34 41,14.46 42,12.82 43,10.49 44,7.08 45,4.45 46,2.58 47,4.66 48,4.69 49,3.45 50,2.47 51,6.45 52,11.01 53,16.67 54,19.09 55,21.8 56,24.46 57,25.53 58,18.4 59,15.29 60,11.51 61,1.36 62,4.26 63,6.14 64,8.61 65,9.92 66,11.69 67,10.58 68,9.58 69,7.95 70,3.59 71,3.8 72,4.75 73,6.17 74,7.17 75,8.19 76,8.9 77,9.96 78,11.39 79,10.41 80,9.08 81,7.12 82,4.22 83,1.63 84,4.45 85,8.94 86,11.46 87,12.89 88,14.79 89,12.28 90,9.09 91,3.14 92,4.04 93,5.33 94,5.87 95,4.5 96,6.05 97,7.86 98,9.03 99,10.63 100,9.63 101,9 102,7.34 103,6.7 104,4.78 105,6.62 106,7.98 107,9.45 108,11.37 109,11.66 110,14.35 111,13.03 112,12.77 113,12.58 114,9.24 115,7.44 116,3.22 117,1.29 118,4.1 119,6.54 120,8.63 121,16.78 122,19.91 123,22.78 124,22.9 125,22.16 126,19.57 127,16.63 128,11.96 129,7.64 130,4.44 131,2.32 132,5.41 133,8.17 134,11.32 135,13.42 136,16.89 137,19.88 138,24.7 139,27.79 140,30.29 141,25.83 142,18.02 143,11.13 144,7.01 145,9.97 146,13.97 147,17.41 148,16.27 149,11.88 150,6.2 151,1.75 152,8.31 153,12.29 154,17.91 155,20.02 156,23.4 157,26.47 158,27.08 159,24.1 160,21.1 161,19.02 162,16.97 163,12.46 164,7.56 165,3.96 166,1.92 167,9.36 168,10.57 169,13.97 170,17.29 171,20.89 172,25.22 173,30.64 174,35.01 175,30.15 176,24.33 177,19.08 178,17.42 179,13.02 180,10.25"/>
<polyline points="1,5.22 2,12.55 3,17.8 4,22 5,19.98 6,15.94 7,13.03 8,10.43 9,8.95 10,8.59 11,7.51 12,6.52 13,5.32 14,3.4 15,2.2 16,5.24 17,10.12 18,14.6 19,18.4 20,20.62 21,21.17 22,20.39 23,20.76 24,21.45 25,19.13 26,16.43 27,14.46 28,11.02 29,9.63 30,7.03 31,20.63 32,18.21 33,13.84 34,10.88 35,5.93 36,11.66 37,15.4 38,17.09 39,16.33 40,14.6 41,15.81 42,11.15 43,10.13 44,7.24 45,4.52 46,2.67 47,4.82 48,5.16 49,3.65 50,2.75 51,6.6 52,11.32 53,15.46 54,19.56 55,21.91 56,25.14 57,23.89 58,18.32 59,14.97 60,11.82 61,1.68 62,3.93 63,5.93 64,8.38 65,10.61 66,11.23 67,10.56 68,9.1 69,7.49 70,3.72 71,3.49 72,4.84 73,5.65 74,7.52 75,8.62 76,9.28 77,10.97 78,11.32 79,10.82 80,9.08 81,6.96 82,3.76 83,1.55 84,4.32 85,8.66 86,11.36 87,13.08 88,14.75 89,13.29 90,9.88 91,3.24 92,4.33 93,5.4 94,5.6 95,4.12 96,5.8 97,8.19 98,9.25 99,9.94 100,9.78 101,7.96 102,7.96 103,7.23 104,5.12 105,6.99 106,8.33 107,9.78 108,11.03 109,12.71 110,13.1 111,12.96 112,12.19 113,12.08 114,9.33 115,6.81 116,3.62 117,1.23 118,4.58 119,6.93 120,8.85 121,16.8 122,20.8 123,22.14 124,23.03 125,21.5 126,18.09 127,14.58 128,11.13 129,7.22 130,4.6 131,2.08 132,4.83 133,8.59 134,10.44 135,13.81 136,17.21 137,21.76 138,24.78 139,27.99 140,29.44 141,25.75 142,18.51 143,11.23 144,7.46 145,9.81 146,14.34 147,17.54 148,16.91 149,13.51 150,6.87 151,1.57 152,8.83 153,12.93 154,15.75 155,19.74 156,21.83 157,26.64 158,27.45 159,23.88 160,21.55 161,19.69 162,16.5 163,11.67 164,7.16 165,3.68 166,1.56 167,9.18 168,10.12 169,13.54 170,18.19 171,20.61 172,26.11 173,30.66 174,35.9 175,30.62 176,23.62 177,19.67 178,15.83 179,12.53 180,10.12"/>
<polyline points="1,5.25 2,12.51 3,18.46 4,22.2 5,19.56 6,16.02 7,13.13 8,9.32 9,8.55 10,8.5 11,8.08 12,7.04 13,4.74 14,3.29 15,2.25 16,4.98 17,10.36 18,14.76 19,18.42 20,20.45 21,21.16 22,20.88 23,21.16 24,20.15 25,18.88 26,16.19 27,14.32 28,11.25 29,9.59 30,7.37 31,20.47 32,17.98 33,14.09 34,9.46 35,6 36,12.62 37,16.29 38,17.82 39,17.97 40,16.8 41,16.3 42,12.98 43,9.32 44,8.46 45,4.15 46,2.68 47,4.8 48,5.14 49,3.84 50,2.74 51,7 52,11.37 53,15.53 54,20.16 55,21.62 56,25.03 57,23.55 58,18.71 59,16.51 60,11.73 61,1.82 62,4.09 63,6.07 64,8.78 65,10.15 66,11.67 67,10.79 68,9.41 69,8.1 70,3.84 71,3.46 72,4.51 73,6.22 74,7.47 75,8.44 76,9.17 77,10.35 78,11.35 79,10.57 80,8.4 81,7.07 82,3.94 83,1.88 84,4.78 85,7.64 86,11.08 87,13.35 88,13.31 89,12.9 90,9.49 91,2.97 92,4.41 93,5.47 94,5.33 95,4.38 96,6.07 97,8.05 98,9.14 99,9.32 100,8.88 101,8.31 102,7.83 103,6.95 104,5.13 105,6.73 106,8.48 107,9.72 108,11.3 109,13.63 110,13.78 111,13.28 112,12.73 113,12 114,9.66 115,6.56 116,3.51 117,1.38 118,4.09 119,7.1 120,8.49 121,17.04 122,20.96 123,23.36 124,22.97 125,21.5 126,19.43 127,16.52 128,11.54 129,8.45 130,4.48 131,2.13 132,5.92 133,7.87 134,10.66 135,14.68 136,17.05 137,21.42 138,25.26 139,27.76 140,29.6 141,26.29 142,18.08 143,11.39 144,7.01 145,9.96 146,15.05 147,18.07 148,16.6 149,11.83 150,7.2 151,1.59 152,7.94 153,12.86 154,17.77 155,19.91 156,23.99 157,26.34 158,26.97 159,24.42 160,20.69 161,19.26 162,15.76 163,12.03 164,7.94 165,3.92 166,1.48 167,9.56 168,9.78 169,13.45 170,17.44 171,20.97 172,25.22 173,28.64 174,35.7 175,30.15 176,25.07 177,20.29 178,16.29 179,13.07 180,9.87"/>
<polyline points="1,5.24 2,12.62 3,19.03 4,22.14 5,20.42 6,16.86 7,13.58 8,9.89 9,9.12 10,8.44 11,7.96 12,6.75 13,4.65 14,3.11 15,2.2 16,4.69 17,10.06 18,14.6 19,18.39 20,20.69 21,22.29 22,21.69 23,21.7 24,20.71 25,19.97 26,17.07 27,14.67 28,12.25 29,9.58 30,6.36 31,20.39 32,16.82 33,12.96 34,9.83 35,5.86 36,12.8 37,15.73 38,17.2 39,17.32 40,17.03 41,13.76 42,11.6 43,9.63 44,7.72 45,4.54 46,2.86 47,4.94 48,5.22 49,3.74 50,2.76 51,6.99 52,11.32 53,16.45 54,19.65 55,22.54 56,24.31 57,23.86 58,17.15 59,14.95 60,11.97 61,1.14 62,4.32 63,6.32 64,9.21 65,9.86 66,11.35 67,11.25 68,10.08 69,8.53 70,3.75 71,3.86 72,4.78 73,6.67 74,7.22 75,8.54 76,10.27 77,10.89 78,11.21 79,10.17 80,8.01 81,5.69 82,3.75 83,1.63 84,4.69 85,7.34 86,11.39 87,13.59 88,14.69 89,12.81 90,9.51 91,3.28 92,4.4 93,5.45 94,5.56 95,4.77 96,6.27 97,8.21 98,9.73 99,9.6 100,9.75 101,7.39 102,7.25 103,6.41 104,5.02 105,6.14 106,8.02 107,9.31 108,10.91 109,12.98 110,13.69 111,13.26 112,13.66 113,12.49 114,9.74 115,7.13 116,4.02 117,1.76 118,4.34 119,7.04 120,9.34 121,17.2 122,20.86 123,22.83 124,22.1 125,22.12 126,19.11 127,14 128,11.94 129,7.2 130,4.54 131,1.99 132,5.44 133,7.89 134,11.61 135,14.49 136,18.35 137,21.55 138,24.32 139,29.3 140,30.38 141,26.97 142,18.18 143,12.41 144,6.83 145,9.98 146,13.89 147,17.74 148,16.35 149,12.65 150,5.97 151,1.55 152,8.44 153,12.03 154,15.6 155,20.32 156,24.73 157,26.84 158,27.47 159,25.28 160,20.72 161,21.38 162,16.49 163,12.23 164,8.09 165,4.1 166,1.89 167,9.68 168,10.28 169,14.34 170,18.54 171,21.4 172,24.81 173,29.35 174,34.3 175,28.97 176,23.81 177,18.66 178,16.04 179,12.76 180,10.44"/>
<polyline points="1,5.22 2,12.71 3,17.71 4,22.19 5,20.1 6,16.43 7,13.63 8,10.73 9,9.6 10,9.3 11,8.53 12,7.16 13,5.72 14,4.1 15,2.31 16,5 17,9.91 18,14.06 19,17.82 20,21.15 21,21.21 22,19.91 23,20.37 24,20.28 25,19.31 26,16.5 27,14.57 28,12.3 29,9.24 30,7.35 31,20.71 32,18.94 33,14.1 34,10.1 35,5.98 36,12.38 37,16.22 38,17.25 39,16.95 40,15.56 41,14.42 42,10.78 43,9.43 44,7.16 45,4.37 46,2.7 47,4.76 48,4.99 49,3.92 50,2.81 51,7.16 52,11.68 53,15.95 54,19.38 55,21.84 56,24.58 57,24.65 58,17.49 59,15.44 60,11.45 61,1.31 62,4.24 63,6.09 64,9.04 65,9.86 66,11.87 67,10.87 68,9.67 69,7.88 70,3.78 71,3.78 72,4.99 73,5.87 74,7.55 75,7.94 76,9.87 77,10.2 78,11.46 79,9.87 80,8 81,6.97 82,4.17 83,1.54 84,4.58 85,8.47 86,11.48 87,13.57 88,14.28 89,13.07 90,9.81 91,3.44 92,4.7 93,5.74 94,5.99 95,4.4 96,6.01 97,7.72 98,8.98 99,10 100,9.31 101,8.97 102,7.93 103,6.68 104,5.28 105,6.71 106,8.58 107,9.78 108,11.59 109,12.99 110,14.26 111,13.84 112,13.73 113,12.91 114,9.21 115,6.74 116,3.38 117,1.49 118,4.52 119,6.57 120,8.39 121,17.51 122,20.46 123,22.54 124,22.38 125,22.77 126,18.7 127,15.41 128,11.18 129,8.08 130,4.76 131,2.37 132,5.74 133,8.6 134,12 135,14.26 136,17.33 137,19.44 138,26.51 139,27.88 140,29.38 141,26.18 142,17.76 143,10.9 144,7.5 145,10.03 146,14.52 147,17.33 148,17.48 149,12.76 150,8.7 151,1.62 152,10.03 153,13.11 154,16.71 155,19.05 156,24.68 157,26.46 158,26.23 159,23.71 160,21.16 161,16.98 162,17.32 163,12.47 164,7.28 165,4.1 166,1.7 167,9.75 168,11.08 169,14.86 170,17.94 171,21.09 172,26.72 173,30.93 174,35.23 175,31.5 176,23.43 177,19.28 178,17.24 179,13.29 180,9.93"/>
<polyline points="1,5.25 2,12.73 3,18.13 4,22.35 5,20.03 6,17.28 7,13.87 8,10.5 9,8.63 10,8.99 11,8.39 12,7.22 13,5.6 14,3.42 15,2.39 16,4.84 17,9.91 18,14.88 19,19.15 20,20.1 21,19.9 22,21.52 23,21.25 24,20.79 25,19.25 26,16.31 27,13.9 28,11.77 29,10.02 30,7.54 31,20.72 32,18.55 33,14.86 34,10.15 35,6.17 36,13.04 37,17.66 38,17.87 39,18.04 40,16.27 41,15.75 42,12.2 43,9.87 44,6.75 45,4.27 46,2.75 47,4.54 48,5.09 49,3.72 50,2.56 51,6.93 52,11.9 53,16.02 54,20.71 55,22.51 56,24.8 57,25.6 58,19.42 59,16.47 60,11.35 61,1.65 62,4.37 63,6.42 64,8.39 65,10.12 66,11.22 67,10.94 68,9.34 69,7.21 70,3.56 71,3.7 72,4.95 73,6.07 74,7.89 75,8.5 76,8.89 77,9.82 78,11.45 79,10.8 80,8.41 81,7.28 82,3.73 83,1.62 84,4.83 85,9.05 86,11.69 87,12.99 88,14.06 89,12.75 90,9.93 91,3.3 92,4.47 93,5.26 94,5.65 95,4.38 96,6.61 97,7.79 98,9.16 99,9.28 100,9.56 101,8.52 102,7.47 103,6.91 104,5.08 105,7.09 106,8.79 107,10.36 108,11.62 109,12.88 110,14.98 111,14.59 112,11.99 113,10.97 114,9.54 115,7.04 116,3.68 117,1.46 118,4.53 119,6.99 120,8.6 121,17.76 122,20.08 123,23.06 124,22.88 125,21.33 126,18.93 127,16.32 128,12.27 129,7.98 130,4.92 131,2.42 132,5.97 133,8.8 134,10.87 135,15.06 136,16.9 137,19.85 138,24.95 139,27.96 140,30.61 141,26.22 142,18.33 143,10.96 144,6.63 145,9.64 146,15.16 147,17.41 148,17 149,13.74 150,7.37 151,1.91 152,9.56 153,14.09 154,16.73 155,21.33 156,25.41 157,27.53 158,27.64 159,25.38 160,21.1 161,19.75 162,17.2 163,11.99 164,8.04 165,4.08 166,1.6 167,8.97 168,10.21 169,13.27 170,16.56 171,20.8 172,25.33 173,30.44 174,34.76 175,32.98 176,23.71 177,19.53 178,16.76 179,13.37 180,10.41"/>
<polyline points="1,5.35 2,12.51 3,19.49 4,22.21 5,20.42 6,16.66 7,12.56 8,10.23 9,9.14 10,9.4 11,8.43 12,7.11 13,5.31 14,3.22 15,2.11 16,4.84 17,10.26 18,15.13 19,18.32 20,21.56 21,21.66 22,20.81 23,21.17 24,21.95 25,19.12 26,17.14 27,14.28 28,10.63 29,10.13 30,7.08 31,21.14 32,17.96 33,14.27 34,9.68 35,5.79 36,11.34 37,15.84 38,19.29 39,18.21 40,17.75 41,16.54 42,13.3 43,10.24 44,7.09 45,4.43 46,2.76 47,4.67 48,5.15 49,3.67 50,2.79 51,6.76 52,11.83 53,15.06 54,20.41 55,23.31 56,24.69 57,25.56 58,18.51 59,15.21 60,12.24 61,1.38 62,4.1 63,5.98 64,9.11 65,11.02 66,11.53 67,11.09 68,9.84 69,7.68 70,4.06 71,3.92 72,4.55 73,6.08 74,6.96 75,8.17 76,9.6 77,10.66 78,10.98 79,10.65 80,8.51 81,5.75 82,3.64 83,1.59 84,5.26 85,8.55 86,11.6 87,12.81 88,14.84 89,13.82 90,10.43 91,3.35 92,4.35 93,5.27 94,5.74 95,5 96,6.08 97,7.77 98,9.04 99,10.17 100,9.79 101,8.5 102,7.93 103,7.47 104,5.21 105,6.74 106,8.27 107,10.04 108,10.49 109,13.23 110,13.41 111,12.69 112,12.84 113,12.54 114,9.67 115,7.74 116,3.96 117,2.01 118,4.44 119,7.01 120,8.37 121,17.86 122,22.54 123,22.97 124,24.73 125,22.42 126,19.14 127,17.07 128,10.93 129,7.44 130,4.19 131,2.14 132,6.08 133,8.84 134,11.18 135,13.91 136,18.26 137,21.33 138,24.96 139,28.3 140,29.65 141,27.67 142,19.07 143,11.74 144,7.76 145,9.85 146,14.99 147,17.87 148,17.01 149,13.85 150,6.28 151,1.7 152,9.26 153,13.26 154,17.67 155,19.7 156,24.68 157,25.96 158,28.55 159,25.15 160,21.66 161,19.63 162,17.8 163,12.36 164,7.72 165,3.94 166,1.27 167,9.18 168,10.68 169,15.23 170,18.42 171,22.19 172,26.48 173,30.3 174,35.76 175,28.86 176,24.35 177,18.96 178,16.64 179,13.69 180,10.31"/>
<polyline points="1,5.36 2,12.71 3,19.4 4,22.8 5,20.96 6,15.81 7,12.98 8,10.56 9,9.29 10,8.74 11,7.97 12,6.88 13,4.91 14,3.71 15,2.48 16,5.02 17,10.32 18,14.68 19,18.13 20,21.02 21,21.41 22,21.01 23,20.33 24,21.19 25,18.67 26,16.8 27,14.73 28,12.01 29,10.15 30,7.7 31,20.68 32,17.45 33,14.76 34,10.33 35,6.02 36,12.62 37,15.64 38,19.26 39,17.36 40,16.59 41,14.04 42,12.46 43,9.71 44,7.41 45,4.59 46,2.62 47,4.7 48,5.33 49,3.76 50,2.72 51,6.79 52,10.73 53,16.47 54,20.49 55,22.78 56,24.4 57,23.89 58,18.34 59,15.7 60,12.36 61,1.58 62,4.15 63,6.45 64,9.21 65,9.91 66,11.5 67,11.05 68,10.4 69,8.24 70,3.86 71,3.88 72,4.36 73,6.4 74,7.93 75,7.93 76,9.68 77,11 78,11.06 79,10.59 80,8.71 81,6.76 82,3.9 83,1.6 84,5 85,8.77 86,11.5 87,13.89 88,14.55 89,13.09 90,9.62 91,3.37 92,4.47 93,5.59 94,5.14 95,4.47 96,6.21 97,8.21 98,9.81 99,9.83 100,9.19 101,8.87 102,7.42 103,7.43 104,5.15 105,6.74 106,8.47 107,9.9 108,11.35 109,12.69 110,13.84 111,14.51 112,13.53 113,11.73 114,9.8 115,7.6 116,3.53 117,1.81 118,4.4 119,7.15 120,8.5 121,17.56 122,22.02 123,24.29 124,23.46 125,23.12 126,17.75 127,15.32 128,11.9 129,7.2 130,4.91 131,2.18 132,4.61 133,7.22 134,11.73 135,13.83 136,17.96 137,22.03 138,24.91 139,28.27 140,29.75 141,26.7 142,19.5 143,11.24 144,7.35 145,10.28 146,15 147,17.89 148,17.93 149,12.63 150,7.5 151,1.78 152,8.57 153,12.88 154,16.9 155,21.49 156,25 157,26.25 158,28.64 159,24.66 160,21.22 161,20.22 162,16.78 163,12.5 164,8.49 165,3.72 166,1.9 167,9.65 168,10.62 169,14.07 170,18.04 171,20.98 172,27.1 173,29.8 174,36.1 175,31.28 176,26.32 177,19.31 178,16.75 179,12.79 180,10.31"/>
<polyline points="1,5.34 2,12.59 3,19.3 4,22.55 5,20.7 6,17.39 7,12.52 8,10.17 9,8.57 10,8.77 11,8.09 12,7.46 13,5.3 14,3.48 15,2.39 16,5.53 17,10.3 18,15.13 19,18.74 20,20.59 21,21.05 22,20.32 23,20.83 24,21.01 25,19.21 26,16.19 27,14.79 28,12.42 29,9.24 30,7.85 31,21.52 32,18.15 33,14.37 34,10.03 35,5.39 36,11.81 37,15.89 38,16.76 39,16.77 40,17.4 41,15.27 42,13.26 43,10.62 44,7.94 45,4.34 46,2.86 47,4.74 48,5.19 49,3.82 50,2.67 51,6.88 52,11.73 53,15.19 54,20.34 55,22.61 56,25.62 57,25.21 58,18.22 59,14.02 60,11.4 61,1.62 62,3.86 63,6.36 64,8.43 65,10.15 66,11.45 67,10.76 68,10.15 69,8.11 70,3.92 71,3.94 72,5.1 73,5.99 74,7.3 75,8.57 76,9.32 77,11 78,11.8 79,10.97 80,8.99 81,6.73 82,4.06 83,2.1 84,4.88 85,8.47 86,11.32 87,12.95 88,14.29 89,12.59 90,9.7 91,3.35 92,4.19 93,5.32 94,5.78 95,4.66 96,6.55 97,8.33 98,9.85 99,9.46 100,10.23 101,9.13 102,8.38 103,6.55 104,5.43 105,6.94 106,8.66 107,9.57 108,11.69 109,13.12 110,14.32 111,14.73 112,13.65 113,11.11 114,10.66 115,7.65 116,3.69 117,1.58 118,4.3 119,7.17 120,8.4 121,17.36 122,21.58 123,24.28 124,23.97 125,23.35 126,19.67 127,16.26 128,10.52 129,7.46 130,4.99 131,2.09 132,5 133,8.4 134,11.48 135,13.55 136,17.46 137,21.89 138,26.05 139,28.35 140,30.17 141,26.04 142,18.67 143,12.91 144,7.46 145,9.9 146,14.94 147,17.64 148,15.34 149,12.88 150,7.2 151,1.89 152,9 153,14.29 154,18.08 155,20.48 156,24.45 157,27.03 158,27.54 159,24.06 160,20.8 161,19.49 162,16.97 163,12.66 164,7.78 165,4 166,1.92 167,9.43 168,10.99 169,14.6 170,18.57 171,22.58 172,26.63 173,31.16 174,35.25 175,32.83 176,22.88 177,20.72 178,16.4 179,12.86 180,10.04"/>
<polyline points="1,5.53 2,12.31 3,19.39 4,22.32 5,20 6,17.32 7,13.81 8,10.65 9,9.05 10,9.19 11,8.43 12,7.36 13,5.43 14,3.49 15,2.44 16,4.77 17,10.27 18,14.33 19,18.47 20,20.53 21,21.37 22,21.75 23,21.68 24,21.29 25,18.95 26,16.46 27,13.52 28,12.4 29,10.42 30,7.25 31,20.68 32,18.98 33,14.01 34,10.47 35,6.2 36,14.07 37,16.9 38,18.34 39,17.14 40,17.45 41,15.06 42,12.25 43,9.48 44,7.66 45,4.6 46,2.76 47,4.88 48,5.33 49,3.57 50,2.77 51,7.18 52,12.06 53,15.83 54,20.02 55,23.76 56,24.27 57,25.84 58,19.29 59,15.43 60,12.68 61,1.65 62,4.5 63,7.11 64,8.56 65,10.45 66,11.51 67,10.74 68,9.4 69,7.56 70,3.85 71,3.62 72,4.83 73,6.2 74,7.91 75,8.93 76,9.66 77,11.13 78,11.75 79,11.1 80,8.46 81,6.52 82,4.1 83,1.57 84,5.03 85,8.71 86,11.25 87,13.42 88,14.43 89,13.44 90,10.25 91,3.64 92,4.7 93,5.46 94,5.62 95,4.75 96,6.28 97,8.11 98,9.16 99,10.63 100,9.28 101,8.72 102,7.75 103,6.9 104,5.3 105,6.83 106,8.66 107,10.04 108,11.23 109,12.87 110,13.57 111,13.62 112,13.23 113,10.91 114,9.34 115,7.55 116,3.92 117,1.83 118,4.45 119,7.04 120,8.68 121,18.12 122,21.63 123,22.75 124,23.38 125,22.62 126,19.06 127,15.77 128,11.34 129,8.42 130,4.74 131,2.01 132,5.17 133,9.98 134,12.22 135,14.43 136,17.97 137,21.3 138,25.54 139,28.02 140,29.29 141,25.64 142,18.51 143,11.77 144,6.91 145,9.76 146,15.16 147,17.08 148,16.33 149,13.19 150,7.98 151,1.72 152,8.76 153,13.15 154,18.52 155,22.62 156,23.67 157,27.19 158,27.33 159,24.36 160,22.24 161,19.58 162,16.86 163,11.8 164,7.65 165,4.22 166,1.55 167,9.18 168,10.44 169,14.92 170,18.22 171,21.51 172,27.54 173,32.91 174,34.56 175,32.01 176,25.49 177,20.16 178,16.52 179,13.4 180,10.2"/>
<polyline points="1,5.37 2,12.81 3,19.08 4,22.74 5,20.27 6,16.85 7,14.03 8,10.49 9,8.93 10,9.2 11,8.31 12,6.88 13,5.29 14,3.67 15,2.49 16,5.19 17,10.27 18,14.75 19,18.2 20,20.65 21,20.96 22,20.45 23,21.79 24,20.53 25,19.07 26,16.58 27,14.27 28,12.43 29,9.85 30,7.26 31,21.42 32,17.79 33,13.69 34,10.09 35,5.78 36,12.4 37,17.58 38,18.95 39,17.51 40,18.17 41,14.47 42,13.68 43,9.54 44,7.85 45,4.6 46,2.74 47,4.66 48,5.04 49,3.81 50,2.85 51,7.31 52,11.14 53,17.18 54,20.7 55,23.06 56,24.68 57,25.04 58,17.96 59,16.8 60,10.62 61,1.69 62,4.17 63,6.73 64,8.55 65,10.4 66,11.51 67,11.39 68,9.68 69,7.31 70,3.73 71,3.56 72,4.9 73,6.28 74,6.99 75,8.31 76,10.27 77,11.77 78,11.37 79,10.77 80,9.47 81,7.3 82,3.93 83,1.62 84,5.04 85,8.41 86,11.5 87,13.06 88,14.11 89,13.54 90,10.79 91,2.94 92,4.84 93,5.65 94,5.45 95,4.82 96,5.56 97,8.27 98,9.47 99,10.16 100,9.56 101,8.78 102,8.56 103,7.37 104,4.98 105,6.92 106,8.73 107,8.82 108,11.64 109,12.81 110,14.11 111,12.31 112,13.39 113,11.49 114,9.84 115,7.14 116,4.58 117,1.71 118,4.48 119,6.9 120,8.81 121,18.1 122,21.54 123,22.19 124,22.89 125,21.56 126,20.32 127,16.46 128,11.78 129,8.07 130,4.75 131,2.36 132,6.08 133,7.56 134,11.12 135,12.98 136,17.07 137,22.54 138,25.98 139,28.17 140,30.16 141,27.61 142,18.66 143,12.14 144,7.81 145,10.01 146,15.4 147,17.03 148,15.86 149,13.02 150,7.11 151,1.8 152,9.02 153,13.83 154,18.92 155,21.77 156,24.53 157,26.56 158,27.9 159,24.38 160,22.83 161,19.25 162,16.62 163,12.06 164,7.67 165,4.14 166,1.55 167,10.19 168,11.6 169,14.37 170,18.56 171,22.14 172,23.79 173,29.33 174,34.59 175,32.25 176,23.3 177,21.35 178,16.91 179,13.22 180,10.54"/>
<polyline points="1,5.62 2,11.94 3,18.65 4,22.28 5,20.63 6,16.93 7,13.59 8,11.07 9,9.66 10,9.47 11,8.33 12,7.2 13,5.59 14,3.49 15,2.29 16,5.25 17,10.31 18,14.62 19,18.18 20,20.03 21,21.58 22,20.29 23,21.77 24,22.08 25,19.55 26,17.2 27,15.12 28,12.45 29,10.05 30,7.31 31,21.69 32,18.86 33,14.97 34,10.09 35,5.87 36,11.4 37,16 38,18.65 39,17.63 40,16.27 41,15.28 42,12.63 43,10.32 44,8.24 45,5.05 46,2.84 47,4.75 48,5.25 49,3.97 50,2.79 51,7.2 52,11.37 53,14 54,18.76 55,21.68 56,25.42 57,24.88 58,17.43 59,16.54 60,11.95 61,1.25 62,4.17 63,6.8 64,9.41 65,11.07 66,12.25 67,11.49 68,10.12 69,8 70,3.97 71,3.94 72,4.97 73,6.4 74,7.07 75,8.84 76,9.08 77,10.55 78,11.92 79,10.05 80,9.23 81,6.58 82,3.3 83,1.89 84,5.44 85,8.2 86,11.71 87,13.5 88,14.57 89,14.02 90,9.72 91,3.37 92,4.24 93,5.28 94,5.43 95,4.49 96,6.34 97,8.03 98,9.42 99,9.57 100,9.61 101,8.54 102,7.78 103,6.97 104,5.14 105,6.89 106,8.75 107,10.37 108,11.75 109,12.76 110,14.81 111,13.96 112,13.19 113,12.27 114,9.54 115,7.02 116,3.52 117,1.8 118,4.77 119,7 120,8.87 121,17.59 122,21.96 123,23.78 124,23.17 125,22.9 126,20.48 127,18.25 128,12.24 129,7.96 130,4.89 131,1.88 132,5.98 133,9.73 134,11.29 135,13.95 136,17.07 137,20.56 138,25.46 139,27.56 140,30.08 141,26.64 142,18.53 143,13.12 144,8.19 145,10.15 146,15.52 147,17.99 148,18.26 149,13.98 150,7.12 151,1.54 152,9.28 153,12.79 154,17.23 155,21.11 156,23 157,25.68 158,27.59 159,24.17 160,20.88 161,22.17 162,17.66 163,13.38 164,8.21 165,4.03 166,1.93 167,9.66 168,11.36 169,15.32 170,17.88 171,21.15 172,23.59 173,32.21 174,35.61 175,30.41 176,25.24 177,20.74 178,14.93 179,12.19 180,10.51"/>
<polyline points="1,5.19 2,12.71 3,18.64 4,22.09 5,20.54 6,17.63 7,13.84 8,10.53 9,8.83 10,9 11,8.14 12,7.86 13,5.37 14,3.41 15,2.41 16,5.13 17,10.36 18,14.58 19,18.75 20,20.97 21,22.25 22,20.68 23,21.04 24,20.52 25,19.64 26,17.03 27,15.09 28,11.92 29,9.26 30,7.38 31,20.64 32,18.47 33,15.34 34,10.71 35,6.11 36,12.57 37,17.48 38,19.23 39,18 40,15.48 41,15.91 42,12.62 43,9.98 44,7.94 45,4.54 46,2.91 47,4.71 48,5.11 49,3.88 50,2.6 51,6.94 52,12.14 53,15.81 54,21.3 55,23.33 56,25.64 57,24.96 58,19.29 59,15.33 60,12.45 61,1.56 62,4.25 63,6.75 64,8.18 65,10.83 66,11.36 67,10.65 68,9.89 69,7.96 70,4.32 71,4.03 72,5.07 73,6.29 74,7.54 75,8.9 76,9.84 77,10.71 78,11.55 79,10.59 80,8.86 81,7.53 82,3.82 83,1.62 84,5.27 85,8.6 86,11.61 87,13.17 88,15.19 89,14.28 90,9.76 91,3.31 92,4.77 93,5.52 94,5.39 95,4.54 96,6.54 97,7.97 98,9.31 99,10.38 100,9.5 101,8.95 102,8.1 103,7.06 104,5.33 105,6.68 106,8.79 107,10.03 108,11.63 109,13.89 110,13.88 111,14.32 112,12.74 113,11.99 114,10.19 115,7.66 116,3.55 117,1.63 118,4.61 119,7.27 120,8.37 121,17.99 122,20.79 123,23.22 124,24.96 125,23.46 126,19.47 127,17.8 128,11.29 129,8.11 130,5.33 131,2.09 132,6.35 133,9.95 134,12.48 135,14.6 136,17.68 137,23.13 138,25.98 139,28.63 140,29.78 141,26.67 142,19.93 143,12.23 144,7.65 145,10.27 146,15.84 147,17.89 148,17.97 149,12.06 150,8.58 151,1.75 152,10.19 153,13.87 154,18.46 155,20.5 156,26.34 157,26.58 158,28.39 159,24.21 160,22.18 161,19.04 162,17.21 163,12.57 164,7.62 165,4.02 166,1.7 167,9.18 168,11.63 169,15.13 170,18.24 171,23.2 172,26.4 173,32.11 174,35.72 175,32.61 176,25.59 177,21.42 178,17.48 179,13.24 180,10.44"/>
<polyline points="1,5.42 2,13.23 3,18.86 4,22.56 5,20.69 6,16.96 7,13.6 8,11.57 9,9.78 10,9.13 11,8.42 12,6.72 13,5.45 14,3.96 15,2.73 16,5.53 17,10.11 18,15.05 19,18.66 20,20.92 21,21.92 22,20.94 23,20.65 24,21.36 25,20.16 26,17.91 27,13.94 28,12.56 29,9.76 30,7.76 31,21.54 32,18.72 33,15.01 34,10.63 35,6.06 36,12.82 37,17.81 38,19.63 39,17.59 40,16.44 41,15.93 42,13.88 43,10.29 44,7.64 45,4.37 46,2.98 47,4.75 48,5.25 49,4.01 50,2.37 51,7.3 52,12.19 53,16.66 54,20.45 55,23.86 56,24.51 57,25.35 58,19.01 59,17.26 60,11.67 61,1.59 62,4.27 63,7.14 64,8.91 65,11.16 66,11.47 67,10.98 68,9.64 69,7.05 70,4.13 71,3.73 72,4.7 73,6.31 74,7.86 75,8.61 76,10.41 77,9.98 78,11.23 79,11.38 80,8.44 81,6.78 82,4.18 83,1.69 84,4.7 85,8.97 86,11.92 87,13.45 88,15.01 89,13.48 90,10.01 91,3.41 92,4.7 93,5.77 94,5.6 95,4.52 96,5.99 97,8.23 98,9.67 99,10.48 100,10.29 101,8.97 102,7.85 103,7.2 104,5.26 105,6.53 106,8.28 107,9.65 108,11.51 109,13.59 110,14.47 111,14.5 112,13.68 113,11.91 114,9.92 115,7.22 116,4.19 117,1.79 118,4.46 119,7.27 120,8.3 121,18.3 122,21.27 123,23.61 124,24.52 125,22.64 126,18.65 127,16.98 128,11.57 129,8.08 130,4.67 131,2.3 132,5.94 133,9.48 134,13.24 135,14.07 136,17.81 137,22.03 138,26.96 139,28.62 140,29.81 141,26.6 142,20.07 143,11.98 144,7.09 145,10.14 146,15.87 147,17.63 148,18.04 149,13.69 150,7.49 151,2.11 152,8.94 153,12.69 154,18.91 155,21.45 156,25.1 157,26.56 158,27.41 159,25.03 160,22.39 161,19.67 162,17.36 163,11.78 164,7.47 165,4.08 166,1.5 167,9.37 168,10.67 169,14.21 170,19.75 171,22.22 172,28.24 173,31.69 174,36.3 175,32.57 176,25.32 177,21.23 178,17.61 179,13.88 180,10.11"/>
<polyline points="1,5.39 2,12.82 3,19.31 4,22.13 5,20.52 6,17.49 7,13.78 8,10.82 9,9.41 10,8.54 11,8.36 12,6.44 13,5.38 14,3.72 15,2.35 16,5.21 17,10.45 18,14.88 19,19.15 20,21.24 21,21.73 22,20.99 23,21.51 24,20.63 25,19.36 26,16.62 27,14.34 28,12.2 29,9.82 30,8 31,21.73 32,18.49 33,14.56 34,10.82 35,6.22 36,12.42 37,16.47 38,19.28 39,17.13 40,17.31 41,15.93 42,13.19 43,11.24 44,7.68 45,4.28 46,2.9 47,5.04 48,4.92 49,3.77 50,2.56 51,7.66 52,11.71 53,17.98 54,21.98 55,23.31 56,26.11 57,26.15 58,18.29 59,16.68 60,11.68 61,1.79 62,4.36 63,7.05 64,9.06 65,10.6 66,12.6 67,11.15 68,9.48 69,7.81 70,3.73 71,3.71 72,4.64 73,6.49 74,7.33 75,9.08 76,9.64 77,10.97 78,11.89 79,10.92 80,9.86 81,7.8 82,4.39 83,1.63 84,4.77 85,8.75 86,11.38 87,13.44 88,14.07 89,13.77 90,10.47 91,3.41 92,4.39 93,5.53 94,5.48 95,4.85 96,6.64 97,8.14 98,9.54 99,10.45 100,10.64 101,9.3 102,8.3 103,7.45 104,5.27 105,7.09 106,8.34 107,10.36 108,12.17 109,12.9 110,14.08 111,13.77 112,14.41 113,12.9 114,9.6 115,7.32 116,4.16 117,1.87 118,4.81 119,6.99 120,8.53 121,18.46 122,21.85 123,25.33 124,24.47 125,21.99 126,20.27 127,17.52 128,12.2 129,7.68 130,4.8 131,2.18 132,6.77 133,9.05 134,12.25 135,14.43 136,19.54 137,23.12 138,26.1 139,28.89 140,29.18 141,26.62 142,19.81 143,12.6 144,7.24 145,10.03 146,15.63 147,17.56 148,17.8 149,14.54 150,6.86 151,1.87 152,8.4 153,12.63 154,17.57 155,23.34 156,24.92 157,27.86 158,28.28 159,25.51 160,21.28 161,21.77 162,17.51 163,11.78 164,7.71 165,4.23 166,1.52 167,9.85 168,11.92 169,16.25 170,18.67 171,21.86 172,25.23 173,32 174,34.22 175,31.67 176,23.96 177,20.06 178,18.6 179,13.09 180,10.29"/>
<polyline points="1,5.54 2,13.07 3,19 4,22.89 5,20.12 6,16.3 7,13.15 8,10.3 9,9.28 10,8.94 11,8.35 12,7.59 13,4.88 14,3.85 15,2.83 16,4.97 17,10.6 18,14.83 19,19.13 20,21.18 21,22.45 22,22.42 23,20.94 24,22.28 25,19.36 26,17.07 27,15.26 28,11.68 29,9.15 30,6.58 31,21.29 32,18.87 33,14.82 34,10.55 35,6.31 36,13.15 37,17.18 38,20.07 39,19.52 40,17.9 41,16.85 42,12.99 43,9.37 44,7.8 45,4.88 46,2.82 47,4.67 48,5 49,3.83 50,2.7 51,7.53 52,12.24 53,16.73 54,20.32 55,22.5 56,24.89 57,25.71 58,19.96 59,16 60,12.3 61,1.84 62,4.5 63,6.36 64,8.48 65,10.48 66,11.83 67,11.11 68,10.02 69,7.48 70,3.98 71,3.94 72,5.37 73,6.58 74,7.54 75,8.52 76,9.65 77,11.24 78,12.12 79,9.8 80,9.12 81,6.51 82,4.12 83,1.82 84,4.86 85,8.19 86,11.57 87,13.4 88,14.87 89,13.37 90,10.28 91,3.46 92,4.16 93,5.7 94,6 95,4.87 96,6.26 97,8.36 98,10.05 99,9.14 100,10.92 101,8.58 102,7.91 103,7.6 104,5.13 105,6.78 106,8.33 107,10.35 108,11.57 109,13.7 110,14.18 111,14.27 112,12.88 113,12.59 114,9.81 115,8.26 116,4.23 117,1.78 118,4.45 119,7.04 120,8.55 121,18.48 122,21.21 123,24.37 124,24.93 125,23.44 126,20.35 127,16.61 128,12.58 129,8.75 130,4.94 131,2.39 132,6.42 133,9.33 134,11.59 135,14.1 136,18.56 137,21.77 138,25.39 139,28.07 140,30.07 141,26.87 142,19.62 143,11.47 144,7.55 145,10.18 146,14.88 147,17.55 148,18.14 149,16 150,7.21 151,1.91 152,9.45 153,13.31 154,17.71 155,21.65 156,23.01 157,26.67 158,27.71 159,24.81 160,20.2 161,19.99 162,18.4 163,13.45 164,8.62 165,4.25 166,1.83 167,9.83 168,10.9 169,15.36 170,18.34 171,21.6 172,27.04 173,31.74 174,34.79 175,30.95 176,24.04 177,20.3 178,15.45 179,13.49 180,10.35"/>
<polyline points="1,5.36 2,12.97 3,19.46 4,23.71 5,21.69 6,17.36 7,14.07 8,11.68 9,9.63 10,8.75 11,8.28 12,7.39 13,4.87 14,3.65 15,2.49 16,4.78 17,10.57 18,15.12 19,18.68 20,21.51 21,21.15 22,21.79 23,21.68 24,21.71 25,19.04 26,17.05 27,14.45 28,11.91 29,10.66 30,7.13 31,21.84 32,17.77 33,13.14 34,10.7 35,6.4 36,12.13 37,17.71 38,20.09 39,19.02 40,16.83 41,16.77 42,13.26 43,11.84 44,8.33 45,4.95 46,2.71 47,4.86 48,5.26 49,4.13 50,2.85 51,6.93 52,10.92 53,15.18 54,18.91 55,24.54 56,25.48 57,25.19 58,20.37 59,16.81 60,12.73 61,1.72 62,4.63 63,7.25 64,8.75 65,10.19 66,11.68 67,11.22 68,10.14 69,7.78 70,3.69 71,3.78 72,5.12 73,5.96 74,7.46 75,8.84 76,10.03 77,10.71 78,11.49 79,10.81 80,9.82 81,7.61 82,4.53 83,2.12 84,5.54 85,8.89 86,11.92 87,14.29 88,14.96 89,13.61 90,9.98 91,3.16 92,4.64 93,5.8 94,5.71 95,4.75 96,6.35 97,7.9 98,9.96 99,10.55 100,10.62 101,9.04 102,8.63 103,6.73 104,5.19 105,7.19 106,8.68 107,10.33 108,11.96 109,13.46 110,14.52 111,13.46 112,12.49 113,11.4 114,9.2 115,7.43 116,4.04 117,1.98 118,4.8 119,7.25 120,8.94 121,18.15 122,22.31 123,24.17 124,23.45 125,23.81 126,20.4 127,16.41 128,11.42 129,8.65 130,4.59 131,2.3 132,5.5 133,7.35 134,12.1 135,15.6 136,18.08 137,21.94 138,25.85 139,28.86 140,30.44 141,28.45 142,20.38 143,13.98 144,7.72 145,10.03 146,14.37 147,17.83 148,16.78 149,13.81 150,6.95 151,1.6 152,8.7 153,12.81 154,18.25 155,20.24 156,24.06 157,26.84 158,28.16 159,25.08 160,22.3 161,22 162,19.16 163,13.74 164,8.78 165,4.22 166,1.91 167,10.07 168,10.89 169,16.11 170,16.95 171,20.56 172,27.09 173,30.36 174,34.79 175,31.72 176,25.45 177,20.27 178,17.9 179,14.53 180,10.5"/>
<polyline points="1,5.31 2,12.66 3,19.66 4,23.05 5,20.06 6,17.23 7,15.16 8,12.45 9,10.28 10,9.07 11,8.33 12,6.97 13,5.04 14,3.43 15,2.23 16,5.07 17,10.65 18,15.27 19,18.59 20,21.42 21,23.04 22,21.17 23,21.13 24,21.97 25,19.83 26,17.23 27,14.44 28,12.07 29,9.57 30,7.7 31,21.74 32,19.56 33,15.63 34,9.94 35,6.33 36,13.21 37,17.31 38,19.69 39,17.76 40,17.21 41,14.47 42,14.22 43,9.71 44,8.28 45,4.97 46,2.88 47,4.97 48,5.23 49,3.85 50,2.66 51,6.86 52,11.54 53,17.38 54,21.26 55,24.51 56,25.45 57,26.95 58,18.82 59,18.55 60,13.75 61,1.93 62,4.63 63,6.09 64,8.91 65,10.59 66,11.8 67,11.3 68,9.86 69,8.65 70,4.49 71,3.95 72,5.38 73,6.42 74,7.47 75,9.19 76,9.61 77,11.08 78,11.61 79,11.24 80,9.33 81,7.91 82,4.49 83,2.03 84,5.09 85,8.46 86,11.65 87,13.64 88,14.09 89,13.1 90,9.74 91,3.49 92,4.69 93,6.07 94,5.66 95,4.89 96,6.69 97,8.32 98,9.41 99,10.48 100,9.82 101,8.97 102,8.62 103,8.15 104,5.49 105,7.21 106,8.78 107,10.28 108,12.05 109,12.56 110,13.78 111,13.68 112,12.83 113,11.57 114,9.83 115,8.01 116,4.68 117,2.13 118,5.13 119,7.41 120,8.99 121,17.42 122,22.51 123,23.38 124,22.55 125,23.01 126,19.91 127,16.51 128,12.69 129,8.11 130,4.86 131,2.31 132,7.17 133,9.81 134,11.33 135,14.55 136,17.41 137,22.38 138,24.91 139,28.82 140,29.9 141,27.66 142,20.93 143,12.73 144,7.6 145,9.79 146,15.72 147,18.11 148,16.37 149,14.53 150,8.11 151,1.92 152,9.15 153,14.84 154,19.11 155,22.79 156,24.73 157,27.07 158,28.04 159,24.89 160,22.6 161,21.24 162,18.28 163,12.82 164,8.75 165,4.42 166,1.87 167,9.43 168,11.06 169,14.71 170,18.43 171,20.59 172,26.07 173,31.14 174,36.05 175,33.93 176,26.25 177,22.57 178,17.16 179,14.31 180,10.41"/>
<polyline points="1,5.7 2,13.15 3,19.81 4,23.31 5,21.11 6,17.95 7,12.64 8,11.93 9,9.3 10,8.74 11,8.07 12,7.08 13,6.02 14,3.96 15,2.49 16,5.24 17,10.6 18,15.22 19,18.72 20,20.56 21,21.64 22,21.37 23,20.74 24,22.18 25,20.04 26,17.66 27,15.14 28,12.85 29,10.08 30,7.67 31,20.31 32,19.38 33,14.32 34,10.29 35,5.99 36,12.84 37,18.4 38,20.44 39,19.68 40,17.93 41,15.83 42,12.89 43,9.53 44,8.4 45,4.66 46,2.82 47,5 48,5.52 49,4.5 50,2.87 51,7.74 52,12.32 53,17 54,19.66 55,23.75 56,24.95 57,24.24 58,19.44 59,17.33 60,12.33 61,1.74 62,5.06 63,6.59 64,9.05 65,10.83 66,12.31 67,11.28 68,10.08 69,8.36 70,3.72 71,4.16 72,5.39 73,6.84 74,8.34 75,9.43 76,10.75 77,10.99 78,10.95 79,10.43 80,8.78 81,7.98 82,3.98 83,2.06 84,5.25 85,8.7 86,12.8 87,14.13 88,14.45 89,13.34 90,9.67 91,3.51 92,4.59 93,5.31 94,5.73 95,4.87 96,6.87 97,8.29 98,10.21 99,10.91 100,10.48 101,9.03 102,7.69 103,7.56 104,5.12 105,6.93 106,8.9 107,10.71 108,12.77 109,14.12 110,15.69 111,13.99 112,12.73 113,12.49 114,8.77 115,6.67 116,3.49 117,1.7 118,4.74 119,7.88 120,8.77 121,19.04 122,22.28 123,23.31 124,24.28 125,21.95 126,19.39 127,16.23 128,11.56 129,7.56 130,5.2 131,2.66 132,5.93 133,10.06 134,12.79 135,13.98 136,17.84 137,21.12 138,25.6 139,28.9 140,30.07 141,27.38 142,20.56 143,13.76 144,8.17 145,10.51 146,14.96 147,18.14 148,17.34 149,14.89 150,7.65 151,1.76 152,8.8 153,14.05 154,19.1 155,22.78 156,25.54 157,27.41 158,28.64 159,24.77 160,22.2 161,18.64 162,16.79 163,12.56 164,8.02 165,3.88 166,2.14 167,9.97 168,11.85 169,15.1 170,18.49 171,20.82 172,26.72 173,30.79 174,34.79 175,33.03 176,24.02 177,21.59 178,18.14 179,14.2 180,10.73"/>
<polyline points="1,5.31 2,13.02 3,19.78 4,22.81 5,20.66 6,18.31 7,15.2 8,12.37 9,9.64 10,8.63 11,8.54 12,7.05 13,5.7 14,3.9 15,2.35 16,5.6 17,10.69 18,15.75 19,18.76 20,20.75 21,21.02 22,21.8 23,20.98 24,21.35 25,19.8 26,17.65 27,15.71 28,12.21 29,9.98 30,7.43 31,20.94 32,17.86 33,15.56 34,11.32 35,6.17 36,13.68 37,17.53 38,19.94 39,17.45 40,17.19 41,16.5 42,13.8 43,10.62 44,8.07 45,5.39 46,2.9 47,4.89 48,5.38 49,3.88 50,2.72 51,7.21 52,11.18 53,17.48 54,22.07 55,22.51 56,25.37 57,25.98 58,19.73 59,16.3 60,11.8 61,2.03 62,4.7 63,7.14 64,9.35 65,11.21 66,11.71 67,10.92 68,9.95 69,8.22 70,4.63 71,3.87 72,5.78 73,6.91 74,7.65 75,9.02 76,9.65 77,10.66 78,11.51 79,10.46 80,10.25 81,9.12 82,4.76 83,1.83 84,5.14 85,8.97 86,12 87,13.44 88,14.9 89,13.82 90,10.85 91,3.54 92,4.96 93,6.03 94,5.9 95,4.71 96,6.2 97,8.19 98,9.34 99,10.47 100,10.32 101,9.94 102,8.6 103,7.11 104,5.67 105,6.88 106,8.48 107,10.35 108,12.49 109,14.31 110,15.92 111,14.55 112,14.07 113,11.74 114,9.54 115,7.23 116,3.98 117,2.13 118,5.11 119,7.53 120,9.71 121,18.54 122,22.15 123,24.51 124,24.35 125,21.84 126,21.53 127,16.74 128,12.66 129,8.53 130,5.5 131,2.01 132,6.46 133,9.28 134,11.59 135,14.28 136,19.88 137,22.83 138,27.37 139,28.92 140,30.83 141,27.67 142,19.97 143,12.11 144,7.8 145,9.96 146,15.41 147,18.76 148,18.24 149,14.88 150,8.44 151,1.79 152,9.72 153,13.12 154,18.93 155,21.3 156,25.94 157,28.26 158,28.75 159,25.04 160,22.11 161,19.75 162,18.43 163,14.33 164,9.08 165,4.19 166,1.81 167,10.18 168,11.66 169,14.75 170,18.73 171,21.26 172,27.36 173,31.87 174,36.24 175,32.22 176,26.31 177,21.12 178,17.89 179,13.02 180,10.11"/>
<polyline points="1,5.36 2,13.08 3,19.75 4,23.05 5,21.02 6,17.37 7,14.38 8,11.33 9,9.57 10,9.52 11,8.45 12,7.48 13,5.65 14,4.1 15,2.95 16,5.02 17,10.82 18,14.85 19,18.88 20,21.84 21,21.41 22,22.33 23,22.02 24,21.6 25,19.81 26,16.76 27,14.78 28,13.05 29,10.8 30,7.66 31,21.95 32,19 33,15.6 34,10.85 35,5.96 36,13.18 37,17.55 38,18.54 39,18.7 40,16.98 41,15.57 42,13.51 43,11.42 44,8.21 45,4.46 46,2.9 47,4.98 48,5.29 49,3.89 50,2.97 51,7.68 52,12.78 53,16.23 54,20.03 55,23.52 56,25.91 57,25.48 58,19.84 59,17.41 60,13.05 61,1.99 62,4.77 63,7.43 64,9.37 65,11.29 66,12.32 67,11 68,10.14 69,8.07 70,4.12 71,4.13 72,4.8 73,6.42 74,7.41 75,8.99 76,10.54 77,11.5 78,11.65 79,11.1 80,9.21 81,7.66 82,4.7 83,2.1 84,4.95 85,8.58 86,11.36 87,13.45 88,14.79 89,14.04 90,10.73 91,3.55 92,4.91 93,5.99 94,6.01 95,4.79 96,6.98 97,8.36 98,9.91 99,10.71 100,10.74 101,9.52 102,8.49 103,7.68 104,5.55 105,6.67 106,8.71 107,10.32 108,11.96 109,13.32 110,14.45 111,14.88 112,14.33 113,12.2 114,10.59 115,8.88 116,4.41 117,2.1 118,4.87 119,6.87 120,8.99 121,18.13 122,22.71 123,24.39 124,24.8 125,23.78 126,21.62 127,17.47 128,11.99 129,8.55 130,4.98 131,2.77 132,7.22 133,8.91 134,12.07 135,14.53 136,19.37 137,22.68 138,26.07 139,29.46 140,30.97 141,28.01 142,21 143,12.47 144,7.86 145,10.58 146,16.02 147,17.48 148,18.25 149,14.86 150,7.5 151,1.93 152,9.64 153,15.1 154,18.54 155,23.45 156,25.14 157,27.83 158,27.74 159,25.55 160,20.67 161,20.39 162,18.13 163,13.41 164,8.35 165,4.28 166,1.93 167,10.35 168,11.15 169,15.52 170,19.09 171,22.02 172,27.41 173,33.78 174,35.97 175,33.23 176,26.45 177,20.82 178,18.21 179,14.02 180,10.56"/>
<polyline points="1,5.37 2,13.2 3,19.6 4,23.25 5,21.34 6,17.4 7,12.94 8,10.71 9,9.67 10,9.75 11,8.6 12,7.29 13,6.04 14,3.94 15,2.67 16,5.16 17,10.76 18,14.84 19,18.99 20,21.6 21,21.41 22,22.4 23,21.78 24,21.58 25,19.53 26,17.85 27,15.63 28,11.82 29,10.3 30,7.7 31,21.67 32,19.33 33,14.53 34,11.48 35,6.44 36,12.59 37,18.02 38,19.41 39,18.38 40,16.23 41,15.68 42,13.86 43,11.26 44,7.83 45,4.94 46,2.99 47,5.27 48,5.32 49,4.06 50,2.76 51,7.74 52,11.73 53,17.03 54,23.66 55,24.18 56,25.46 57,26.25 58,20.07 59,15.75 60,13.85 61,2 62,4.78 63,6.72 64,9.75 65,10.79 66,12.13 67,11.23 68,9.84 69,8.47 70,4.08 71,4.29 72,5.23 73,6.21 74,8.65 75,9.71 76,9.97 77,11.34 78,11.75 79,10.71 80,9.55 81,7.56 82,4.45 83,1.93 84,5.69 85,9.04 86,11.97 87,13.59 88,14.65 89,13.8 90,10.3 91,3.46 92,4.77 93,6.02 94,6.15 95,4.8 96,6.76 97,8.41 98,9.59 99,10.54 100,10.01 101,9.63 102,8.99 103,7.44 104,5.45 105,7.32 106,8.87 107,10.01 108,11.86 109,14.09 110,14.26 111,15.04 112,14.52 113,12.84 114,10.97 115,8.15 116,4.04 117,2.16 118,4.97 119,7.49 120,9.1 121,18.45 122,21.96 123,24.78 124,26.44 125,23.98 126,20.98 127,17.34 128,12.22 129,8.34 130,5.29 131,2.32 132,5.85 133,8.81 134,12.67 135,15.67 136,18.37 137,22.67 138,26.46 139,28.34 140,30.44 141,27.7 142,19.3 143,12.7 144,7.84 145,10.47 146,15.64 147,18.49 148,17.72 149,14.88 150,8.51 151,1.93 152,9.4 153,15.41 154,18.8 155,22.29 156,25.27 157,28.23 158,28.95 159,25.71 160,21.71 161,21.61 162,18.09 163,13.96 164,8.26 165,4.42 166,1.98 167,10.05 168,11.14 169,14.73 170,18.89 171,22.37 172,28.39 173,32.23 174,35.98 175,33.48 176,25.23 177,22.07 178,17.45 179,13.95 180,10.26"/>
<polyline points="1,5.63 2,12.78 3,20.2 4,23.15 5,20.36 6,17.58 7,14.2 8,11.8 9,9.43 10,9.58 11,8.48 12,7.35 13,5.78 14,3.87 15,2.69 16,5.31 17,10.65 18,15.11 19,18.85 20,21.28 21,22.27 22,21.94 23,22.34 24,22.02 25,19.64 26,17.56 27,15.47 28,13.09 29,10.36 30,7.59 31,20.63 32,19.56 33,15.85 34,11.45 35,6.24 36,12.65 37,17.19 38,18.86 39,17.83 40,17.92 41,15.64 42,13.23 43,11.02 44,7.79 45,4.72 46,2.92 47,5.09 48,5.58 49,4.1 50,2.75 51,7.58 52,12.48 53,17.58 54,21.46 55,23.13 56,25.55 57,26.7 58,21.89 59,15.56 60,13.49 61,1.77 62,4.89 63,7.1 64,9.35 65,10.65 66,12.36 67,11.29 68,10.29 69,7.69 70,4.49 71,4.42 72,5.16 73,6.52 74,8.31 75,8.96 76,10.32 77,11.14 78,11.5 79,11.75 80,9.42 81,7.63 82,4.7 83,1.72 84,5.17 85,9.32 86,11.95 87,13.38 88,15.02 89,13.63 90,10.25 91,3.18 92,4.86 93,5.61 94,6.03 95,5.04 96,6.67 97,8.5 98,9.96 99,10.88 100,10.34 101,9.59 102,9.33 103,7.41 104,5.72 105,6.93 106,9.36 107,9.71 108,12.19 109,14.28 110,15.56 111,13.73 112,14.79 113,12.33 114,10.8 115,8.48 116,4.19 117,1.94 118,4.94 119,7.22 120,9.17 121,17.98 122,22.41 123,26.39 124,26.95 125,23.23 126,22.05 127,17.88 128,11.77 129,8.78 130,4.98 131,2.47 132,7.33 133,9.05 134,12.1 135,15.84 136,16.94 137,22.84 138,26.89 139,28.84 140,30.23 141,26.99 142,21.92 143,12.24 144,8.09 145,10.59 146,15.43 147,18.28 148,18.46 149,15.22 150,8.43 151,2.22 152,10.42 153,15.12 154,20.98 155,22.1 156,27.08 157,26.81 158,28.14 159,24.82 160,22.89 161,21.28 162,17.6 163,14.06 164,7.91 165,4.45 166,1.92 167,10.25 168,11.89 169,15.88 170,18.6 171,24.01 172,30.53 173,33.14 174,35.97 175,33.55 176,26.06 177,21.23 178,18.03 179,14.18 180,10.35"/>
<polyline points="1,5.59 2,13.37 3,20.01 4,24.27 5,21.56 6,18.22 7,16 8,11.03 9,9.74 10,9.07 11,8.66 12,7.37 13,5.43 14,3.75 15,2.54 16,5.77 17,10.95 18,15.61 19,18.5 20,21.91 21,21.7 22,21.76 23,22.06 24,22.07 25,19.91 26,16.86 27,15.32 28,13.45 29,10.17 30,7.69 31,21.84 32,18.88 33,16.35 34,11.86 35,6.47 36,12.77 37,17.86 38,19.37 39,18.83 40,17.78 41,16.35 42,13.97 43,11.05 44,7.75 45,4.87 46,2.94 47,5.34 48,5.46 49,4.1 50,2.75 51,7.83 52,12.07 53,17.26 54,21.95 55,24.39 56,26.65 57,26.4 58,20.86 59,16.35 60,13 61,1.9 62,4.39 63,7.39 64,9.07 65,10.54 66,12.7 67,11.35 68,10.7 69,8.41 70,4.46 71,4.2 72,5.34 73,6.97 74,8.41 75,9.24 76,9.75 77,10.58 78,11.74 79,11.07 80,9.26 81,8.33 82,5.1 83,2.38 84,5.56 85,8.87 86,12.13 87,14.38 88,14.91 89,13.48 90,9.79 91,3.49 92,4.91 93,5.98 94,5.86 95,5.05 96,6.93 97,8.32 98,9.43 99,11.47 100,9.84 101,9.29 102,8.49 103,7.37 104,5.4 105,7.15 106,8.84 107,11.03 108,12.35 109,15.21 110,16.22 111,15.34 112,13.73 113,12.7 114,10.66 115,7.47 116,4.31 117,2.13 118,4.8 119,7.47 120,9.09 121,19.01 122,22.48 123,25.62 124,26.15 125,22.9 126,21.5 127,17.12 128,12.3 129,8.01 130,5.89 131,2.38 132,7.13 133,10.24 134,12.42 135,15.69 136,19.62 137,23.39 138,26.64 139,30.16 140,30.88 141,29.05 142,20.36 143,13.83 144,7.86 145,10.77 146,16.56 147,18.25 148,18.92 149,14.86 150,7.93 151,2.04 152,9.89 153,14.18 154,18.54 155,21.13 156,25.09 157,27.06 158,28.74 159,24.99 160,23.07 161,21.22 162,19 163,14.35 164,8.7 165,4.4 166,2.21 167,10.21 168,11.43 169,15.97 170,18.14 171,22.63 172,29.46 173,31.4 174,37.56 175,34.54 176,26.87 177,23.22 178,19.42 179,13.82 180,10.76"/>
<polyline points="1,5.32 2,13.26 3,19.36 4,22.52 5,21.15 6,18.03 7,14.39 8,12.02 9,9.92 10,9.44 11,9.08 12,7.92 13,5.93 14,3.98 15,2.47 16,5.4 17,10.83 18,15.28 19,18.9 20,21.74 21,22.12 22,22.02 23,22.49 24,21.68 25,20.07 26,17.5 27,15.68 28,12.31 29,9.71 30,7.77 31,21.92 32,19.72 33,15.69 34,11.36 35,5.94 36,14.38 37,17.22 38,19.91 39,19.16 40,18.4 41,16.09 42,13.61 43,10.97 44,7.94 45,4.87 46,2.88 47,5.01 48,5.6 49,4.08 50,3 51,7.85 52,12.91 53,17.59 54,22.57 55,24.25 56,25.33 57,25.78 58,20.26 59,16.95 60,13.88 61,2.11 62,4.67 63,7.08 64,10.04 65,10.92 66,12.17 67,11.6 68,10.65 69,8.07 70,4.48 71,3.98 72,5.14 73,6.57 74,8.12 75,8.8 76,10.67 77,11.55 78,12.39 79,11.38 80,10.41 81,7.45 82,4.9 83,2.12 84,5.5 85,8.94 86,12.4 87,14.37 88,14.82 89,14.26 90,10 91,3.45 92,4.93 93,5.94 94,6.15 95,4.89 96,6.69 97,8.6 98,10.02 99,10.56 100,11.02 101,9.3 102,7.98 103,7.21 104,5.52 105,6.88 106,8.85 107,10.78 108,12.97 109,14.14 110,15.2 111,14.82 112,14.47 113,12.96 114,11.07 115,8.16 116,4.27 117,1.89 118,4.69 119,7.22 120,9.36 121,18.75 122,23.15 123,25.28 124,26.1 125,22.92 126,20.9 127,20 128,12.56 129,8.67 130,5.67 131,2.43 132,6.54 133,9.73 134,12.45 135,15.52 136,18.5 137,24.2 138,26.36 139,28.91 140,30.63 141,28.05 142,20.18 143,13.27 144,7.88 145,10.28 146,16.12 147,18.42 148,18.77 149,14.44 150,9.18 151,2.25 152,10.08 153,14.18 154,19.42 155,23.01 156,25.96 157,28.87 158,28.36 159,24.8 160,23.73 161,21.34 162,18.96 163,14.37 164,8.8 165,4.81 166,2.15 167,10.39 168,10.38 169,16.07 170,18.33 171,22.02 172,30.19 173,32.66 174,36.27 175,33.81 176,25.24 177,24.11 178,18 179,14.77 180,10.72"/>
<polyline points="1,5.57 2,12.82 3,20.95 4,23.01 5,22.3 6,18.26 7,14.53 8,12.85 9,9.86 10,10.08 11,8.98 12,7.39 13,5.72 14,3.96 15,2.66 16,5.21 17,10.84 18,15.03 19,18.93 20,20.95 21,22.4 22,22.07 23,23.16 24,21.78 25,20.37 26,18.16 27,14.9 28,13.36 29,10.18 30,7.78 31,21.43 32,18.46 33,15.09 34,11.83 35,6.36 36,13.89 37,18.6 38,20.32 39,20.61 40,18.89 41,17.86 42,14.57 43,11.46 44,8.84 45,5.05 46,2.96 47,5.11 48,5.5 49,4.08 50,2.85 51,7.25 52,11.59 53,16.62 54,21.8 55,21.86 56,25.66 57,26.09 58,22.19 59,17.22 60,13.24 61,1.92 62,5.27 63,7.62 64,10.24 65,11.51 66,12.75 67,11.57 68,10.33 69,8.39 70,4.42 71,3.62 72,5.53 73,6.83 74,8.18 75,9.22 76,10.74 77,12.27 78,13.01 79,12.07 80,10.99 81,8.54 82,5.19 83,2.26 84,5.41 85,8.98 86,12 87,14.58 88,14.94 89,13.67 90,10.36 91,3.64 92,5.09 93,6.11 94,5.85 95,5.49 96,7.25 97,8.74 98,10.32 99,11.27 100,10.81 101,9.92 102,8.61 103,8 104,5.41 105,6.77 106,8.62 107,10.44 108,11.73 109,14.48 110,16.12 111,14.88 112,15.8 113,13.25 114,10.89 115,8.3 116,4.42 117,2.04 118,5.24 119,7.31 120,9.16 121,17.89 122,22.26 123,24.17 124,24.54 125,22.85 126,21.56 127,18.52 128,11.95 129,9.22 130,5.73 131,2.69 132,8.5 133,9.96 134,14.13 135,15.84 136,18.58 137,23.6 138,27.77 139,28.71 140,30.57 141,27.56 142,19.88 143,12.97 144,8.27 145,10.68 146,16.16 147,18.37 148,19.43 149,16.67 150,8.67 151,2.3 152,10.23 153,14.74 154,18.82 155,21.53 156,25.42 157,28.38 158,28.85 159,24.79 160,23.14 161,21.87 162,19.53 163,13.76 164,7.95 165,4.72 166,2.31 167,10.55 168,11.91 169,15.12 170,19.68 171,23.34 172,29.94 173,32.22 174,36.21 175,33.88 176,26.42 177,23.29 178,19.01 179,14.65 180,10.88"/>
<polyline points="1,5.65 2,13.08 3,20.01 4,22.95 5,21.63 6,18.36 7,14.59 8,12.09 9,10.15 10,9.34 11,8.55 12,7.8 13,5.99 14,3.95 15,2.73 16,5.28 17,10.68 18,15.58 19,19.88 20,22.12 21,23.65 22,23.08 23,21.65 24,22.56 25,19.8 26,17.84 27,15.17 28,12.45 29,10.68 30,8.48 31,22.28 32,18.93 33,15.49 34,11.63 35,6.45 36,14.15 37,18.39 38,21.34 39,19.76 40,18.3 41,17.5 42,15.12 43,11.39 44,8.5 45,4.93 46,3.03 47,5.44 48,5.56 49,3.97 50,2.94 51,7.28 52,12.28 53,17.12 54,22.71 55,24.81 56,26.19 57,26.36 58,19.92 59,16.7 60,13.82 61,1.99 62,4.83 63,7.78 64,9.51 65,11.22 66,12.29 67,11.51 68,10.4 69,8.83 70,4.58 71,3.96 72,5.64 73,6.92 74,8.86 75,9.61 76,10.78 77,11.66 78,13.05 79,10.93 80,9.45 81,8.39 82,4.74 83,1.91 84,5.31 85,9.1 86,12.12 87,14.71 88,14.88 89,14.2 90,10.64 91,3.62 92,4.49 93,5.56 94,6.1 95,5.08 96,6.82 97,8.27 98,10.66 99,10.48 100,10.79 101,9.86 102,9.2 103,7.77 104,5.73 105,7.2 106,9 107,10.74 108,12.29 109,14.19 110,15.29 111,15.37 112,14.71 113,13.04 114,9.88 115,8.23 116,4.47 117,2.07 118,4.97 119,7.87 120,9.48 121,18.7 122,22.77 123,25.04 124,24.72 125,24.95 126,22.2 127,17.62 128,13.5 129,8.76 130,5.53 131,2.58 132,7.3 133,10.13 134,13.15 135,14.98 136,19.05 137,24.05 138,26.92 139,29.56 140,30.75 141,27.45 142,21.53 143,13.65 144,7.74 145,10.48 146,16.75 147,18.47 148,18.21 149,15.76 150,9.53 151,2.28 152,10.17 153,14.86 154,20.43 155,22.48 156,26.43 157,28.25 158,29.11 159,26.5 160,21.94 161,21.97 162,17.19 163,14.22 164,8.61 165,4.31 166,2.27 167,10.3 168,11.29 169,15.91 170,21.14 171,22.1 172,28.18 173,30.66 174,37.59 175,34.65 176,26.61 177,23.23 178,19.33 179,14.7 180,10.67"/>
<polyline points="1,5.7 2,13.76 3,19.96 4,23.77 5,22.09 6,18.13 7,13.54 8,11.28 9,9.47 10,9.87 11,8.44 12,7.46 13,5.87 14,4.23 15,2.78 16,5.74 17,10.77 18,15.62 19,19.33 20,21.01 21,21.73 22,22.21 23,22.34 24,20.99 25,20.61 26,17.74 27,15.74 28,13.39 29,10.3 30,8.1 31,21.72 32,19.52 33,16.11 34,11.12 35,6.44 36,14.45 37,18.25 38,20.61 39,20.55 40,18.64 41,17.02 42,14.38 43,11.21 44,8.06 45,5.06 46,3.01 47,4.91 48,5.49 49,4.18 50,3.16 51,8.44 52,13.28 53,18.1 54,21.44 55,25.9 56,26.71 57,26.6 58,20.06 59,18.55 60,14.4 61,1.77 62,4.55 63,8.24 64,8.89 65,11.54 66,12.79 67,11.68 68,10.44 69,8.86 70,4.39 71,4.12 72,5.58 73,6.72 74,8.3 75,9.27 76,11.16 77,11.85 78,12.23 79,11.23 80,10.45 81,8.76 82,4.84 83,2.01 84,5.52 85,9.05 86,12.63 87,14.14 88,15.04 89,15 90,10.95 91,4 92,4.77 93,6.07 94,6.32 95,5.15 96,6.76 97,8.17 98,10.1 99,10.71 100,10.02 101,9.47 102,8.86 103,8.17 104,5.74 105,7.25 106,9.16 107,10.29 108,12.8 109,14.35 110,15.44 111,14.12 112,13.91 113,12.43 114,10.76 115,8.38 116,4.81 117,2.5 118,5.13 119,7.42 120,9.91 121,18.89 122,22.94 123,25.2 124,24.92 125,23.78 126,20.58 127,17.48 128,11.92 129,9.41 130,5.32 131,2.73 132,8.49 133,10.83 134,13.96 135,14.46 136,18.53 137,21.35 138,25.45 139,29.85 140,30.57 141,28.57 142,21.61 143,14.84 144,8.38 145,10.74 146,17 147,18.53 148,18.8 149,14.14 150,9.07 151,1.95 152,10.29 153,15.17 154,20.49 155,23.28 156,25.84 157,28.47 158,29.54 159,26.1 160,22.11 161,21.82 162,18.8 163,13.08 164,8.75 165,4.09 166,2.5 167,10.78 168,12.3 169,16.17 170,19.48 171,22.86 172,29.04 173,32.73 174,36.02 175,33.87 176,27.1 177,22.17 178,19.46 179,13.67 180,10.56"/>
<polyline points="1,5.78 2,13.95 3,19.96 4,23.46 5,22.08 6,17.47 7,14.59 8,12.35 9,10.4 10,10.22 11,8.93 12,7.78 13,6.39 14,4.22 15,2.83 16,5.79 17,10.9 18,15.93 19,19.53 20,22.36 21,22.56 22,22.89 23,22.65 24,22.82 25,20.4 26,18.3 27,15.73 28,12.65 29,10.46 30,8.18 31,22.24 32,19.95 33,15.16 34,11.13 35,6.58 36,14.15 37,18.57 38,22.3 39,19.29 40,17.66 41,17.33 42,14.27 43,11.51 44,8.99 45,5.17 46,3.12 47,5.14 48,5.42 49,4.2 50,3.09 51,8.31 52,13.03 53,17.06 54,23.3 55,24.15 56,25.81 57,26.64 58,21.69 59,17.78 60,13.92 61,1.95 62,5.04 63,7.99 64,9.77 65,11.34 66,12.64 67,11.43 68,10.39 69,8.73 70,4.58 71,4.24 72,5.7 73,7.25 74,8.83 75,9.56 76,10.78 77,11.21 78,12.57 79,11.51 80,10.2 81,7.94 82,5.32 83,1.99 84,5.71 85,9.83 86,12.09 87,15.11 88,16.48 89,13.68 90,10.26 91,3.66 92,5.18 93,6.06 94,6.09 95,4.82 96,6.88 97,8.28 98,10.82 99,11.45 100,10.35 101,9.79 102,9.65 103,7.81 104,5.67 105,7.3 106,8.76 107,11.06 108,12.39 109,14.57 110,15.93 111,15.25 112,14.26 113,13.55 114,10.4 115,7.82 116,4.29 117,2.23 118,5.06 119,7.67 120,9.55 121,18.53 122,22.34 123,24.99 124,25.21 125,25.08 126,20.18 127,19.21 128,12.27 129,8.72 130,5.57 131,2.58 132,7.51 133,9.59 134,12.35 135,15.64 136,20.26 137,24.36 138,27.36 139,29.62 140,30.58 141,28.92 142,22.03 143,13.84 144,8.11 145,10.32 146,16.26 147,18.61 148,18.79 149,14.21 150,8.62 151,2.14 152,9.57 153,15.12 154,20.51 155,22.58 156,25.29 157,28.23 158,30.19 159,25.8 160,24.62 161,20.5 162,19.24 163,14.14 164,9.23 165,4.73 166,1.95 167,9.97 168,11.61 169,16.65 170,21.47 171,23.46 172,29 173,32.87 174,38.09 175,33.15 176,27.8 177,23.22 178,18.21 179,14.2 180,10.76"/>
<polyline points="1,5.44 2,12.7 3,20.09 4,23.72 5,20.58 6,16.87 7,14.08 8,11.9 9,10.19 10,9.88 11,9 12,8.25 13,6.5 14,4.27 15,2.69 16,5.4 17,11.5 18,15.81 19,19.6 20,22.31 21,22.96 22,22.6 23,22.48 24,22.75 25,20.13 26,18.25 27,15.05 28,12.58 29,10.79 30,7.94 31,22.7 32,19.74 33,16.21 34,11.58 35,6.44 36,14.03 37,18.15 38,22.3 39,21.02 40,18.85 41,16.82 42,14.15 43,11.93 44,8.63 45,5.13 46,3.04 47,5.13 48,5.4 49,3.98 50,2.89 51,8.22 52,12.92 53,16.61 54,22.63 55,25.23 56,25.97 57,27.42 58,20.37 59,19 60,13.85 61,2.32 62,5.5 63,7.28 64,9.86 65,11.74 66,12.81 67,11.47 68,10.54 69,8.32 70,4.55 71,4.18 72,5.9 73,6.93 74,7.38 75,9.62 76,10.6 77,11.34 78,12.39 79,11.79 80,9.87 81,8.66 82,4.71 83,2.31 84,6 85,9.3 86,12.83 87,14.76 88,16.5 89,14.97 90,10.73 91,3.7 92,5.19 93,5.97 94,5.72 95,5.27 96,6.76 97,8.58 98,10.07 99,11.37 100,10.18 101,9.55 102,9.1 103,7.4 104,5.61 105,7.28 106,8.9 107,11.45 108,13.28 109,15.35 110,15.47 111,15.35 112,15.52 113,13.57 114,11.57 115,8.9 116,4.58 117,2.14 118,5.02 119,7.38 120,9.48 121,18.65 122,22.81 123,24.46 124,26.38 125,25.08 126,20.64 127,18.78 128,12.59 129,8.69 130,5.82 131,2.77 132,8.11 133,11.49 134,13.34 135,15.79 136,20.53 137,25.5 138,27.52 139,30.16 140,31.12 141,29.41 142,20.91 143,13.45 144,8.26 145,10.33 146,16.15 147,19.22 148,18.45 149,14.67 150,9.2 151,2.02 152,10.59 153,14.32 154,20.18 155,23.83 156,25.69 157,29.2 158,29.34 159,27.29 160,24.86 161,23.5 162,20.23 163,14.92 164,8.93 165,4.64 166,2.17 167,9.9 168,12.33 169,15.96 170,20.28 171,23.19 172,27.78 173,33.75 174,37.21 175,34.24 176,28.44 177,24.48 178,19.54 179,15.01 180,11"/>
<polyline points="1,5.99 2,13.59 3,20.41 4,23.75 5,21.38 6,18.52 7,14.94 8,11.66 9,10.84 10,10.01 11,9.45 12,8.24 13,6.02 14,4.15 15,2.63 16,5.43 17,11.07 18,15.44 19,19.37 20,22.14 21,23.68 22,22.95 23,23.46 24,23.07 25,20.96 26,17.75 27,15.84 28,13 29,10.81 30,7.99 31,22.05 32,19.85 33,16.72 34,12.5 35,6.44 36,13.89 37,17.06 38,19.82 39,19.65 40,18.91 41,17.86 42,14.56 43,12.13 44,9.09 45,5.46 46,3.2 47,5.34 48,5.36 49,4.26 50,2.92 51,7.28 52,12.89 53,18.77 54,23.81 55,24.92 56,27.01 57,28 58,22.16 59,18.21 60,13.87 61,2.29 62,5.05 63,6.87 64,9.79 65,11.7 66,12.68 67,11.83 68,10.76 69,9.46 70,4.87 71,4.39 72,5.47 73,6.69 74,8.13 75,9.86 76,11.39 77,12.21 78,11.81 79,12.09 80,11 81,7.87 82,5.5 83,2.14 84,5.3 85,9.76 86,12.43 87,15.18 88,15.43 89,14.81 90,11.5 91,3.77 92,4.84 93,6.21 94,6.18 95,5.15 96,6.73 97,8.3 98,10.34 99,11.75 100,11.6 101,10.57 102,9.78 103,8.5 104,5.65 105,7.27 106,8.79 107,10.83 108,12.58 109,14.47 110,16.59 111,16.02 112,15.8 113,13.58 114,10.79 115,8.23 116,4.56 117,2.5 118,5.21 119,7.82 120,9.42 121,19.11 122,23.2 123,26.5 124,27.6 125,25.4 126,21.88 127,18.2 128,12.35 129,8.46 130,4.95 131,2.69 132,6.95 133,11.32 134,14.41 135,15.78 136,19.62 137,24.49 138,27.31 139,28.89 140,30.6 141,28.29 142,20.97 143,12.95 144,8.78 145,10.75 146,15.96 147,18.56 148,20.08 149,15.09 150,8.95 151,2.26 152,9.83 153,14.4 154,19.65 155,23.85 156,25.04 157,29.54 158,30.28 159,26.83 160,22.77 161,22.07 162,19.09 163,14.14 164,8.67 165,4.49 166,2.5 167,10.92 168,12.08 169,16.7 170,21.01 171,23.46 172,26.87 173,33.45 174,38.07 175,33.46 176,28.26 177,24.86 178,20.4 179,15.5 180,11"/>
<polyline points="1,5.78 2,13.55 3,20.95 4,24.03 5,22.3 6,19 7,15.2 8,12.49 9,10.93 10,10.36 11,9.27 12,8.23 13,6.13 14,4.17 15,2.84 16,5.64 17,11.14 18,16 19,19.93 20,21.38 21,22.28 22,22.53 23,22.62 24,23.63 25,20.27 26,18.19 27,15.87 28,13.36 29,11.5 30,9 31,22.39 32,20.5 33,16.45 34,12.06 35,6.99 36,14.54 37,19.06 38,21.39 39,20.77 40,18.7 41,17.24 42,13.52 43,12.13 44,9.24 45,4.97 46,2.96 47,5.5 48,5.42 49,4.18 50,3.19 51,8.08 52,13.45 53,19.06 54,23.48 55,25.85 56,27.24 57,26.36 58,21.02 59,18.96 60,14.6 61,2.39 62,5.3 63,8.09 64,9.83 65,11.87 66,12.91 67,11.82 68,10.81 69,9.4 70,4.34 71,4.44 72,5.72 73,7.26 74,8.8 75,10.3 76,11.47 77,12.08 78,12.46 79,11.98 80,10.88 81,9.5 82,5.4 83,2.18 84,5.96 85,9.52 86,12.52 87,14.71 88,15.75 89,14.35 90,10.86 91,3.78 92,5.14 93,5.68 94,6.07 95,5.12 96,7.24 97,9.07 98,11 99,10.46 100,10.79 101,10.06 102,9.62 103,8.44 104,6 105,7.5 106,9.24 107,10.8 108,12.52 109,15.16 110,15.54 111,15.11 112,14.89 113,12.92 114,11.28 115,8.63 116,4.11 117,2.16 118,5.2 119,7.57 120,9.63 121,18.89 122,22.9 123,25.64 124,26.16 125,23.57 126,23.19 127,18.95 128,12.32 129,9.5 130,6 131,2.96 132,7.78 133,10.63 134,13.9 135,16.22 136,19.68 137,24.75 138,26.84 139,29.44 140,30.32 141,28.49 142,21.92 143,13.74 144,8.52 145,10.57 146,16.42 147,18.81 148,20.1 149,16.63 150,10.21 151,2.21 152,11 153,15.07 154,21.5 155,22.49 156,27.82 157,28.75 158,30.12 159,26.45 160,23.8 161,22.06 162,20.29 163,15.14 164,9.08 165,4.92 166,2.29 167,11 168,12.18 169,17.3 170,21.7 171,24.02 172,29.78 173,35.41 174,36.89 175,34.71 176,29.32 177,24.61 178,18.35 179,14.51 180,10.54"/>
<polyline points="1,5.89 2,13.5 3,20.39 4,23.04 5,21.64 6,18.17 7,15.76 8,12.4 9,10.22 10,10.36 11,9.17 12,7.94 13,6.21 14,4.1 15,2.95 16,5.9 17,11.25 18,15.66 19,19.98 20,22.18 21,22.58 22,22.45 23,22.05 24,23.2 25,19.81 26,17.17 27,16.04 28,13.79 29,10.33 30,9 31,22.32 32,20.1 33,16.23 34,11.15 35,6.36 36,14.55 37,17.88 38,22.22 39,20.51 40,18.93 41,17.16 42,15.5 43,11.87 44,8.99 45,5.04 46,2.91 47,5.11 48,5.69 49,4.35 50,3.2 51,8.03 52,13.91 53,18.67 54,24.15 55,24.82 56,26.36 57,26.56 58,21.54 59,18.59 60,14.98 61,2.25 62,5.3 63,7.58 64,10.5 65,11.33 66,13.2 67,12 68,10.34 69,8.76 70,4.84 71,4.49 72,6.1 73,7.43 74,8.31 75,10.3 76,10.78 77,11.51 78,12.29 79,11.78 80,10.98 81,9.3 82,5.35 83,2.19 84,6 85,9.78 86,12.62 87,15.18 88,16.37 89,14.95 90,10.91 91,3.62 92,5.41 93,6.29 94,5.95 95,5.44 96,7.25 97,9.1 98,10.15 99,11.55 100,11.2 101,10.15 102,9.01 103,8.38 104,5.84 105,7.38 106,9.31 107,11.39 108,12.9 109,15.58 110,16.75 111,15.56 112,14.9 113,14.2 114,11.49 115,8.64 116,5 117,2.16 118,5.27 119,7.7 120,9.51 121,19.17 122,23.05 123,25.06 124,26.21 125,25.59 126,22.42 127,18.48 128,13.5 129,9.05 130,5.62 131,2.88 132,8.43 133,10.34 134,14.64 135,15.72 136,19.6 137,23.99 138,27.48 139,30.08 140,31.7 141,27.72 142,22.14 143,14.17 144,8.64 145,10.95 146,16.79 147,19.22 148,19.58 149,15.75 150,9.18 151,2.21 152,10.61 153,14.93 154,20.64 155,24.74 156,27.09 157,29 158,30.35 159,27.01 160,24.03 161,23.5 162,20.47 163,15.48 164,9.5 165,4.79 166,2.42 167,10.72 168,12.23 169,17.3 170,21.13 171,24.42 172,31.17 173,34.79 174,38.3 175,34.77 176,29.21 177,24.47 178,20.4 179,14.53 180,10.95"/>
<polyline points="1,6 2,13.78 3,21 4,24.4 5,22.17 6,18 7,15.17 8,12.25 9,10.2 10,10.22 11,9.26 12,8.5 13,6.5 14,4.5 15,3 16,5.61 17,10.91 18,15.39 19,19.18 20,22.11 21,23.01 22,22.19 23,23.5 24,23.1 25,20.55 26,17.55 27,15.77 28,13.68 29,11.16 30,8.2 31,22.51 32,20.5 33,16.64 34,12.5 35,6.88 36,13.32 37,18.5 38,20.74 39,19.04 40,19.8 41,18.3 42,15.5 43,12.5 44,8.86 45,5.4 46,2.99 47,5.18 48,5.49 49,4.09 50,3.2 51,8.38 52,14 53,19.5 54,24.17 55,25.48 56,26.3 57,26.92 58,21.03 59,18.95 60,13.67 61,2.5 62,5.5 63,8.16 64,10.44 65,11.46 66,12.62 67,11.4 68,10.61 69,9.11 70,5 71,4.61 72,6 73,7.5 74,8.31 75,9.75 76,10.51 77,12.29 78,12.74 79,12.3 80,11 81,9.5 82,4.99 83,2.39 84,5.13 85,9.08 86,12.11 87,15.06 88,15.65 89,15.3 90,11.19 91,4 92,5.47 93,6.48 94,6.52 95,5.18 96,7.34 97,8.47 98,10.78 99,11.63 100,11.6 101,10.63 102,9.8 103,7.94 104,5.68 105,7.15 106,8.99 107,11 108,13.49 109,15.8 110,16.75 111,15.33 112,15.57 113,13.59 114,10.89 115,8.32 116,4.61 117,2.31 118,5.5 119,8 120,10 121,19.01 122,22.59 123,26.33 124,26.43 125,24.45 126,21.5 127,18.76 128,13.29 129,9.5 130,5.75 131,2.72 132,7.59 133,10.57 134,13.32 135,16.26 136,20.56 137,24.63 138,28.5 139,30.5 140,31.65 141,29.09 142,23 143,15 144,8.24 145,10.81 146,15.9 147,19.09 148,20.1 149,17 150,10.23 151,2.31 152,10.74 153,14.94 154,20.01 155,24.45 156,27.2 157,29.6 158,30.4 159,26.48 160,25.02 161,23.36 162,19.28 163,14.4 164,9.04 165,4.7 166,2.5 167,10.79 168,12.57 169,17.3 170,21.46 171,23.71 172,28.26 173,34.16 174,37.76 175,35.14 176,29.8 177,23.11 178,20.4 179,15.33 180,10.94"/>
<polyline points="1,5.94 2,13.74 3,20.86 4,24.4 5,22.3 6,18.44 7,15.13 8,12.69 9,10.59 10,10.06 11,9.08 12,8.5 13,6.43 14,4.21 15,2.87 16,5.94 17,11.06 18,15.52 19,19.81 20,22.47 21,23.9 22,23.09 23,23.32 24,22.81 25,20.85 26,18.5 27,16.5 28,13.32 29,10.9 30,8.62 31,22.13 32,20.22 33,17 34,12.5 35,6.81 36,14.61 37,18.79 38,22.03 39,19.03 40,18.75 41,17.9 42,14.5 43,12.5 44,8.55 45,5.19 46,3.14 47,5.21 48,5.67 49,4.01 50,3.08 51,8.5 52,13.63 53,18.18 54,23.41 55,24.88 56,26.88 57,26.57 58,21.8 59,16.57 60,13.63 61,2.06 62,5.3 63,7.94 64,10.23 65,11.48 66,12.95 67,11.75 68,10.55 69,9.5 70,4.71 71,4.25 72,5.57 73,7.07 74,8.61 75,9.94 76,11.19 77,12.09 78,12.99 79,12.3 80,10.85 81,9.11 82,4.69 83,2.5 84,5.54 85,9.96 86,12.75 87,14.43 88,15.66 89,14.44 90,11.27 91,4 92,5.24 93,6.17 94,6.31 95,5.5 96,7.5 97,8.96 98,10.82 99,11.43 100,11.6 101,10.78 102,9.11 103,8.5 104,6 105,7.5 106,9.08 107,11.5 108,13.7 109,15.15 110,16.03 111,15.24 112,15.45 113,13.75 114,11.67 115,9.14 116,5 117,2.29 118,5.48 119,7.92 120,9.71 121,19.22 122,23.5 123,26.5 124,27.6 125,24.91 126,23.36 127,20 128,13.19 129,9.2 130,6 131,2.99 132,8.19 133,10.52 134,13.91 135,16.14 136,19.15 137,24.48 138,28.13 139,30.5 140,31.4 141,29.32 142,21.66 143,15 144,9 145,11 146,16.14 147,19.3 148,20.1 149,16.53 150,8.96 151,2.5 152,10.84 153,16 154,19.04 155,24.33 156,28.33 157,28.95 158,30.36 159,27.11 160,25.4 161,23.5 162,19.73 163,15.36 164,9.32 165,4.67 166,2.5 167,11 168,12.51 169,16.41 170,21.47 171,24.97 172,31.19 173,34.94 174,37.27 175,35.5 176,27.24 177,25 178,19.28 179,15.36 180,10.71"/>
<polyline points="1,5.87 2,13.22 3,21 4,23.65 5,22.06 6,18.45 7,16 8,12.54 9,11 10,9.8 11,9.19 12,8.3 13,6.12 14,4.5 15,2.85 16,5.62 17,11.34 18,16 19,19.78 20,22.5 21,22.99 22,22.59 23,23.15 24,22.53 25,20.59 26,17.99 27,15.56 28,13.32 29,10.85 30,8.39 31,22.7 32,20.08 33,16.57 34,11.37 35,7 36,14.13 37,19.8 38,22.02 39,21.2 40,19.8 41,18.3 42,15.5 43,12.14 44,9.11 45,5.42 46,3.2 47,5.35 48,5.68 49,4.26 50,3.2 51,8.43 52,13.21 53,18.39 54,24.06 55,24.82 56,27.3 57,27.83 58,22.6 59,19.16 60,14.68 61,2.5 62,5.34 63,8.26 64,10.37 65,11.99 66,13.2 67,12 68,10.81 69,9.5 70,4.69 71,4.7 72,5.8 73,7.02 74,8.55 75,9.71 76,11.23 77,11.98 78,12.94 79,12.3 80,10.69 81,9.28 82,5.5 83,2.45 84,6 85,9.72 86,13 87,15.22 88,16.5 89,15.3 90,11.32 91,4 92,5.04 93,6.5 94,6.6 95,4.9 96,7.5 97,8.73 98,10.73 99,11.66 100,11.35 101,10.71 102,9.41 103,8.49 104,6 105,7.5 106,9.35 107,11.5 108,13.7 109,15.8 110,16.75 111,15.94 112,15.76 113,14.2 114,11.41 115,9.04 116,4.48 117,2.5 118,5.48 119,7.17 120,9.73 121,18.27 122,23.27 123,26.5 124,26.12 125,25.7 126,23.39 127,20 128,13.35 129,9.2 130,6 131,3 132,8.5 133,11.24 134,14.7 135,16.81 136,20.23 137,23.86 138,27.22 139,30.17 140,31.7 141,28.22 142,21.16 143,14.35 144,9 145,10.95 146,16.82 147,19.02 148,19.93 149,16.48 150,10.5 151,2.5 152,11 153,15.97 154,21.5 155,23.52 156,28.4 157,29.6 158,30.36 159,27.02 160,25.4 161,20.26 162,19.7 163,15.5 164,9.01 165,5 166,2.15 167,10.59 168,11.89 169,17.23 170,21.25 171,25.39 172,31.74 173,35.8 174,38.27 175,35 176,29.8 177,25 178,20.4 179,15.37 180,11"/>
<polyline points="1,5.84 2,13.8 3,20.35 4,24.4 5,22.3 6,18.97 7,16 8,13.2 9,11 10,10.5 11,9.11 12,8.2 13,6.23 14,4.45 15,2.6 16,5.9 17,11.28 18,15.85 19,19.55 20,22.5 21,23.9 22,22.87 23,22.99 24,22.61 25,21 26,18.5 27,16.19 28,14 29,11.49 30,8.61 31,22.7 32,20.5 33,16.04 34,12.17 35,7 36,13.88 37,18.52 38,22.3 39,21.16 40,19.8 41,17.85 42,14.71 43,12.19 44,9.5 45,5.49 46,3.1 47,5.5 48,5.71 49,4.31 50,3.05 51,8.33 52,13.16 53,19.33 54,23.26 55,25.9 56,27.21 57,27.6 58,21.88 59,19.4 60,13.77 61,2.34 62,5.06 63,8.3 64,10.12 65,11.47 66,13.2 67,11.91 68,10.72 69,9.5 70,4.66 71,4.7 72,5.62 73,7.38 74,8.64 75,9.85 76,11.6 77,11.83 78,12.92 79,12.23 80,10.83 81,9.5 82,5.5 83,2.5 84,5.88 85,9.77 86,13 87,15.3 88,15.76 89,15.3 90,10.91 91,3.97 92,5.39 93,6.5 94,6.6 95,5.42 96,7.49 97,8.66 98,10.57 99,11.75 100,11.6 101,10.78 102,9.8 103,8.23 104,5.89 105,7.43 106,9.38 107,10.93 108,13.03 109,15.8 110,16.75 111,16.17 112,15.8 113,13.79 114,11.7 115,9.09 116,4.74 117,1.98 118,5.41 119,7.64 120,10 121,18.7 122,23.4 123,25.97 124,26.88 125,25.28 126,22.8 127,20 128,12.99 129,9.5 130,5.83 131,2.9 132,7.51 133,11.5 134,13.72 135,17 136,20.8 137,24.87 138,27.25 139,30.5 140,31.7 141,29.1 142,23 143,14.24 144,8.94 145,11 146,17 147,19.3 148,19.66 149,16.3 150,10.12 151,2.5 152,10.55 153,16 154,21.5 155,25 156,28.4 157,28.91 158,29.99 159,27.12 160,25.4 161,23.1 162,20.27 163,15.5 164,9.07 165,5 166,2.38 167,10.42 168,12.8 169,17.3 170,21.16 171,24.73 172,31.29 173,35.01 174,38.22 175,35.5 176,27.62 177,25 178,20.02 179,15.5 180,10.87"/>
<polyline points="1,5.99 2,13.22 3,21 4,24.38 5,21.92 6,18.75 7,16 8,13.2 9,10.8 10,10.5 11,9.19 12,8.5 13,5.99 14,4.3 15,2.94 16,5.86 17,11.15 18,16 19,20 20,22.5 21,23.9 22,23.3 23,23.34 24,23.42 25,20.21 26,18.3 27,16.5 28,14 29,10.61 30,8.88 31,22.7 32,20.5 33,16.57 34,11.6 35,6.77 36,14.48 37,19.19 38,21.98 39,21.2 40,19.66 41,18.3 42,15.5 43,11.78 44,9.08 45,5.22 46,3.13 47,5.33 48,5.72 49,4.5 50,3.2 51,8.5 52,14 53,18.26 54,24.3 55,25.9 56,27.3 57,27.53 58,21.67 59,19.4 60,15 61,2.3 62,5.5 63,7.79 64,10.24 65,12 66,12.81 67,11.56 68,10.62 69,9.5 70,5 71,4.7 72,6.1 73,7.03 74,8.98 75,9.64 76,11.22 77,12.5 78,12.47 79,12.04 80,11 81,9.5 82,5.49 83,2.5 84,5.91 85,9.71 86,12.66 87,15.17 88,15.87 89,14.66 90,10.99 91,4 92,5.5 93,6.5 94,6.44 95,5.19 96,7.1 97,8.96 98,10.72 99,12.1 100,11.55 101,10.25 102,9.8 103,8.09 104,6 105,7.5 106,9.29 107,11.36 108,12.94 109,15.17 110,16.75 111,15.73 112,15.55 113,14.2 114,11.7 115,9.2 116,5 117,2.12 118,5.39 119,7.99 120,10 121,19.5 122,23.5 123,26.5 124,27.6 125,25.6 126,23.02 127,18.79 128,12.82 129,9.47 130,6 131,3 132,8.5 133,11.5 134,14.55 135,17 136,21 137,23.68 138,28.34 139,29.44 140,31.62 141,29.06 142,22.07 143,15 144,8.71 145,11 146,17 147,18.68 148,18.91 149,15.14 150,10.29 151,2.32 152,11 153,16 154,21.5 155,25 156,28.4 157,29.2 158,29 159,27.1 160,24.72 161,22.15 162,21 163,15.5 164,9.5 165,5 166,2.5 167,10.87 168,12.36 169,15.76 170,20.65 171,23.87 172,31.8 173,35.8 174,38.3 175,35.5 176,29.8 177,25 178,19.56 179,15.5 180,10.98"/>
<polyline points="134,10 135,12.5 136,15.5 137,18.5 138,21 139,22.6 140,23.2 141,21.5 142,17 143,11"/>
<polyline points="134,10.5 135,13 136,16 137,19 138,21.5 139,23.2 140,24 141,22 142,17.5 143,11.5"/>
<polyline points="134,9.5 135,12 136,15 137,18 138,20.4 139,22 140,22.6 141,21 142,16.5 143,10.5"/>
<polyline points="179,11.5 180,5.25"/>
<polyline points="17,10 18,13 19,15 20,16.3 21,17.2 22,17.6 23,17.6 24,17 25,15.5 26,13.5 27,11.5"/>
<polyline points="17,10 18,13.3 19,15.4 20,16.8 21,17.6 22,17.9 23,17.3 24,16.6 25,15 26,13.2 27,11.5"/>
</g>
</g>
<g fill="#000" shape-rendering="crispEdges">
<rect x="194.2" y="62.5" width="2.7" height="1310.5"/>
<rect x="194" y="1370" width="1538" height="3"/>
<rect x="194" y="1043.3" width="18" height="2.6"/>
<rect x="194" y="716.5" width="18" height="2.6"/>
<rect x="194" y="389.6" width="18" height="2.6"/>
<rect x="194" y="62.7" width="18" height="2.6"/>
<rect x="578.0" y="1353" width="2.6" height="19"/>
<rect x="961.8" y="1353" width="2.6" height="19"/>
<rect x="1345.5" y="1353" width="2.6" height="19"/>
<rect x="1729.2" y="1353" width="2.6" height="19"/>
</g>
<g font-size="71.5">
<text x="183" y="1397.8" text-anchor="end" letter-spacing="-1.5">0</text>
<text x="183" y="1070.9" text-anchor="end" letter-spacing="-1.5">10</text>
<text x="183" y="744.0" text-anchor="end" letter-spacing="-1.5">20</text>
<text x="183" y="417.1" text-anchor="end" letter-spacing="-1.5">30</text>
<text x="183" y="90.2" text-anchor="end" letter-spacing="-1.5">40</text>
<text x="194.5" y="1448.7" text-anchor="middle">0</text>
<text x="578.2" y="1448.7" text-anchor="middle">50</text>
<text x="962.0" y="1448.7" text-anchor="middle">100</text>
<text x="1345.8" y="1448.7" text-anchor="middle">150</text>
<text x="1729.5" y="1448.7" text-anchor="middle">200</text>
</g>
<g font-size="70">
<text transform="translate(689,1512) scale(1,1.05)" textLength="536" lengthAdjust="spacing">Subcarrier index</text>
<text transform="translate(77,968.7) rotate(-90) scale(1,1.05)" textLength="491.5" lengthAdjust="spacing">Amplitude [dB]</text>
</g>
<g shape-rendering="crispEdges">
<rect x="325" y="102" width="457" height="314" fill="#fff" stroke="#000" stroke-width="2.2"/>
<rect x="344" y="156" width="104" height="2" fill="#1a1a90"/>
<rect x="344" y="258" width="104" height="2" fill="#00d050"/>
<rect x="344" y="356" width="104" height="2" fill="#000"/>
</g>
<g font-size="70">
<text transform="translate(459,182) scale(1,1.05)" textLength="306" lengthAdjust="spacing">Location1</text>
<text transform="translate(459,285) scale(1,1.05)" textLength="306" lengthAdjust="spacing">Location2</text>
<text transform="translate(459,386.4) scale(1,1.05)" textLength="306" lengthAdjust="spacing">Location3</text>
</g>
</svg></body></html>
